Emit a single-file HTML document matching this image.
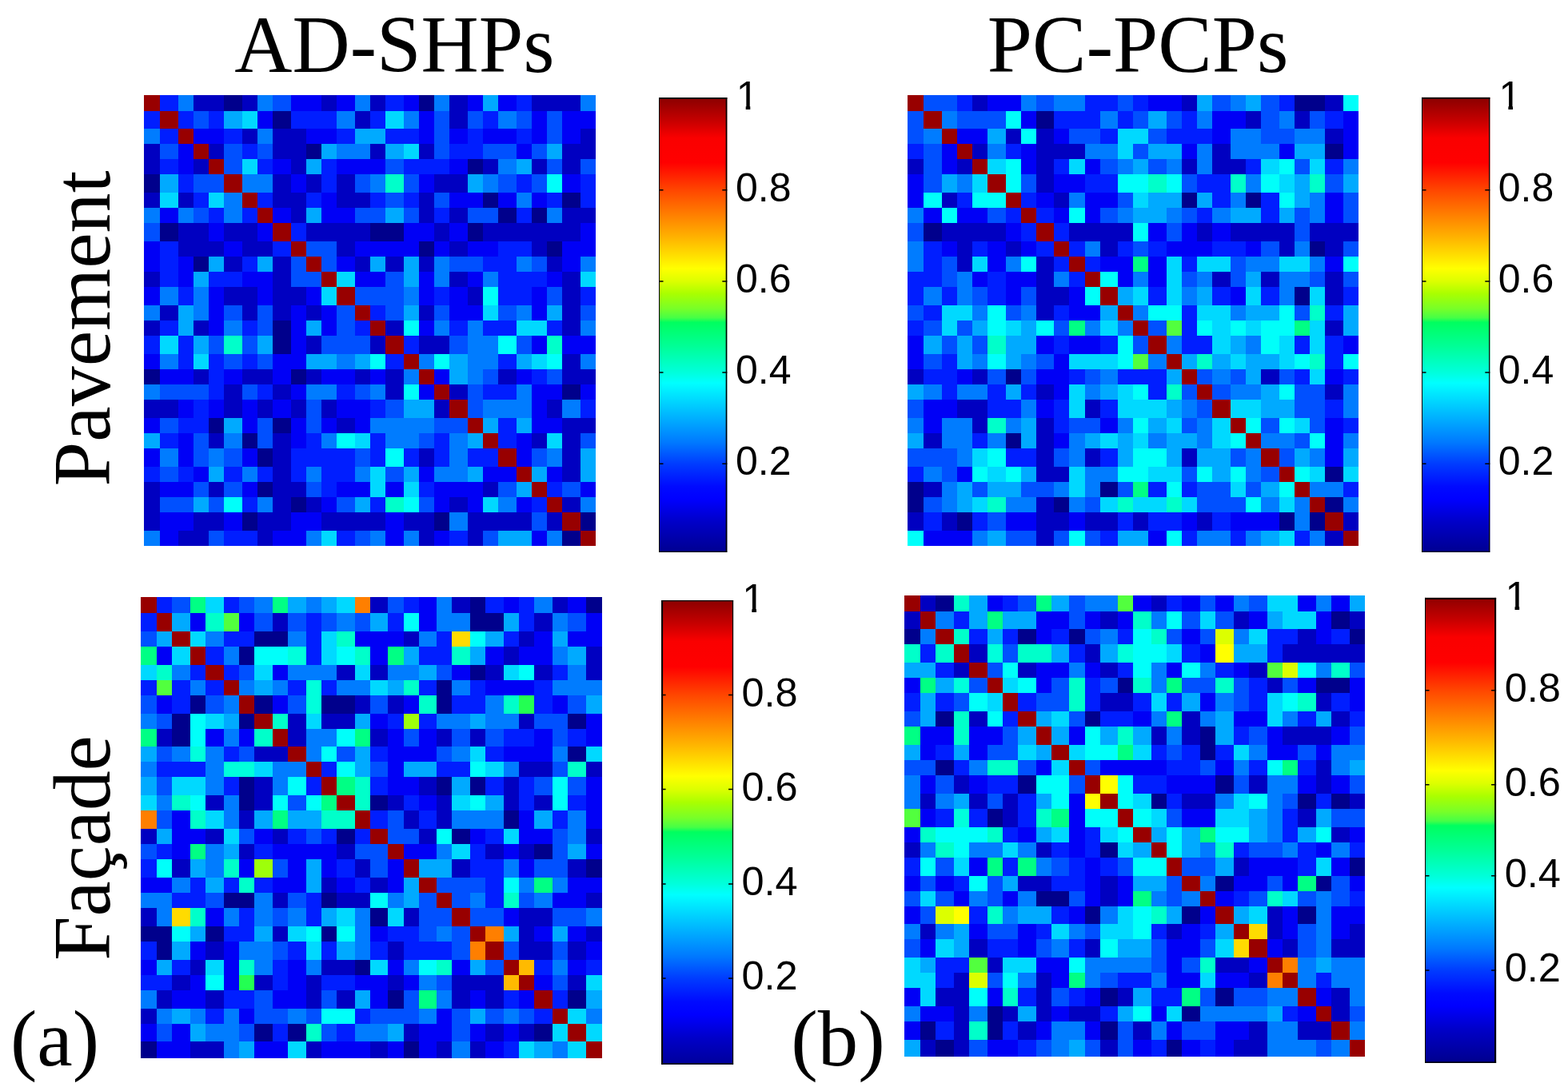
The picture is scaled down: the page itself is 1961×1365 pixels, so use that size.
<!DOCTYPE html>
<html lang="en"><head><meta charset="utf-8"><title>Correlation matrices</title>
<style>html,body{margin:0;padding:0;background:#fff}body{width:1961px;height:1365px;overflow:hidden}svg{display:block}.hm rect{shape-rendering:crispEdges}.t{font-family:"Liberation Serif",serif;fill:#000}.tl{font-family:"Liberation Sans",sans-serif;fill:#000}.tk{stroke:#000;stroke-width:1.5;fill:none}.bk{fill:#000}.k0{fill:#00008c}.k1{fill:#0000c1}.k2{fill:#0000f6}.k3{fill:#001eff}.k4{fill:#0050ff}.k5{fill:#007cff}.k6{fill:#00aaff}.k7{fill:#00d9ff}.k8{fill:#00fffa}.k9{fill:#00ffca}.ka{fill:#00ff84}.kb{fill:#52ff3e}.kc{fill:#dcff00}.kd{fill:#ffff00}.ke{fill:#ffba00}.kg{fill:#ff7f00}.kf{fill:#980000}.kh{fill:#00ffdc}.ki{fill:#9eff0a}.kj{fill:#ffdb00}.kk{fill:#23ff52}</style></head><body>
<svg width="1961" height="1365" viewBox="0 0 1961 1365">
<rect width="1961" height="1365" fill="#fff"/>
<text class="t" transform="translate(493.3 90) scale(0.985 1)" font-size="101.5" text-anchor="middle">AD-SHPs</text>
<text class="t" transform="translate(1423 90) scale(0.996 1)" font-size="101.5" text-anchor="middle">PC-PCPs</text>
<text class="t" transform="translate(136.5 411) rotate(-90) scale(0.987 1)" font-size="101.5" text-anchor="middle">Pavement</text>
<text class="t" transform="translate(136.5 1061) rotate(-90) scale(0.979 1)" font-size="101.5" text-anchor="middle">Façade</text>
<text class="t" transform="translate(68.5 1333) scale(1.005 1)" font-size="99.5" text-anchor="middle">(a)</text>
<text class="t" transform="translate(1048 1333) scale(1.013 1)" font-size="99.5" text-anchor="middle">(b)</text>
<g class="hm">
<rect class="kf" x="180" y="119" width="20.4" height="19.9"/>
<rect class="k3" x="200" y="119" width="23.3" height="19.9"/>
<rect class="k5" x="222.9" y="119" width="19.4" height="19.9"/>
<rect class="k1" x="241.9" y="119" width="38.5" height="19.9"/>
<rect class="k0" x="280" y="119" width="23.3" height="19.9"/>
<rect class="k1" x="302.9" y="119" width="19.4" height="19.9"/>
<rect class="k5" x="321.9" y="119" width="19.4" height="19.9"/>
<rect class="k4" x="340.9" y="119" width="23.3" height="19.9"/>
<rect class="k2" x="363.8" y="119" width="38.5" height="19.9"/>
<rect class="k1" x="401.9" y="119" width="19.4" height="19.9"/>
<rect class="k2" x="420.9" y="119" width="23.3" height="19.9"/>
<rect class="k5" x="443.8" y="119" width="19.4" height="19.9"/>
<rect class="k1" x="462.8" y="119" width="19.4" height="19.9"/>
<rect class="k3" x="481.8" y="119" width="23.3" height="19.9"/>
<rect class="k2" x="504.7" y="119" width="19.4" height="19.9"/>
<rect class="k0" x="523.7" y="119" width="19.5" height="19.9"/>
<rect class="k5" x="542.8" y="119" width="19.4" height="19.9"/>
<rect class="k1" x="561.8" y="119" width="23.2" height="19.9"/>
<rect class="k2" x="584.6" y="119" width="19.5" height="19.9"/>
<rect class="k6" x="603.7" y="119" width="19.4" height="19.9"/>
<rect class="k2" x="622.7" y="119" width="23.3" height="19.9"/>
<rect class="k3" x="645.6" y="119" width="19.4" height="19.9"/>
<rect class="k1" x="664.6" y="119" width="61.3" height="19.9"/>
<rect class="k5" x="725.5" y="119" width="19.5" height="19.9"/>
<rect class="k3" x="180" y="138.5" width="20.4" height="23.2"/>
<rect class="kf" x="200" y="138.5" width="23.3" height="23.2"/>
<rect class="k3" x="222.9" y="138.5" width="19.4" height="23.2"/>
<rect class="k4" x="241.9" y="138.5" width="19.5" height="23.2"/>
<rect class="k3" x="261" y="138.5" width="19.4" height="23.2"/>
<rect class="k6" x="280" y="138.5" width="23.3" height="23.2"/>
<rect class="k7" x="302.9" y="138.5" width="19.4" height="23.2"/>
<rect class="k2" x="321.9" y="138.5" width="19.4" height="23.2"/>
<rect class="k0" x="340.9" y="138.5" width="23.3" height="23.2"/>
<rect class="k3" x="363.8" y="138.5" width="57.5" height="23.2"/>
<rect class="k5" x="420.9" y="138.5" width="23.3" height="23.2"/>
<rect class="k1" x="443.8" y="138.5" width="19.4" height="23.2"/>
<rect class="k3" x="462.8" y="138.5" width="19.4" height="23.2"/>
<rect class="k7" x="481.8" y="138.5" width="23.3" height="23.2"/>
<rect class="k5" x="504.7" y="138.5" width="19.4" height="23.2"/>
<rect class="k2" x="523.7" y="138.5" width="19.5" height="23.2"/>
<rect class="k4" x="542.8" y="138.5" width="19.4" height="23.2"/>
<rect class="k1" x="561.8" y="138.5" width="23.2" height="23.2"/>
<rect class="k4" x="584.6" y="138.5" width="19.5" height="23.2"/>
<rect class="k3" x="603.7" y="138.5" width="19.4" height="23.2"/>
<rect class="k5" x="622.7" y="138.5" width="23.3" height="23.2"/>
<rect class="k4" x="645.6" y="138.5" width="19.4" height="23.2"/>
<rect class="k2" x="664.6" y="138.5" width="19.5" height="23.2"/>
<rect class="k4" x="683.7" y="138.5" width="19.4" height="23.2"/>
<rect class="k2" x="702.7" y="138.5" width="42.3" height="23.2"/>
<rect class="k5" x="180" y="161.3" width="20.4" height="19.5"/>
<rect class="k3" x="200" y="161.3" width="23.3" height="19.5"/>
<rect class="kf" x="222.9" y="161.3" width="19.4" height="19.5"/>
<rect class="k2" x="241.9" y="161.3" width="38.5" height="19.5"/>
<rect class="k3" x="280" y="161.3" width="23.3" height="19.5"/>
<rect class="k1" x="302.9" y="161.3" width="19.4" height="19.5"/>
<rect class="k5" x="321.9" y="161.3" width="19.4" height="19.5"/>
<rect class="k1" x="340.9" y="161.3" width="42.3" height="19.5"/>
<rect class="k2" x="382.8" y="161.3" width="38.5" height="19.5"/>
<rect class="k3" x="420.9" y="161.3" width="23.3" height="19.5"/>
<rect class="k6" x="443.8" y="161.3" width="38.4" height="19.5"/>
<rect class="k3" x="481.8" y="161.3" width="42.3" height="19.5"/>
<rect class="k2" x="523.7" y="161.3" width="19.5" height="19.5"/>
<rect class="k4" x="542.8" y="161.3" width="19.4" height="19.5"/>
<rect class="k2" x="561.8" y="161.3" width="23.2" height="19.5"/>
<rect class="k3" x="584.6" y="161.3" width="19.5" height="19.5"/>
<rect class="k2" x="603.7" y="161.3" width="42.3" height="19.5"/>
<rect class="k3" x="645.6" y="161.3" width="19.4" height="19.5"/>
<rect class="k2" x="664.6" y="161.3" width="19.5" height="19.5"/>
<rect class="k4" x="683.7" y="161.3" width="19.4" height="19.5"/>
<rect class="k2" x="702.7" y="161.3" width="23.2" height="19.5"/>
<rect class="k1" x="725.5" y="161.3" width="19.5" height="19.5"/>
<rect class="k1" x="180" y="180.4" width="20.4" height="19.4"/>
<rect class="k4" x="200" y="180.4" width="23.3" height="19.4"/>
<rect class="k2" x="222.9" y="180.4" width="19.4" height="19.4"/>
<rect class="kf" x="241.9" y="180.4" width="19.5" height="19.4"/>
<rect class="k1" x="261" y="180.4" width="19.4" height="19.4"/>
<rect class="k4" x="280" y="180.4" width="23.3" height="19.4"/>
<rect class="k3" x="302.9" y="180.4" width="19.4" height="19.4"/>
<rect class="k4" x="321.9" y="180.4" width="19.4" height="19.4"/>
<rect class="k1" x="340.9" y="180.4" width="42.3" height="19.4"/>
<rect class="k0" x="382.8" y="180.4" width="19.5" height="19.4"/>
<rect class="k6" x="401.9" y="180.4" width="19.4" height="19.4"/>
<rect class="k5" x="420.9" y="180.4" width="42.3" height="19.4"/>
<rect class="k1" x="462.8" y="180.4" width="19.4" height="19.4"/>
<rect class="k6" x="481.8" y="180.4" width="23.3" height="19.4"/>
<rect class="k7" x="504.7" y="180.4" width="19.4" height="19.4"/>
<rect class="k1" x="523.7" y="180.4" width="19.5" height="19.4"/>
<rect class="k4" x="542.8" y="180.4" width="19.4" height="19.4"/>
<rect class="k3" x="561.8" y="180.4" width="42.3" height="19.4"/>
<rect class="k4" x="603.7" y="180.4" width="42.3" height="19.4"/>
<rect class="k2" x="645.6" y="180.4" width="19.4" height="19.4"/>
<rect class="k4" x="664.6" y="180.4" width="19.5" height="19.4"/>
<rect class="k6" x="683.7" y="180.4" width="19.4" height="19.4"/>
<rect class="k1" x="702.7" y="180.4" width="42.3" height="19.4"/>
<rect class="k1" x="180" y="199.4" width="20.4" height="19.4"/>
<rect class="k3" x="200" y="199.4" width="23.3" height="19.4"/>
<rect class="k2" x="222.9" y="199.4" width="19.4" height="19.4"/>
<rect class="k1" x="241.9" y="199.4" width="19.5" height="19.4"/>
<rect class="kf" x="261" y="199.4" width="19.4" height="19.4"/>
<rect class="k4" x="280" y="199.4" width="23.3" height="19.4"/>
<rect class="k7" x="302.9" y="199.4" width="19.4" height="19.4"/>
<rect class="k3" x="321.9" y="199.4" width="19.4" height="19.4"/>
<rect class="k2" x="340.9" y="199.4" width="23.3" height="19.4"/>
<rect class="k1" x="363.8" y="199.4" width="19.4" height="19.4"/>
<rect class="k6" x="382.8" y="199.4" width="19.5" height="19.4"/>
<rect class="k3" x="401.9" y="199.4" width="19.4" height="19.4"/>
<rect class="k2" x="420.9" y="199.4" width="61.3" height="19.4"/>
<rect class="k4" x="481.8" y="199.4" width="23.3" height="19.4"/>
<rect class="k3" x="504.7" y="199.4" width="57.5" height="19.4"/>
<rect class="k2" x="561.8" y="199.4" width="23.2" height="19.4"/>
<rect class="k0" x="584.6" y="199.4" width="19.5" height="19.4"/>
<rect class="k1" x="603.7" y="199.4" width="19.4" height="19.4"/>
<rect class="k5" x="622.7" y="199.4" width="23.3" height="19.4"/>
<rect class="k6" x="645.6" y="199.4" width="19.4" height="19.4"/>
<rect class="k1" x="664.6" y="199.4" width="19.5" height="19.4"/>
<rect class="k4" x="683.7" y="199.4" width="19.4" height="19.4"/>
<rect class="k1" x="702.7" y="199.4" width="23.2" height="19.4"/>
<rect class="k4" x="725.5" y="199.4" width="19.5" height="19.4"/>
<rect class="k0" x="180" y="218.4" width="20.4" height="23.2"/>
<rect class="k6" x="200" y="218.4" width="23.3" height="23.2"/>
<rect class="k3" x="222.9" y="218.4" width="19.4" height="23.2"/>
<rect class="k4" x="241.9" y="218.4" width="38.5" height="23.2"/>
<rect class="kf" x="280" y="218.4" width="23.3" height="23.2"/>
<rect class="k5" x="302.9" y="218.4" width="38.4" height="23.2"/>
<rect class="k1" x="340.9" y="218.4" width="23.3" height="23.2"/>
<rect class="k2" x="363.8" y="218.4" width="19.4" height="23.2"/>
<rect class="k1" x="382.8" y="218.4" width="19.5" height="23.2"/>
<rect class="k3" x="401.9" y="218.4" width="19.4" height="23.2"/>
<rect class="k1" x="420.9" y="218.4" width="23.3" height="23.2"/>
<rect class="k4" x="443.8" y="218.4" width="19.4" height="23.2"/>
<rect class="k5" x="462.8" y="218.4" width="19.4" height="23.2"/>
<rect class="k9" x="481.8" y="218.4" width="23.3" height="23.2"/>
<rect class="k4" x="504.7" y="218.4" width="19.4" height="23.2"/>
<rect class="k2" x="523.7" y="218.4" width="19.5" height="23.2"/>
<rect class="k1" x="542.8" y="218.4" width="42.2" height="23.2"/>
<rect class="k6" x="584.6" y="218.4" width="19.5" height="23.2"/>
<rect class="k5" x="603.7" y="218.4" width="19.4" height="23.2"/>
<rect class="k4" x="622.7" y="218.4" width="23.3" height="23.2"/>
<rect class="k3" x="645.6" y="218.4" width="19.4" height="23.2"/>
<rect class="k4" x="664.6" y="218.4" width="19.5" height="23.2"/>
<rect class="k8" x="683.7" y="218.4" width="19.4" height="23.2"/>
<rect class="k2" x="702.7" y="218.4" width="23.2" height="23.2"/>
<rect class="k3" x="725.5" y="218.4" width="19.5" height="23.2"/>
<rect class="k1" x="180" y="241.2" width="20.4" height="19.4"/>
<rect class="k7" x="200" y="241.2" width="23.3" height="19.4"/>
<rect class="k1" x="222.9" y="241.2" width="19.4" height="19.4"/>
<rect class="k3" x="241.9" y="241.2" width="19.5" height="19.4"/>
<rect class="k7" x="261" y="241.2" width="19.4" height="19.4"/>
<rect class="k5" x="280" y="241.2" width="23.3" height="19.4"/>
<rect class="kf" x="302.9" y="241.2" width="19.4" height="19.4"/>
<rect class="k3" x="321.9" y="241.2" width="19.4" height="19.4"/>
<rect class="k1" x="340.9" y="241.2" width="42.3" height="19.4"/>
<rect class="k3" x="382.8" y="241.2" width="19.5" height="19.4"/>
<rect class="k2" x="401.9" y="241.2" width="19.4" height="19.4"/>
<rect class="k1" x="420.9" y="241.2" width="42.3" height="19.4"/>
<rect class="k3" x="462.8" y="241.2" width="19.4" height="19.4"/>
<rect class="k4" x="481.8" y="241.2" width="23.3" height="19.4"/>
<rect class="k3" x="504.7" y="241.2" width="19.4" height="19.4"/>
<rect class="k1" x="523.7" y="241.2" width="19.5" height="19.4"/>
<rect class="k4" x="542.8" y="241.2" width="19.4" height="19.4"/>
<rect class="k2" x="561.8" y="241.2" width="42.3" height="19.4"/>
<rect class="k0" x="603.7" y="241.2" width="19.4" height="19.4"/>
<rect class="k2" x="622.7" y="241.2" width="23.3" height="19.4"/>
<rect class="k5" x="645.6" y="241.2" width="19.4" height="19.4"/>
<rect class="k2" x="664.6" y="241.2" width="19.5" height="19.4"/>
<rect class="k3" x="683.7" y="241.2" width="19.4" height="19.4"/>
<rect class="k0" x="702.7" y="241.2" width="23.2" height="19.4"/>
<rect class="k3" x="725.5" y="241.2" width="19.5" height="19.4"/>
<rect class="k5" x="180" y="260.2" width="20.4" height="19.5"/>
<rect class="k2" x="200" y="260.2" width="23.3" height="19.5"/>
<rect class="k5" x="222.9" y="260.2" width="19.4" height="19.5"/>
<rect class="k4" x="241.9" y="260.2" width="19.5" height="19.5"/>
<rect class="k3" x="261" y="260.2" width="19.4" height="19.5"/>
<rect class="k5" x="280" y="260.2" width="23.3" height="19.5"/>
<rect class="k3" x="302.9" y="260.2" width="19.4" height="19.5"/>
<rect class="kf" x="321.9" y="260.2" width="19.4" height="19.5"/>
<rect class="k2" x="340.9" y="260.2" width="23.3" height="19.5"/>
<rect class="k1" x="363.8" y="260.2" width="19.4" height="19.5"/>
<rect class="k6" x="382.8" y="260.2" width="19.5" height="19.5"/>
<rect class="k2" x="401.9" y="260.2" width="42.3" height="19.5"/>
<rect class="k4" x="443.8" y="260.2" width="38.4" height="19.5"/>
<rect class="k6" x="481.8" y="260.2" width="23.3" height="19.5"/>
<rect class="k4" x="504.7" y="260.2" width="19.4" height="19.5"/>
<rect class="k1" x="523.7" y="260.2" width="19.5" height="19.5"/>
<rect class="k3" x="542.8" y="260.2" width="19.4" height="19.5"/>
<rect class="k1" x="561.8" y="260.2" width="23.2" height="19.5"/>
<rect class="k4" x="584.6" y="260.2" width="38.5" height="19.5"/>
<rect class="k0" x="622.7" y="260.2" width="23.3" height="19.5"/>
<rect class="k3" x="645.6" y="260.2" width="19.4" height="19.5"/>
<rect class="k0" x="664.6" y="260.2" width="19.5" height="19.5"/>
<rect class="k5" x="683.7" y="260.2" width="19.4" height="19.5"/>
<rect class="k1" x="702.7" y="260.2" width="42.3" height="19.5"/>
<rect class="k4" x="180" y="279.3" width="20.4" height="23.2"/>
<rect class="k0" x="200" y="279.3" width="23.3" height="23.2"/>
<rect class="k1" x="222.9" y="279.3" width="38.5" height="23.2"/>
<rect class="k2" x="261" y="279.3" width="19.4" height="23.2"/>
<rect class="k1" x="280" y="279.3" width="42.3" height="23.2"/>
<rect class="k2" x="321.9" y="279.3" width="19.4" height="23.2"/>
<rect class="kf" x="340.9" y="279.3" width="23.3" height="23.2"/>
<rect class="k3" x="363.8" y="279.3" width="19.4" height="23.2"/>
<rect class="k1" x="382.8" y="279.3" width="80.4" height="23.2"/>
<rect class="k0" x="462.8" y="279.3" width="42.3" height="23.2"/>
<rect class="k2" x="504.7" y="279.3" width="38.5" height="23.2"/>
<rect class="k1" x="542.8" y="279.3" width="19.4" height="23.2"/>
<rect class="k2" x="561.8" y="279.3" width="23.2" height="23.2"/>
<rect class="k0" x="584.6" y="279.3" width="19.5" height="23.2"/>
<rect class="k1" x="603.7" y="279.3" width="122.2" height="23.2"/>
<rect class="k2" x="725.5" y="279.3" width="19.5" height="23.2"/>
<rect class="k2" x="180" y="302.1" width="20.4" height="19.4"/>
<rect class="k3" x="200" y="302.1" width="23.3" height="19.4"/>
<rect class="k1" x="222.9" y="302.1" width="57.5" height="19.4"/>
<rect class="k2" x="280" y="302.1" width="23.3" height="19.4"/>
<rect class="k1" x="302.9" y="302.1" width="38.4" height="19.4"/>
<rect class="k3" x="340.9" y="302.1" width="23.3" height="19.4"/>
<rect class="kf" x="363.8" y="302.1" width="19.4" height="19.4"/>
<rect class="k4" x="382.8" y="302.1" width="38.5" height="19.4"/>
<rect class="k1" x="420.9" y="302.1" width="23.3" height="19.4"/>
<rect class="k2" x="443.8" y="302.1" width="80.3" height="19.4"/>
<rect class="k0" x="523.7" y="302.1" width="19.5" height="19.4"/>
<rect class="k2" x="542.8" y="302.1" width="19.4" height="19.4"/>
<rect class="k1" x="561.8" y="302.1" width="23.2" height="19.4"/>
<rect class="k2" x="584.6" y="302.1" width="38.5" height="19.4"/>
<rect class="k3" x="622.7" y="302.1" width="42.3" height="19.4"/>
<rect class="k1" x="664.6" y="302.1" width="19.5" height="19.4"/>
<rect class="k0" x="683.7" y="302.1" width="19.4" height="19.4"/>
<rect class="k2" x="702.7" y="302.1" width="42.3" height="19.4"/>
<rect class="k2" x="180" y="321.1" width="20.4" height="19.4"/>
<rect class="k3" x="200" y="321.1" width="23.3" height="19.4"/>
<rect class="k2" x="222.9" y="321.1" width="19.4" height="19.4"/>
<rect class="k0" x="241.9" y="321.1" width="19.5" height="19.4"/>
<rect class="k6" x="261" y="321.1" width="19.4" height="19.4"/>
<rect class="k1" x="280" y="321.1" width="23.3" height="19.4"/>
<rect class="k3" x="302.9" y="321.1" width="19.4" height="19.4"/>
<rect class="k6" x="321.9" y="321.1" width="19.4" height="19.4"/>
<rect class="k1" x="340.9" y="321.1" width="23.3" height="19.4"/>
<rect class="k4" x="363.8" y="321.1" width="19.4" height="19.4"/>
<rect class="kf" x="382.8" y="321.1" width="19.5" height="19.4"/>
<rect class="k4" x="401.9" y="321.1" width="19.4" height="19.4"/>
<rect class="k2" x="420.9" y="321.1" width="23.3" height="19.4"/>
<rect class="k1" x="443.8" y="321.1" width="19.4" height="19.4"/>
<rect class="k6" x="462.8" y="321.1" width="19.4" height="19.4"/>
<rect class="k1" x="481.8" y="321.1" width="23.3" height="19.4"/>
<rect class="k6" x="504.7" y="321.1" width="19.4" height="19.4"/>
<rect class="k1" x="523.7" y="321.1" width="19.5" height="19.4"/>
<rect class="k5" x="542.8" y="321.1" width="19.4" height="19.4"/>
<rect class="k4" x="561.8" y="321.1" width="42.3" height="19.4"/>
<rect class="k3" x="603.7" y="321.1" width="42.3" height="19.4"/>
<rect class="k5" x="645.6" y="321.1" width="19.4" height="19.4"/>
<rect class="k4" x="664.6" y="321.1" width="19.5" height="19.4"/>
<rect class="k1" x="683.7" y="321.1" width="19.4" height="19.4"/>
<rect class="k2" x="702.7" y="321.1" width="23.2" height="19.4"/>
<rect class="k5" x="725.5" y="321.1" width="19.5" height="19.4"/>
<rect class="k1" x="180" y="340.1" width="20.4" height="19.5"/>
<rect class="k3" x="200" y="340.1" width="23.3" height="19.5"/>
<rect class="k2" x="222.9" y="340.1" width="19.4" height="19.5"/>
<rect class="k6" x="241.9" y="340.1" width="19.5" height="19.5"/>
<rect class="k3" x="261" y="340.1" width="42.3" height="19.5"/>
<rect class="k2" x="302.9" y="340.1" width="38.4" height="19.5"/>
<rect class="k1" x="340.9" y="340.1" width="23.3" height="19.5"/>
<rect class="k4" x="363.8" y="340.1" width="38.5" height="19.5"/>
<rect class="kf" x="401.9" y="340.1" width="19.4" height="19.5"/>
<rect class="k7" x="420.9" y="340.1" width="23.3" height="19.5"/>
<rect class="k2" x="443.8" y="340.1" width="38.4" height="19.5"/>
<rect class="k4" x="481.8" y="340.1" width="23.3" height="19.5"/>
<rect class="k6" x="504.7" y="340.1" width="19.4" height="19.5"/>
<rect class="k2" x="523.7" y="340.1" width="19.5" height="19.5"/>
<rect class="k5" x="542.8" y="340.1" width="19.4" height="19.5"/>
<rect class="k1" x="561.8" y="340.1" width="23.2" height="19.5"/>
<rect class="k2" x="584.6" y="340.1" width="19.5" height="19.5"/>
<rect class="k5" x="603.7" y="340.1" width="19.4" height="19.5"/>
<rect class="k3" x="622.7" y="340.1" width="61.4" height="19.5"/>
<rect class="k2" x="683.7" y="340.1" width="19.4" height="19.5"/>
<rect class="k1" x="702.7" y="340.1" width="23.2" height="19.5"/>
<rect class="k7" x="725.5" y="340.1" width="19.5" height="19.5"/>
<rect class="k2" x="180" y="359.2" width="20.4" height="23.2"/>
<rect class="k5" x="200" y="359.2" width="23.3" height="23.2"/>
<rect class="k3" x="222.9" y="359.2" width="19.4" height="23.2"/>
<rect class="k5" x="241.9" y="359.2" width="19.5" height="23.2"/>
<rect class="k2" x="261" y="359.2" width="19.4" height="23.2"/>
<rect class="k1" x="280" y="359.2" width="42.3" height="23.2"/>
<rect class="k2" x="321.9" y="359.2" width="19.4" height="23.2"/>
<rect class="k1" x="340.9" y="359.2" width="42.3" height="23.2"/>
<rect class="k2" x="382.8" y="359.2" width="19.5" height="23.2"/>
<rect class="k7" x="401.9" y="359.2" width="19.4" height="23.2"/>
<rect class="kf" x="420.9" y="359.2" width="23.3" height="23.2"/>
<rect class="k4" x="443.8" y="359.2" width="61.3" height="23.2"/>
<rect class="k5" x="504.7" y="359.2" width="19.4" height="23.2"/>
<rect class="k2" x="523.7" y="359.2" width="19.5" height="23.2"/>
<rect class="k3" x="542.8" y="359.2" width="19.4" height="23.2"/>
<rect class="k2" x="561.8" y="359.2" width="23.2" height="23.2"/>
<rect class="k1" x="584.6" y="359.2" width="19.5" height="23.2"/>
<rect class="k8" x="603.7" y="359.2" width="19.4" height="23.2"/>
<rect class="k3" x="622.7" y="359.2" width="42.3" height="23.2"/>
<rect class="k2" x="664.6" y="359.2" width="19.5" height="23.2"/>
<rect class="k4" x="683.7" y="359.2" width="19.4" height="23.2"/>
<rect class="k1" x="702.7" y="359.2" width="23.2" height="23.2"/>
<rect class="k3" x="725.5" y="359.2" width="19.5" height="23.2"/>
<rect class="k5" x="180" y="382" width="20.4" height="19.4"/>
<rect class="k1" x="200" y="382" width="23.3" height="19.4"/>
<rect class="k6" x="222.9" y="382" width="19.4" height="19.4"/>
<rect class="k5" x="241.9" y="382" width="19.5" height="19.4"/>
<rect class="k2" x="261" y="382" width="19.4" height="19.4"/>
<rect class="k4" x="280" y="382" width="23.3" height="19.4"/>
<rect class="k1" x="302.9" y="382" width="19.4" height="19.4"/>
<rect class="k4" x="321.9" y="382" width="19.4" height="19.4"/>
<rect class="k1" x="340.9" y="382" width="23.3" height="19.4"/>
<rect class="k2" x="363.8" y="382" width="19.4" height="19.4"/>
<rect class="k1" x="382.8" y="382" width="19.5" height="19.4"/>
<rect class="k2" x="401.9" y="382" width="19.4" height="19.4"/>
<rect class="k4" x="420.9" y="382" width="23.3" height="19.4"/>
<rect class="kf" x="443.8" y="382" width="19.4" height="19.4"/>
<rect class="k3" x="462.8" y="382" width="19.4" height="19.4"/>
<rect class="k4" x="481.8" y="382" width="23.3" height="19.4"/>
<rect class="k6" x="504.7" y="382" width="19.4" height="19.4"/>
<rect class="k1" x="523.7" y="382" width="19.5" height="19.4"/>
<rect class="k4" x="542.8" y="382" width="19.4" height="19.4"/>
<rect class="k2" x="561.8" y="382" width="42.3" height="19.4"/>
<rect class="k7" x="603.7" y="382" width="19.4" height="19.4"/>
<rect class="k4" x="622.7" y="382" width="23.3" height="19.4"/>
<rect class="k5" x="645.6" y="382" width="19.4" height="19.4"/>
<rect class="k2" x="664.6" y="382" width="19.5" height="19.4"/>
<rect class="k6" x="683.7" y="382" width="19.4" height="19.4"/>
<rect class="k1" x="702.7" y="382" width="23.2" height="19.4"/>
<rect class="k4" x="725.5" y="382" width="19.5" height="19.4"/>
<rect class="k1" x="180" y="401" width="20.4" height="19.4"/>
<rect class="k3" x="200" y="401" width="23.3" height="19.4"/>
<rect class="k6" x="222.9" y="401" width="19.4" height="19.4"/>
<rect class="k1" x="241.9" y="401" width="19.5" height="19.4"/>
<rect class="k2" x="261" y="401" width="19.4" height="19.4"/>
<rect class="k5" x="280" y="401" width="23.3" height="19.4"/>
<rect class="k3" x="302.9" y="401" width="19.4" height="19.4"/>
<rect class="k4" x="321.9" y="401" width="19.4" height="19.4"/>
<rect class="k0" x="340.9" y="401" width="23.3" height="19.4"/>
<rect class="k2" x="363.8" y="401" width="19.4" height="19.4"/>
<rect class="k6" x="382.8" y="401" width="19.5" height="19.4"/>
<rect class="k2" x="401.9" y="401" width="19.4" height="19.4"/>
<rect class="k4" x="420.9" y="401" width="23.3" height="19.4"/>
<rect class="k3" x="443.8" y="401" width="19.4" height="19.4"/>
<rect class="kf" x="462.8" y="401" width="19.4" height="19.4"/>
<rect class="k1" x="481.8" y="401" width="23.3" height="19.4"/>
<rect class="k8" x="504.7" y="401" width="19.4" height="19.4"/>
<rect class="k2" x="523.7" y="401" width="19.5" height="19.4"/>
<rect class="k5" x="542.8" y="401" width="19.4" height="19.4"/>
<rect class="k3" x="561.8" y="401" width="23.2" height="19.4"/>
<rect class="k5" x="584.6" y="401" width="19.5" height="19.4"/>
<rect class="k3" x="603.7" y="401" width="42.3" height="19.4"/>
<rect class="k7" x="645.6" y="401" width="38.5" height="19.4"/>
<rect class="k3" x="683.7" y="401" width="19.4" height="19.4"/>
<rect class="k1" x="702.7" y="401" width="23.2" height="19.4"/>
<rect class="k5" x="725.5" y="401" width="19.5" height="19.4"/>
<rect class="k3" x="180" y="420" width="20.4" height="23.2"/>
<rect class="k7" x="200" y="420" width="23.3" height="23.2"/>
<rect class="k3" x="222.9" y="420" width="19.4" height="23.2"/>
<rect class="k6" x="241.9" y="420" width="19.5" height="23.2"/>
<rect class="k4" x="261" y="420" width="19.4" height="23.2"/>
<rect class="k9" x="280" y="420" width="23.3" height="23.2"/>
<rect class="k4" x="302.9" y="420" width="19.4" height="23.2"/>
<rect class="k6" x="321.9" y="420" width="19.4" height="23.2"/>
<rect class="k0" x="340.9" y="420" width="23.3" height="23.2"/>
<rect class="k2" x="363.8" y="420" width="19.4" height="23.2"/>
<rect class="k1" x="382.8" y="420" width="19.5" height="23.2"/>
<rect class="k4" x="401.9" y="420" width="61.3" height="23.2"/>
<rect class="k1" x="462.8" y="420" width="19.4" height="23.2"/>
<rect class="kf" x="481.8" y="420" width="23.3" height="23.2"/>
<rect class="k3" x="504.7" y="420" width="19.4" height="23.2"/>
<rect class="k1" x="523.7" y="420" width="38.5" height="23.2"/>
<rect class="k4" x="561.8" y="420" width="23.2" height="23.2"/>
<rect class="k5" x="584.6" y="420" width="38.5" height="23.2"/>
<rect class="k8" x="622.7" y="420" width="23.3" height="23.2"/>
<rect class="k4" x="645.6" y="420" width="19.4" height="23.2"/>
<rect class="k2" x="664.6" y="420" width="19.5" height="23.2"/>
<rect class="k9" x="683.7" y="420" width="19.4" height="23.2"/>
<rect class="k2" x="702.7" y="420" width="42.3" height="23.2"/>
<rect class="k2" x="180" y="442.8" width="20.4" height="19.5"/>
<rect class="k5" x="200" y="442.8" width="23.3" height="19.5"/>
<rect class="k3" x="222.9" y="442.8" width="19.4" height="19.5"/>
<rect class="k7" x="241.9" y="442.8" width="19.5" height="19.5"/>
<rect class="k3" x="261" y="442.8" width="19.4" height="19.5"/>
<rect class="k4" x="280" y="442.8" width="23.3" height="19.5"/>
<rect class="k3" x="302.9" y="442.8" width="19.4" height="19.5"/>
<rect class="k4" x="321.9" y="442.8" width="19.4" height="19.5"/>
<rect class="k2" x="340.9" y="442.8" width="42.3" height="19.5"/>
<rect class="k6" x="382.8" y="442.8" width="38.5" height="19.5"/>
<rect class="k5" x="420.9" y="442.8" width="23.3" height="19.5"/>
<rect class="k6" x="443.8" y="442.8" width="19.4" height="19.5"/>
<rect class="k8" x="462.8" y="442.8" width="19.4" height="19.5"/>
<rect class="k3" x="481.8" y="442.8" width="23.3" height="19.5"/>
<rect class="kf" x="504.7" y="442.8" width="19.4" height="19.5"/>
<rect class="k5" x="523.7" y="442.8" width="19.5" height="19.5"/>
<rect class="k8" x="542.8" y="442.8" width="19.4" height="19.5"/>
<rect class="k6" x="561.8" y="442.8" width="23.2" height="19.5"/>
<rect class="k5" x="584.6" y="442.8" width="38.5" height="19.5"/>
<rect class="k3" x="622.7" y="442.8" width="23.3" height="19.5"/>
<rect class="k6" x="645.6" y="442.8" width="19.4" height="19.5"/>
<rect class="k7" x="664.6" y="442.8" width="19.5" height="19.5"/>
<rect class="k8" x="683.7" y="442.8" width="19.4" height="19.5"/>
<rect class="k1" x="702.7" y="442.8" width="23.2" height="19.5"/>
<rect class="k5" x="725.5" y="442.8" width="19.5" height="19.5"/>
<rect class="k0" x="180" y="461.9" width="20.4" height="19.4"/>
<rect class="k2" x="200" y="461.9" width="42.3" height="19.4"/>
<rect class="k1" x="241.9" y="461.9" width="19.5" height="19.4"/>
<rect class="k3" x="261" y="461.9" width="19.4" height="19.4"/>
<rect class="k2" x="280" y="461.9" width="23.3" height="19.4"/>
<rect class="k1" x="302.9" y="461.9" width="38.4" height="19.4"/>
<rect class="k2" x="340.9" y="461.9" width="23.3" height="19.4"/>
<rect class="k0" x="363.8" y="461.9" width="19.4" height="19.4"/>
<rect class="k1" x="382.8" y="461.9" width="19.5" height="19.4"/>
<rect class="k2" x="401.9" y="461.9" width="42.3" height="19.4"/>
<rect class="k1" x="443.8" y="461.9" width="19.4" height="19.4"/>
<rect class="k2" x="462.8" y="461.9" width="19.4" height="19.4"/>
<rect class="k1" x="481.8" y="461.9" width="23.3" height="19.4"/>
<rect class="k5" x="504.7" y="461.9" width="19.4" height="19.4"/>
<rect class="kf" x="523.7" y="461.9" width="19.5" height="19.4"/>
<rect class="k2" x="542.8" y="461.9" width="19.4" height="19.4"/>
<rect class="k6" x="561.8" y="461.9" width="23.2" height="19.4"/>
<rect class="k5" x="584.6" y="461.9" width="19.5" height="19.4"/>
<rect class="k4" x="603.7" y="461.9" width="19.4" height="19.4"/>
<rect class="k1" x="622.7" y="461.9" width="23.3" height="19.4"/>
<rect class="k2" x="645.6" y="461.9" width="19.4" height="19.4"/>
<rect class="k3" x="664.6" y="461.9" width="19.5" height="19.4"/>
<rect class="k4" x="683.7" y="461.9" width="19.4" height="19.4"/>
<rect class="k1" x="702.7" y="461.9" width="42.3" height="19.4"/>
<rect class="k5" x="180" y="480.9" width="20.4" height="19.4"/>
<rect class="k4" x="200" y="480.9" width="61.4" height="19.4"/>
<rect class="k3" x="261" y="480.9" width="19.4" height="19.4"/>
<rect class="k1" x="280" y="480.9" width="23.3" height="19.4"/>
<rect class="k4" x="302.9" y="480.9" width="19.4" height="19.4"/>
<rect class="k3" x="321.9" y="480.9" width="19.4" height="19.4"/>
<rect class="k1" x="340.9" y="480.9" width="23.3" height="19.4"/>
<rect class="k2" x="363.8" y="480.9" width="19.4" height="19.4"/>
<rect class="k5" x="382.8" y="480.9" width="38.5" height="19.4"/>
<rect class="k3" x="420.9" y="480.9" width="23.3" height="19.4"/>
<rect class="k4" x="443.8" y="480.9" width="19.4" height="19.4"/>
<rect class="k5" x="462.8" y="480.9" width="19.4" height="19.4"/>
<rect class="k1" x="481.8" y="480.9" width="23.3" height="19.4"/>
<rect class="k8" x="504.7" y="480.9" width="19.4" height="19.4"/>
<rect class="k2" x="523.7" y="480.9" width="19.5" height="19.4"/>
<rect class="kf" x="542.8" y="480.9" width="19.4" height="19.4"/>
<rect class="k1" x="561.8" y="480.9" width="23.2" height="19.4"/>
<rect class="k4" x="584.6" y="480.9" width="19.5" height="19.4"/>
<rect class="k3" x="603.7" y="480.9" width="42.3" height="19.4"/>
<rect class="k5" x="645.6" y="480.9" width="19.4" height="19.4"/>
<rect class="k2" x="664.6" y="480.9" width="38.5" height="19.4"/>
<rect class="k0" x="702.7" y="480.9" width="23.2" height="19.4"/>
<rect class="k2" x="725.5" y="480.9" width="19.5" height="19.4"/>
<rect class="k1" x="180" y="499.9" width="43.3" height="23.2"/>
<rect class="k2" x="222.9" y="499.9" width="19.4" height="23.2"/>
<rect class="k3" x="241.9" y="499.9" width="19.5" height="23.2"/>
<rect class="k2" x="261" y="499.9" width="19.4" height="23.2"/>
<rect class="k1" x="280" y="499.9" width="23.3" height="23.2"/>
<rect class="k2" x="302.9" y="499.9" width="19.4" height="23.2"/>
<rect class="k1" x="321.9" y="499.9" width="19.4" height="23.2"/>
<rect class="k2" x="340.9" y="499.9" width="23.3" height="23.2"/>
<rect class="k1" x="363.8" y="499.9" width="19.4" height="23.2"/>
<rect class="k4" x="382.8" y="499.9" width="19.5" height="23.2"/>
<rect class="k1" x="401.9" y="499.9" width="19.4" height="23.2"/>
<rect class="k2" x="420.9" y="499.9" width="42.3" height="23.2"/>
<rect class="k3" x="462.8" y="499.9" width="19.4" height="23.2"/>
<rect class="k4" x="481.8" y="499.9" width="23.3" height="23.2"/>
<rect class="k6" x="504.7" y="499.9" width="38.5" height="23.2"/>
<rect class="k1" x="542.8" y="499.9" width="19.4" height="23.2"/>
<rect class="kf" x="561.8" y="499.9" width="23.2" height="23.2"/>
<rect class="k4" x="584.6" y="499.9" width="19.5" height="23.2"/>
<rect class="k5" x="603.7" y="499.9" width="61.3" height="23.2"/>
<rect class="k2" x="664.6" y="499.9" width="19.5" height="23.2"/>
<rect class="k1" x="683.7" y="499.9" width="19.4" height="23.2"/>
<rect class="k5" x="702.7" y="499.9" width="23.2" height="23.2"/>
<rect class="k3" x="725.5" y="499.9" width="19.5" height="23.2"/>
<rect class="k2" x="180" y="522.7" width="20.4" height="19.4"/>
<rect class="k4" x="200" y="522.7" width="23.3" height="19.4"/>
<rect class="k3" x="222.9" y="522.7" width="38.5" height="19.4"/>
<rect class="k0" x="261" y="522.7" width="19.4" height="19.4"/>
<rect class="k6" x="280" y="522.7" width="23.3" height="19.4"/>
<rect class="k2" x="302.9" y="522.7" width="19.4" height="19.4"/>
<rect class="k4" x="321.9" y="522.7" width="19.4" height="19.4"/>
<rect class="k0" x="340.9" y="522.7" width="23.3" height="19.4"/>
<rect class="k2" x="363.8" y="522.7" width="19.4" height="19.4"/>
<rect class="k4" x="382.8" y="522.7" width="19.5" height="19.4"/>
<rect class="k2" x="401.9" y="522.7" width="19.4" height="19.4"/>
<rect class="k1" x="420.9" y="522.7" width="23.3" height="19.4"/>
<rect class="k2" x="443.8" y="522.7" width="19.4" height="19.4"/>
<rect class="k5" x="462.8" y="522.7" width="80.4" height="19.4"/>
<rect class="k4" x="542.8" y="522.7" width="42.2" height="19.4"/>
<rect class="kf" x="584.6" y="522.7" width="19.5" height="19.4"/>
<rect class="k6" x="603.7" y="522.7" width="19.4" height="19.4"/>
<rect class="k3" x="622.7" y="522.7" width="23.3" height="19.4"/>
<rect class="k6" x="645.6" y="522.7" width="19.4" height="19.4"/>
<rect class="k2" x="664.6" y="522.7" width="38.5" height="19.4"/>
<rect class="k1" x="702.7" y="522.7" width="42.3" height="19.4"/>
<rect class="k6" x="180" y="541.7" width="20.4" height="19.5"/>
<rect class="k3" x="200" y="541.7" width="23.3" height="19.5"/>
<rect class="k2" x="222.9" y="541.7" width="19.4" height="19.5"/>
<rect class="k4" x="241.9" y="541.7" width="19.5" height="19.5"/>
<rect class="k1" x="261" y="541.7" width="19.4" height="19.5"/>
<rect class="k5" x="280" y="541.7" width="23.3" height="19.5"/>
<rect class="k0" x="302.9" y="541.7" width="19.4" height="19.5"/>
<rect class="k4" x="321.9" y="541.7" width="19.4" height="19.5"/>
<rect class="k1" x="340.9" y="541.7" width="23.3" height="19.5"/>
<rect class="k2" x="363.8" y="541.7" width="19.4" height="19.5"/>
<rect class="k3" x="382.8" y="541.7" width="19.5" height="19.5"/>
<rect class="k5" x="401.9" y="541.7" width="19.4" height="19.5"/>
<rect class="k8" x="420.9" y="541.7" width="23.3" height="19.5"/>
<rect class="k7" x="443.8" y="541.7" width="19.4" height="19.5"/>
<rect class="k3" x="462.8" y="541.7" width="19.4" height="19.5"/>
<rect class="k5" x="481.8" y="541.7" width="42.3" height="19.5"/>
<rect class="k4" x="523.7" y="541.7" width="19.5" height="19.5"/>
<rect class="k3" x="542.8" y="541.7" width="19.4" height="19.5"/>
<rect class="k5" x="561.8" y="541.7" width="23.2" height="19.5"/>
<rect class="k6" x="584.6" y="541.7" width="19.5" height="19.5"/>
<rect class="kf" x="603.7" y="541.7" width="19.4" height="19.5"/>
<rect class="k3" x="622.7" y="541.7" width="23.3" height="19.5"/>
<rect class="k2" x="645.6" y="541.7" width="19.4" height="19.5"/>
<rect class="k1" x="664.6" y="541.7" width="19.5" height="19.5"/>
<rect class="k7" x="683.7" y="541.7" width="19.4" height="19.5"/>
<rect class="k1" x="702.7" y="541.7" width="23.2" height="19.5"/>
<rect class="k4" x="725.5" y="541.7" width="19.5" height="19.5"/>
<rect class="k2" x="180" y="560.8" width="20.4" height="23.2"/>
<rect class="k5" x="200" y="560.8" width="23.3" height="23.2"/>
<rect class="k2" x="222.9" y="560.8" width="19.4" height="23.2"/>
<rect class="k4" x="241.9" y="560.8" width="19.5" height="23.2"/>
<rect class="k5" x="261" y="560.8" width="19.4" height="23.2"/>
<rect class="k4" x="280" y="560.8" width="23.3" height="23.2"/>
<rect class="k2" x="302.9" y="560.8" width="19.4" height="23.2"/>
<rect class="k0" x="321.9" y="560.8" width="19.4" height="23.2"/>
<rect class="k1" x="340.9" y="560.8" width="23.3" height="23.2"/>
<rect class="k3" x="363.8" y="560.8" width="80.4" height="23.2"/>
<rect class="k4" x="443.8" y="560.8" width="19.4" height="23.2"/>
<rect class="k3" x="462.8" y="560.8" width="19.4" height="23.2"/>
<rect class="k8" x="481.8" y="560.8" width="23.3" height="23.2"/>
<rect class="k3" x="504.7" y="560.8" width="19.4" height="23.2"/>
<rect class="k1" x="523.7" y="560.8" width="19.5" height="23.2"/>
<rect class="k3" x="542.8" y="560.8" width="19.4" height="23.2"/>
<rect class="k5" x="561.8" y="560.8" width="23.2" height="23.2"/>
<rect class="k3" x="584.6" y="560.8" width="38.5" height="23.2"/>
<rect class="kf" x="622.7" y="560.8" width="23.3" height="23.2"/>
<rect class="k2" x="645.6" y="560.8" width="19.4" height="23.2"/>
<rect class="k4" x="664.6" y="560.8" width="19.5" height="23.2"/>
<rect class="k5" x="683.7" y="560.8" width="19.4" height="23.2"/>
<rect class="k1" x="702.7" y="560.8" width="23.2" height="23.2"/>
<rect class="k6" x="725.5" y="560.8" width="19.5" height="23.2"/>
<rect class="k3" x="180" y="583.6" width="20.4" height="19.4"/>
<rect class="k4" x="200" y="583.6" width="23.3" height="19.4"/>
<rect class="k3" x="222.9" y="583.6" width="19.4" height="19.4"/>
<rect class="k2" x="241.9" y="583.6" width="19.5" height="19.4"/>
<rect class="k6" x="261" y="583.6" width="19.4" height="19.4"/>
<rect class="k3" x="280" y="583.6" width="23.3" height="19.4"/>
<rect class="k5" x="302.9" y="583.6" width="19.4" height="19.4"/>
<rect class="k3" x="321.9" y="583.6" width="19.4" height="19.4"/>
<rect class="k1" x="340.9" y="583.6" width="23.3" height="19.4"/>
<rect class="k3" x="363.8" y="583.6" width="19.4" height="19.4"/>
<rect class="k5" x="382.8" y="583.6" width="19.5" height="19.4"/>
<rect class="k3" x="401.9" y="583.6" width="42.3" height="19.4"/>
<rect class="k5" x="443.8" y="583.6" width="19.4" height="19.4"/>
<rect class="k7" x="462.8" y="583.6" width="19.4" height="19.4"/>
<rect class="k4" x="481.8" y="583.6" width="23.3" height="19.4"/>
<rect class="k6" x="504.7" y="583.6" width="19.4" height="19.4"/>
<rect class="k2" x="523.7" y="583.6" width="19.5" height="19.4"/>
<rect class="k5" x="542.8" y="583.6" width="42.2" height="19.4"/>
<rect class="k6" x="584.6" y="583.6" width="19.5" height="19.4"/>
<rect class="k2" x="603.7" y="583.6" width="42.3" height="19.4"/>
<rect class="kf" x="645.6" y="583.6" width="19.4" height="19.4"/>
<rect class="k6" x="664.6" y="583.6" width="19.5" height="19.4"/>
<rect class="k2" x="683.7" y="583.6" width="19.4" height="19.4"/>
<rect class="k1" x="702.7" y="583.6" width="23.2" height="19.4"/>
<rect class="k6" x="725.5" y="583.6" width="19.5" height="19.4"/>
<rect class="k1" x="180" y="602.6" width="20.4" height="19.4"/>
<rect class="k2" x="200" y="602.6" width="42.3" height="19.4"/>
<rect class="k4" x="241.9" y="602.6" width="19.5" height="19.4"/>
<rect class="k1" x="261" y="602.6" width="19.4" height="19.4"/>
<rect class="k4" x="280" y="602.6" width="23.3" height="19.4"/>
<rect class="k2" x="302.9" y="602.6" width="19.4" height="19.4"/>
<rect class="k0" x="321.9" y="602.6" width="19.4" height="19.4"/>
<rect class="k1" x="340.9" y="602.6" width="42.3" height="19.4"/>
<rect class="k4" x="382.8" y="602.6" width="19.5" height="19.4"/>
<rect class="k3" x="401.9" y="602.6" width="19.4" height="19.4"/>
<rect class="k2" x="420.9" y="602.6" width="42.3" height="19.4"/>
<rect class="k7" x="462.8" y="602.6" width="19.4" height="19.4"/>
<rect class="k2" x="481.8" y="602.6" width="23.3" height="19.4"/>
<rect class="k7" x="504.7" y="602.6" width="19.4" height="19.4"/>
<rect class="k3" x="523.7" y="602.6" width="19.5" height="19.4"/>
<rect class="k2" x="542.8" y="602.6" width="61.3" height="19.4"/>
<rect class="k1" x="603.7" y="602.6" width="19.4" height="19.4"/>
<rect class="k4" x="622.7" y="602.6" width="23.3" height="19.4"/>
<rect class="k6" x="645.6" y="602.6" width="19.4" height="19.4"/>
<rect class="kf" x="664.6" y="602.6" width="19.5" height="19.4"/>
<rect class="k3" x="683.7" y="602.6" width="19.4" height="19.4"/>
<rect class="k4" x="702.7" y="602.6" width="23.2" height="19.4"/>
<rect class="k2" x="725.5" y="602.6" width="19.5" height="19.4"/>
<rect class="k1" x="180" y="621.6" width="20.4" height="19.4"/>
<rect class="k4" x="200" y="621.6" width="42.3" height="19.4"/>
<rect class="k6" x="241.9" y="621.6" width="19.5" height="19.4"/>
<rect class="k4" x="261" y="621.6" width="19.4" height="19.4"/>
<rect class="k8" x="280" y="621.6" width="23.3" height="19.4"/>
<rect class="k3" x="302.9" y="621.6" width="19.4" height="19.4"/>
<rect class="k5" x="321.9" y="621.6" width="19.4" height="19.4"/>
<rect class="k1" x="340.9" y="621.6" width="23.3" height="19.4"/>
<rect class="k0" x="363.8" y="621.6" width="19.4" height="19.4"/>
<rect class="k1" x="382.8" y="621.6" width="19.5" height="19.4"/>
<rect class="k2" x="401.9" y="621.6" width="19.4" height="19.4"/>
<rect class="k4" x="420.9" y="621.6" width="23.3" height="19.4"/>
<rect class="k6" x="443.8" y="621.6" width="19.4" height="19.4"/>
<rect class="k3" x="462.8" y="621.6" width="19.4" height="19.4"/>
<rect class="k9" x="481.8" y="621.6" width="23.3" height="19.4"/>
<rect class="k8" x="504.7" y="621.6" width="19.4" height="19.4"/>
<rect class="k4" x="523.7" y="621.6" width="19.5" height="19.4"/>
<rect class="k2" x="542.8" y="621.6" width="19.4" height="19.4"/>
<rect class="k1" x="561.8" y="621.6" width="23.2" height="19.4"/>
<rect class="k2" x="584.6" y="621.6" width="19.5" height="19.4"/>
<rect class="k7" x="603.7" y="621.6" width="19.4" height="19.4"/>
<rect class="k5" x="622.7" y="621.6" width="23.3" height="19.4"/>
<rect class="k2" x="645.6" y="621.6" width="19.4" height="19.4"/>
<rect class="k3" x="664.6" y="621.6" width="19.5" height="19.4"/>
<rect class="kf" x="683.7" y="621.6" width="19.4" height="19.4"/>
<rect class="k1" x="702.7" y="621.6" width="23.2" height="19.4"/>
<rect class="k5" x="725.5" y="621.6" width="19.5" height="19.4"/>
<rect class="k1" x="180" y="640.6" width="20.4" height="23.3"/>
<rect class="k2" x="200" y="640.6" width="42.3" height="23.3"/>
<rect class="k1" x="241.9" y="640.6" width="38.5" height="23.3"/>
<rect class="k2" x="280" y="640.6" width="23.3" height="23.3"/>
<rect class="k0" x="302.9" y="640.6" width="19.4" height="23.3"/>
<rect class="k1" x="321.9" y="640.6" width="42.3" height="23.3"/>
<rect class="k2" x="363.8" y="640.6" width="38.5" height="23.3"/>
<rect class="k1" x="401.9" y="640.6" width="80.3" height="23.3"/>
<rect class="k2" x="481.8" y="640.6" width="23.3" height="23.3"/>
<rect class="k1" x="504.7" y="640.6" width="38.5" height="23.3"/>
<rect class="k0" x="542.8" y="640.6" width="19.4" height="23.3"/>
<rect class="k5" x="561.8" y="640.6" width="23.2" height="23.3"/>
<rect class="k1" x="584.6" y="640.6" width="80.4" height="23.3"/>
<rect class="k4" x="664.6" y="640.6" width="19.5" height="23.3"/>
<rect class="k1" x="683.7" y="640.6" width="19.4" height="23.3"/>
<rect class="kf" x="702.7" y="640.6" width="23.2" height="23.3"/>
<rect class="k0" x="725.5" y="640.6" width="19.5" height="23.3"/>
<rect class="k5" x="180" y="663.5" width="20.4" height="19.3"/>
<rect class="k2" x="200" y="663.5" width="23.3" height="19.3"/>
<rect class="k1" x="222.9" y="663.5" width="38.5" height="19.3"/>
<rect class="k4" x="261" y="663.5" width="19.4" height="19.3"/>
<rect class="k3" x="280" y="663.5" width="42.3" height="19.3"/>
<rect class="k1" x="321.9" y="663.5" width="19.4" height="19.3"/>
<rect class="k2" x="340.9" y="663.5" width="42.3" height="19.3"/>
<rect class="k5" x="382.8" y="663.5" width="19.5" height="19.3"/>
<rect class="k7" x="401.9" y="663.5" width="19.4" height="19.3"/>
<rect class="k3" x="420.9" y="663.5" width="23.3" height="19.3"/>
<rect class="k4" x="443.8" y="663.5" width="19.4" height="19.3"/>
<rect class="k5" x="462.8" y="663.5" width="19.4" height="19.3"/>
<rect class="k2" x="481.8" y="663.5" width="23.3" height="19.3"/>
<rect class="k5" x="504.7" y="663.5" width="19.4" height="19.3"/>
<rect class="k1" x="523.7" y="663.5" width="19.5" height="19.3"/>
<rect class="k2" x="542.8" y="663.5" width="19.4" height="19.3"/>
<rect class="k3" x="561.8" y="663.5" width="23.2" height="19.3"/>
<rect class="k1" x="584.6" y="663.5" width="19.5" height="19.3"/>
<rect class="k4" x="603.7" y="663.5" width="19.4" height="19.3"/>
<rect class="k6" x="622.7" y="663.5" width="42.3" height="19.3"/>
<rect class="k2" x="664.6" y="663.5" width="19.5" height="19.3"/>
<rect class="k5" x="683.7" y="663.5" width="19.4" height="19.3"/>
<rect class="k0" x="702.7" y="663.5" width="23.2" height="19.3"/>
<rect class="kf" x="725.5" y="663.5" width="19.5" height="19.3"/>
</g>
<g class="hm">
<rect class="kf" x="1135" y="119" width="20" height="19.9"/>
<rect class="k4" x="1154.6" y="119" width="42.3" height="19.9"/>
<rect class="k3" x="1196.5" y="119" width="19.5" height="19.9"/>
<rect class="k1" x="1215.6" y="119" width="19.4" height="19.9"/>
<rect class="k2" x="1234.6" y="119" width="42.3" height="19.9"/>
<rect class="k5" x="1276.5" y="119" width="19.4" height="19.9"/>
<rect class="k4" x="1295.5" y="119" width="23.3" height="19.9"/>
<rect class="k5" x="1318.4" y="119" width="38.5" height="19.9"/>
<rect class="k3" x="1356.5" y="119" width="42.3" height="19.9"/>
<rect class="k4" x="1398.4" y="119" width="19.4" height="19.9"/>
<rect class="k3" x="1417.4" y="119" width="19.4" height="19.9"/>
<rect class="k2" x="1436.4" y="119" width="42.3" height="19.9"/>
<rect class="k1" x="1478.3" y="119" width="19.5" height="19.9"/>
<rect class="k6" x="1497.4" y="119" width="19.4" height="19.9"/>
<rect class="k4" x="1516.4" y="119" width="23.2" height="19.9"/>
<rect class="k5" x="1539.2" y="119" width="19.5" height="19.9"/>
<rect class="k6" x="1558.3" y="119" width="19.4" height="19.9"/>
<rect class="k4" x="1577.3" y="119" width="23.3" height="19.9"/>
<rect class="k3" x="1600.2" y="119" width="19.4" height="19.9"/>
<rect class="k0" x="1619.2" y="119" width="38.5" height="19.9"/>
<rect class="k1" x="1657.3" y="119" width="23.2" height="19.9"/>
<rect class="k8" x="1680.1" y="119" width="18.9" height="19.9"/>
<rect class="k4" x="1135" y="138.5" width="20" height="23.2"/>
<rect class="kf" x="1154.6" y="138.5" width="23.3" height="23.2"/>
<rect class="k5" x="1177.5" y="138.5" width="19.4" height="23.2"/>
<rect class="k4" x="1196.5" y="138.5" width="61.4" height="23.2"/>
<rect class="k8" x="1257.5" y="138.5" width="19.4" height="23.2"/>
<rect class="k2" x="1276.5" y="138.5" width="19.4" height="23.2"/>
<rect class="k0" x="1295.5" y="138.5" width="23.3" height="23.2"/>
<rect class="k3" x="1318.4" y="138.5" width="57.5" height="23.2"/>
<rect class="k5" x="1375.5" y="138.5" width="23.3" height="23.2"/>
<rect class="k3" x="1398.4" y="138.5" width="19.4" height="23.2"/>
<rect class="k4" x="1417.4" y="138.5" width="19.4" height="23.2"/>
<rect class="k6" x="1436.4" y="138.5" width="23.3" height="23.2"/>
<rect class="k4" x="1459.3" y="138.5" width="19.4" height="23.2"/>
<rect class="k3" x="1478.3" y="138.5" width="19.5" height="23.2"/>
<rect class="k5" x="1497.4" y="138.5" width="19.4" height="23.2"/>
<rect class="k2" x="1516.4" y="138.5" width="42.3" height="23.2"/>
<rect class="k1" x="1558.3" y="138.5" width="19.4" height="23.2"/>
<rect class="k4" x="1577.3" y="138.5" width="23.3" height="23.2"/>
<rect class="k5" x="1600.2" y="138.5" width="19.4" height="23.2"/>
<rect class="k1" x="1619.2" y="138.5" width="19.5" height="23.2"/>
<rect class="k4" x="1638.3" y="138.5" width="19.4" height="23.2"/>
<rect class="k3" x="1657.3" y="138.5" width="23.2" height="23.2"/>
<rect class="k2" x="1680.1" y="138.5" width="18.9" height="23.2"/>
<rect class="k4" x="1135" y="161.3" width="20" height="19.5"/>
<rect class="k5" x="1154.6" y="161.3" width="23.3" height="19.5"/>
<rect class="kf" x="1177.5" y="161.3" width="19.4" height="19.5"/>
<rect class="k2" x="1196.5" y="161.3" width="38.5" height="19.5"/>
<rect class="k6" x="1234.6" y="161.3" width="23.3" height="19.5"/>
<rect class="k1" x="1257.5" y="161.3" width="19.4" height="19.5"/>
<rect class="k8" x="1276.5" y="161.3" width="19.4" height="19.5"/>
<rect class="k1" x="1295.5" y="161.3" width="23.3" height="19.5"/>
<rect class="k2" x="1318.4" y="161.3" width="19.4" height="19.5"/>
<rect class="k4" x="1337.4" y="161.3" width="38.5" height="19.5"/>
<rect class="k3" x="1375.5" y="161.3" width="23.3" height="19.5"/>
<rect class="k7" x="1398.4" y="161.3" width="38.4" height="19.5"/>
<rect class="k4" x="1436.4" y="161.3" width="23.3" height="19.5"/>
<rect class="k3" x="1459.3" y="161.3" width="57.5" height="19.5"/>
<rect class="k2" x="1516.4" y="161.3" width="23.2" height="19.5"/>
<rect class="k5" x="1539.2" y="161.3" width="38.5" height="19.5"/>
<rect class="k4" x="1577.3" y="161.3" width="42.3" height="19.5"/>
<rect class="k5" x="1619.2" y="161.3" width="38.5" height="19.5"/>
<rect class="k1" x="1657.3" y="161.3" width="23.2" height="19.5"/>
<rect class="k2" x="1680.1" y="161.3" width="18.9" height="19.5"/>
<rect class="k3" x="1135" y="180.4" width="20" height="19.4"/>
<rect class="k4" x="1154.6" y="180.4" width="23.3" height="19.4"/>
<rect class="k2" x="1177.5" y="180.4" width="19.4" height="19.4"/>
<rect class="kf" x="1196.5" y="180.4" width="19.5" height="19.4"/>
<rect class="k1" x="1215.6" y="180.4" width="19.4" height="19.4"/>
<rect class="k5" x="1234.6" y="180.4" width="23.3" height="19.4"/>
<rect class="k3" x="1257.5" y="180.4" width="19.4" height="19.4"/>
<rect class="k2" x="1276.5" y="180.4" width="19.4" height="19.4"/>
<rect class="k1" x="1295.5" y="180.4" width="61.4" height="19.4"/>
<rect class="k5" x="1356.5" y="180.4" width="42.3" height="19.4"/>
<rect class="k7" x="1398.4" y="180.4" width="19.4" height="19.4"/>
<rect class="k4" x="1417.4" y="180.4" width="19.4" height="19.4"/>
<rect class="k6" x="1436.4" y="180.4" width="42.3" height="19.4"/>
<rect class="k2" x="1478.3" y="180.4" width="19.5" height="19.4"/>
<rect class="k5" x="1497.4" y="180.4" width="19.4" height="19.4"/>
<rect class="k1" x="1516.4" y="180.4" width="23.2" height="19.4"/>
<rect class="k5" x="1539.2" y="180.4" width="61.4" height="19.4"/>
<rect class="k2" x="1600.2" y="180.4" width="19.4" height="19.4"/>
<rect class="k6" x="1619.2" y="180.4" width="38.5" height="19.4"/>
<rect class="k0" x="1657.3" y="180.4" width="23.2" height="19.4"/>
<rect class="k2" x="1680.1" y="180.4" width="18.9" height="19.4"/>
<rect class="k1" x="1135" y="199.4" width="20" height="19.4"/>
<rect class="k4" x="1154.6" y="199.4" width="23.3" height="19.4"/>
<rect class="k2" x="1177.5" y="199.4" width="19.4" height="19.4"/>
<rect class="k1" x="1196.5" y="199.4" width="19.5" height="19.4"/>
<rect class="kf" x="1215.6" y="199.4" width="19.4" height="19.4"/>
<rect class="k7" x="1234.6" y="199.4" width="23.3" height="19.4"/>
<rect class="k8" x="1257.5" y="199.4" width="19.4" height="19.4"/>
<rect class="k2" x="1276.5" y="199.4" width="19.4" height="19.4"/>
<rect class="k1" x="1295.5" y="199.4" width="23.3" height="19.4"/>
<rect class="k3" x="1318.4" y="199.4" width="19.4" height="19.4"/>
<rect class="k7" x="1337.4" y="199.4" width="19.5" height="19.4"/>
<rect class="k2" x="1356.5" y="199.4" width="19.4" height="19.4"/>
<rect class="k4" x="1375.5" y="199.4" width="23.3" height="19.4"/>
<rect class="k5" x="1398.4" y="199.4" width="19.4" height="19.4"/>
<rect class="k6" x="1417.4" y="199.4" width="19.4" height="19.4"/>
<rect class="k4" x="1436.4" y="199.4" width="23.3" height="19.4"/>
<rect class="k5" x="1459.3" y="199.4" width="19.4" height="19.4"/>
<rect class="k1" x="1478.3" y="199.4" width="19.5" height="19.4"/>
<rect class="k5" x="1497.4" y="199.4" width="19.4" height="19.4"/>
<rect class="k1" x="1516.4" y="199.4" width="42.3" height="19.4"/>
<rect class="k3" x="1558.3" y="199.4" width="19.4" height="19.4"/>
<rect class="k7" x="1577.3" y="199.4" width="23.3" height="19.4"/>
<rect class="k8" x="1600.2" y="199.4" width="19.4" height="19.4"/>
<rect class="k4" x="1619.2" y="199.4" width="19.5" height="19.4"/>
<rect class="k7" x="1638.3" y="199.4" width="19.4" height="19.4"/>
<rect class="k3" x="1657.3" y="199.4" width="23.2" height="19.4"/>
<rect class="k5" x="1680.1" y="199.4" width="18.9" height="19.4"/>
<rect class="k2" x="1135" y="218.4" width="20" height="23.2"/>
<rect class="k4" x="1154.6" y="218.4" width="23.3" height="23.2"/>
<rect class="k6" x="1177.5" y="218.4" width="19.4" height="23.2"/>
<rect class="k5" x="1196.5" y="218.4" width="19.5" height="23.2"/>
<rect class="k7" x="1215.6" y="218.4" width="19.4" height="23.2"/>
<rect class="kf" x="1234.6" y="218.4" width="23.3" height="23.2"/>
<rect class="k8" x="1257.5" y="218.4" width="19.4" height="23.2"/>
<rect class="k4" x="1276.5" y="218.4" width="19.4" height="23.2"/>
<rect class="k1" x="1295.5" y="218.4" width="23.3" height="23.2"/>
<rect class="k2" x="1318.4" y="218.4" width="38.5" height="23.2"/>
<rect class="k3" x="1356.5" y="218.4" width="42.3" height="23.2"/>
<rect class="k8" x="1398.4" y="218.4" width="38.4" height="23.2"/>
<rect class="k9" x="1436.4" y="218.4" width="23.3" height="23.2"/>
<rect class="k8" x="1459.3" y="218.4" width="19.4" height="23.2"/>
<rect class="k4" x="1478.3" y="218.4" width="19.5" height="23.2"/>
<rect class="k3" x="1497.4" y="218.4" width="42.2" height="23.2"/>
<rect class="k9" x="1539.2" y="218.4" width="19.5" height="23.2"/>
<rect class="k5" x="1558.3" y="218.4" width="19.4" height="23.2"/>
<rect class="k8" x="1577.3" y="218.4" width="23.3" height="23.2"/>
<rect class="k7" x="1600.2" y="218.4" width="19.4" height="23.2"/>
<rect class="k6" x="1619.2" y="218.4" width="19.5" height="23.2"/>
<rect class="k9" x="1638.3" y="218.4" width="19.4" height="23.2"/>
<rect class="k4" x="1657.3" y="218.4" width="23.2" height="23.2"/>
<rect class="k6" x="1680.1" y="218.4" width="18.9" height="23.2"/>
<rect class="k2" x="1135" y="241.2" width="20" height="19.4"/>
<rect class="k8" x="1154.6" y="241.2" width="23.3" height="19.4"/>
<rect class="k1" x="1177.5" y="241.2" width="19.4" height="19.4"/>
<rect class="k3" x="1196.5" y="241.2" width="19.5" height="19.4"/>
<rect class="k8" x="1215.6" y="241.2" width="42.3" height="19.4"/>
<rect class="kf" x="1257.5" y="241.2" width="19.4" height="19.4"/>
<rect class="k3" x="1276.5" y="241.2" width="19.4" height="19.4"/>
<rect class="k2" x="1295.5" y="241.2" width="23.3" height="19.4"/>
<rect class="k1" x="1318.4" y="241.2" width="19.4" height="19.4"/>
<rect class="k5" x="1337.4" y="241.2" width="19.5" height="19.4"/>
<rect class="k2" x="1356.5" y="241.2" width="42.3" height="19.4"/>
<rect class="k4" x="1398.4" y="241.2" width="19.4" height="19.4"/>
<rect class="k7" x="1417.4" y="241.2" width="19.4" height="19.4"/>
<rect class="k6" x="1436.4" y="241.2" width="42.3" height="19.4"/>
<rect class="k0" x="1478.3" y="241.2" width="19.5" height="19.4"/>
<rect class="k6" x="1497.4" y="241.2" width="19.4" height="19.4"/>
<rect class="k3" x="1516.4" y="241.2" width="23.2" height="19.4"/>
<rect class="k5" x="1539.2" y="241.2" width="19.5" height="19.4"/>
<rect class="k0" x="1558.3" y="241.2" width="19.4" height="19.4"/>
<rect class="k3" x="1577.3" y="241.2" width="23.3" height="19.4"/>
<rect class="k8" x="1600.2" y="241.2" width="19.4" height="19.4"/>
<rect class="k6" x="1619.2" y="241.2" width="19.5" height="19.4"/>
<rect class="k5" x="1638.3" y="241.2" width="19.4" height="19.4"/>
<rect class="k2" x="1657.3" y="241.2" width="23.2" height="19.4"/>
<rect class="k4" x="1680.1" y="241.2" width="18.9" height="19.4"/>
<rect class="k5" x="1135" y="260.2" width="20" height="19.5"/>
<rect class="k2" x="1154.6" y="260.2" width="23.3" height="19.5"/>
<rect class="k8" x="1177.5" y="260.2" width="19.4" height="19.5"/>
<rect class="k2" x="1196.5" y="260.2" width="38.5" height="19.5"/>
<rect class="k4" x="1234.6" y="260.2" width="23.3" height="19.5"/>
<rect class="k3" x="1257.5" y="260.2" width="19.4" height="19.5"/>
<rect class="kf" x="1276.5" y="260.2" width="19.4" height="19.5"/>
<rect class="k3" x="1295.5" y="260.2" width="23.3" height="19.5"/>
<rect class="k2" x="1318.4" y="260.2" width="19.4" height="19.5"/>
<rect class="k8" x="1337.4" y="260.2" width="19.5" height="19.5"/>
<rect class="k2" x="1356.5" y="260.2" width="19.4" height="19.5"/>
<rect class="k4" x="1375.5" y="260.2" width="23.3" height="19.5"/>
<rect class="k5" x="1398.4" y="260.2" width="19.4" height="19.5"/>
<rect class="k6" x="1417.4" y="260.2" width="42.3" height="19.5"/>
<rect class="k5" x="1459.3" y="260.2" width="19.4" height="19.5"/>
<rect class="k4" x="1478.3" y="260.2" width="19.5" height="19.5"/>
<rect class="k3" x="1497.4" y="260.2" width="19.4" height="19.5"/>
<rect class="k5" x="1516.4" y="260.2" width="23.2" height="19.5"/>
<rect class="k6" x="1539.2" y="260.2" width="38.5" height="19.5"/>
<rect class="k3" x="1577.3" y="260.2" width="23.3" height="19.5"/>
<rect class="k6" x="1600.2" y="260.2" width="19.4" height="19.5"/>
<rect class="k4" x="1619.2" y="260.2" width="19.5" height="19.5"/>
<rect class="k5" x="1638.3" y="260.2" width="19.4" height="19.5"/>
<rect class="k2" x="1657.3" y="260.2" width="23.2" height="19.5"/>
<rect class="k4" x="1680.1" y="260.2" width="18.9" height="19.5"/>
<rect class="k4" x="1135" y="279.3" width="20" height="23.2"/>
<rect class="k0" x="1154.6" y="279.3" width="23.3" height="23.2"/>
<rect class="k1" x="1177.5" y="279.3" width="80.4" height="23.2"/>
<rect class="k2" x="1257.5" y="279.3" width="19.4" height="23.2"/>
<rect class="k3" x="1276.5" y="279.3" width="19.4" height="23.2"/>
<rect class="kf" x="1295.5" y="279.3" width="23.3" height="23.2"/>
<rect class="k3" x="1318.4" y="279.3" width="19.4" height="23.2"/>
<rect class="k1" x="1337.4" y="279.3" width="80.4" height="23.2"/>
<rect class="k8" x="1417.4" y="279.3" width="19.4" height="23.2"/>
<rect class="k2" x="1436.4" y="279.3" width="23.3" height="23.2"/>
<rect class="k4" x="1459.3" y="279.3" width="19.4" height="23.2"/>
<rect class="k2" x="1478.3" y="279.3" width="19.5" height="23.2"/>
<rect class="k1" x="1497.4" y="279.3" width="19.4" height="23.2"/>
<rect class="k2" x="1516.4" y="279.3" width="23.2" height="23.2"/>
<rect class="k1" x="1539.2" y="279.3" width="80.4" height="23.2"/>
<rect class="k4" x="1619.2" y="279.3" width="19.5" height="23.2"/>
<rect class="k1" x="1638.3" y="279.3" width="60.7" height="23.2"/>
<rect class="k5" x="1135" y="302.1" width="20" height="19.4"/>
<rect class="k3" x="1154.6" y="302.1" width="23.3" height="19.4"/>
<rect class="k2" x="1177.5" y="302.1" width="19.4" height="19.4"/>
<rect class="k1" x="1196.5" y="302.1" width="19.5" height="19.4"/>
<rect class="k3" x="1215.6" y="302.1" width="19.4" height="19.4"/>
<rect class="k2" x="1234.6" y="302.1" width="23.3" height="19.4"/>
<rect class="k1" x="1257.5" y="302.1" width="19.4" height="19.4"/>
<rect class="k2" x="1276.5" y="302.1" width="19.4" height="19.4"/>
<rect class="k3" x="1295.5" y="302.1" width="23.3" height="19.4"/>
<rect class="kf" x="1318.4" y="302.1" width="19.4" height="19.4"/>
<rect class="k3" x="1337.4" y="302.1" width="19.5" height="19.4"/>
<rect class="k5" x="1356.5" y="302.1" width="19.4" height="19.4"/>
<rect class="k1" x="1375.5" y="302.1" width="23.3" height="19.4"/>
<rect class="k3" x="1398.4" y="302.1" width="19.4" height="19.4"/>
<rect class="k4" x="1417.4" y="302.1" width="19.4" height="19.4"/>
<rect class="k3" x="1436.4" y="302.1" width="23.3" height="19.4"/>
<rect class="k2" x="1459.3" y="302.1" width="57.5" height="19.4"/>
<rect class="k3" x="1516.4" y="302.1" width="42.3" height="19.4"/>
<rect class="k2" x="1558.3" y="302.1" width="19.4" height="19.4"/>
<rect class="k4" x="1577.3" y="302.1" width="23.3" height="19.4"/>
<rect class="k1" x="1600.2" y="302.1" width="19.4" height="19.4"/>
<rect class="k5" x="1619.2" y="302.1" width="19.5" height="19.4"/>
<rect class="k0" x="1638.3" y="302.1" width="19.4" height="19.4"/>
<rect class="k1" x="1657.3" y="302.1" width="23.2" height="19.4"/>
<rect class="k4" x="1680.1" y="302.1" width="18.9" height="19.4"/>
<rect class="k5" x="1135" y="321.1" width="20" height="19.4"/>
<rect class="k3" x="1154.6" y="321.1" width="23.3" height="19.4"/>
<rect class="k4" x="1177.5" y="321.1" width="19.4" height="19.4"/>
<rect class="k1" x="1196.5" y="321.1" width="19.5" height="19.4"/>
<rect class="k7" x="1215.6" y="321.1" width="19.4" height="19.4"/>
<rect class="k2" x="1234.6" y="321.1" width="23.3" height="19.4"/>
<rect class="k5" x="1257.5" y="321.1" width="19.4" height="19.4"/>
<rect class="k8" x="1276.5" y="321.1" width="19.4" height="19.4"/>
<rect class="k1" x="1295.5" y="321.1" width="23.3" height="19.4"/>
<rect class="k3" x="1318.4" y="321.1" width="19.4" height="19.4"/>
<rect class="kf" x="1337.4" y="321.1" width="19.5" height="19.4"/>
<rect class="k3" x="1356.5" y="321.1" width="19.4" height="19.4"/>
<rect class="k2" x="1375.5" y="321.1" width="42.3" height="19.4"/>
<rect class="ka" x="1417.4" y="321.1" width="19.4" height="19.4"/>
<rect class="k2" x="1436.4" y="321.1" width="23.3" height="19.4"/>
<rect class="k7" x="1459.3" y="321.1" width="19.4" height="19.4"/>
<rect class="k3" x="1478.3" y="321.1" width="19.5" height="19.4"/>
<rect class="k7" x="1497.4" y="321.1" width="42.2" height="19.4"/>
<rect class="k4" x="1539.2" y="321.1" width="19.5" height="19.4"/>
<rect class="k5" x="1558.3" y="321.1" width="42.3" height="19.4"/>
<rect class="k7" x="1600.2" y="321.1" width="38.5" height="19.4"/>
<rect class="k5" x="1638.3" y="321.1" width="19.4" height="19.4"/>
<rect class="k2" x="1657.3" y="321.1" width="23.2" height="19.4"/>
<rect class="k8" x="1680.1" y="321.1" width="18.9" height="19.4"/>
<rect class="k3" x="1135" y="340.1" width="42.9" height="19.5"/>
<rect class="k4" x="1177.5" y="340.1" width="19.4" height="19.5"/>
<rect class="k5" x="1196.5" y="340.1" width="19.5" height="19.5"/>
<rect class="k2" x="1215.6" y="340.1" width="19.4" height="19.5"/>
<rect class="k3" x="1234.6" y="340.1" width="23.3" height="19.5"/>
<rect class="k2" x="1257.5" y="340.1" width="38.4" height="19.5"/>
<rect class="k1" x="1295.5" y="340.1" width="23.3" height="19.5"/>
<rect class="k5" x="1318.4" y="340.1" width="19.4" height="19.5"/>
<rect class="k3" x="1337.4" y="340.1" width="19.5" height="19.5"/>
<rect class="kf" x="1356.5" y="340.1" width="19.4" height="19.5"/>
<rect class="k8" x="1375.5" y="340.1" width="23.3" height="19.5"/>
<rect class="k2" x="1398.4" y="340.1" width="19.4" height="19.5"/>
<rect class="k5" x="1417.4" y="340.1" width="19.4" height="19.5"/>
<rect class="k2" x="1436.4" y="340.1" width="23.3" height="19.5"/>
<rect class="k7" x="1459.3" y="340.1" width="19.4" height="19.5"/>
<rect class="k4" x="1478.3" y="340.1" width="19.5" height="19.5"/>
<rect class="k5" x="1497.4" y="340.1" width="19.4" height="19.5"/>
<rect class="k1" x="1516.4" y="340.1" width="23.2" height="19.5"/>
<rect class="k4" x="1539.2" y="340.1" width="19.5" height="19.5"/>
<rect class="k6" x="1558.3" y="340.1" width="19.4" height="19.5"/>
<rect class="k1" x="1577.3" y="340.1" width="23.3" height="19.5"/>
<rect class="k5" x="1600.2" y="340.1" width="38.5" height="19.5"/>
<rect class="k4" x="1638.3" y="340.1" width="19.4" height="19.5"/>
<rect class="k1" x="1657.3" y="340.1" width="23.2" height="19.5"/>
<rect class="k4" x="1680.1" y="340.1" width="18.9" height="19.5"/>
<rect class="k3" x="1135" y="359.2" width="20" height="23.2"/>
<rect class="k5" x="1154.6" y="359.2" width="23.3" height="23.2"/>
<rect class="k3" x="1177.5" y="359.2" width="19.4" height="23.2"/>
<rect class="k5" x="1196.5" y="359.2" width="19.5" height="23.2"/>
<rect class="k4" x="1215.6" y="359.2" width="19.4" height="23.2"/>
<rect class="k3" x="1234.6" y="359.2" width="23.3" height="23.2"/>
<rect class="k2" x="1257.5" y="359.2" width="19.4" height="23.2"/>
<rect class="k4" x="1276.5" y="359.2" width="19.4" height="23.2"/>
<rect class="k1" x="1295.5" y="359.2" width="42.3" height="23.2"/>
<rect class="k2" x="1337.4" y="359.2" width="19.5" height="23.2"/>
<rect class="k8" x="1356.5" y="359.2" width="19.4" height="23.2"/>
<rect class="kf" x="1375.5" y="359.2" width="23.3" height="23.2"/>
<rect class="k6" x="1398.4" y="359.2" width="19.4" height="23.2"/>
<rect class="k7" x="1417.4" y="359.2" width="19.4" height="23.2"/>
<rect class="k3" x="1436.4" y="359.2" width="23.3" height="23.2"/>
<rect class="k7" x="1459.3" y="359.2" width="19.4" height="23.2"/>
<rect class="k5" x="1478.3" y="359.2" width="19.5" height="23.2"/>
<rect class="k6" x="1497.4" y="359.2" width="19.4" height="23.2"/>
<rect class="k3" x="1516.4" y="359.2" width="23.2" height="23.2"/>
<rect class="k2" x="1539.2" y="359.2" width="19.5" height="23.2"/>
<rect class="k7" x="1558.3" y="359.2" width="19.4" height="23.2"/>
<rect class="k3" x="1577.3" y="359.2" width="23.3" height="23.2"/>
<rect class="k5" x="1600.2" y="359.2" width="19.4" height="23.2"/>
<rect class="k0" x="1619.2" y="359.2" width="19.5" height="23.2"/>
<rect class="k7" x="1638.3" y="359.2" width="19.4" height="23.2"/>
<rect class="k1" x="1657.3" y="359.2" width="23.2" height="23.2"/>
<rect class="k3" x="1680.1" y="359.2" width="18.9" height="23.2"/>
<rect class="k4" x="1135" y="382" width="20" height="19.4"/>
<rect class="k3" x="1154.6" y="382" width="23.3" height="19.4"/>
<rect class="k7" x="1177.5" y="382" width="38.5" height="19.4"/>
<rect class="k5" x="1215.6" y="382" width="19.4" height="19.4"/>
<rect class="k8" x="1234.6" y="382" width="23.3" height="19.4"/>
<rect class="k4" x="1257.5" y="382" width="19.4" height="19.4"/>
<rect class="k5" x="1276.5" y="382" width="19.4" height="19.4"/>
<rect class="k1" x="1295.5" y="382" width="23.3" height="19.4"/>
<rect class="k3" x="1318.4" y="382" width="19.4" height="19.4"/>
<rect class="k2" x="1337.4" y="382" width="38.5" height="19.4"/>
<rect class="k6" x="1375.5" y="382" width="23.3" height="19.4"/>
<rect class="kf" x="1398.4" y="382" width="19.4" height="19.4"/>
<rect class="k5" x="1417.4" y="382" width="19.4" height="19.4"/>
<rect class="k8" x="1436.4" y="382" width="42.3" height="19.4"/>
<rect class="k3" x="1478.3" y="382" width="19.5" height="19.4"/>
<rect class="k7" x="1497.4" y="382" width="42.2" height="19.4"/>
<rect class="k5" x="1539.2" y="382" width="19.5" height="19.4"/>
<rect class="k6" x="1558.3" y="382" width="42.3" height="19.4"/>
<rect class="k8" x="1600.2" y="382" width="19.4" height="19.4"/>
<rect class="k4" x="1619.2" y="382" width="19.5" height="19.4"/>
<rect class="k9" x="1638.3" y="382" width="19.4" height="19.4"/>
<rect class="k3" x="1657.3" y="382" width="23.2" height="19.4"/>
<rect class="k6" x="1680.1" y="382" width="18.9" height="19.4"/>
<rect class="k3" x="1135" y="401" width="20" height="19.4"/>
<rect class="k4" x="1154.6" y="401" width="23.3" height="19.4"/>
<rect class="k7" x="1177.5" y="401" width="19.4" height="19.4"/>
<rect class="k4" x="1196.5" y="401" width="19.5" height="19.4"/>
<rect class="k6" x="1215.6" y="401" width="19.4" height="19.4"/>
<rect class="k8" x="1234.6" y="401" width="23.3" height="19.4"/>
<rect class="k7" x="1257.5" y="401" width="19.4" height="19.4"/>
<rect class="k6" x="1276.5" y="401" width="19.4" height="19.4"/>
<rect class="k8" x="1295.5" y="401" width="23.3" height="19.4"/>
<rect class="k4" x="1318.4" y="401" width="19.4" height="19.4"/>
<rect class="ka" x="1337.4" y="401" width="19.5" height="19.4"/>
<rect class="k5" x="1356.5" y="401" width="19.4" height="19.4"/>
<rect class="k7" x="1375.5" y="401" width="23.3" height="19.4"/>
<rect class="k5" x="1398.4" y="401" width="19.4" height="19.4"/>
<rect class="kf" x="1417.4" y="401" width="19.4" height="19.4"/>
<rect class="k4" x="1436.4" y="401" width="23.3" height="19.4"/>
<rect class="kb" x="1459.3" y="401" width="19.4" height="19.4"/>
<rect class="k3" x="1478.3" y="401" width="19.5" height="19.4"/>
<rect class="k8" x="1497.4" y="401" width="19.4" height="19.4"/>
<rect class="k7" x="1516.4" y="401" width="23.2" height="19.4"/>
<rect class="k8" x="1539.2" y="401" width="19.5" height="19.4"/>
<rect class="k7" x="1558.3" y="401" width="19.4" height="19.4"/>
<rect class="k8" x="1577.3" y="401" width="42.3" height="19.4"/>
<rect class="ka" x="1619.2" y="401" width="19.5" height="19.4"/>
<rect class="k7" x="1638.3" y="401" width="19.4" height="19.4"/>
<rect class="k1" x="1657.3" y="401" width="23.2" height="19.4"/>
<rect class="k6" x="1680.1" y="401" width="18.9" height="19.4"/>
<rect class="k2" x="1135" y="420" width="20" height="23.2"/>
<rect class="k6" x="1154.6" y="420" width="23.3" height="23.2"/>
<rect class="k4" x="1177.5" y="420" width="19.4" height="23.2"/>
<rect class="k6" x="1196.5" y="420" width="19.5" height="23.2"/>
<rect class="k4" x="1215.6" y="420" width="19.4" height="23.2"/>
<rect class="k9" x="1234.6" y="420" width="23.3" height="23.2"/>
<rect class="k6" x="1257.5" y="420" width="38.4" height="23.2"/>
<rect class="k2" x="1295.5" y="420" width="23.3" height="23.2"/>
<rect class="k3" x="1318.4" y="420" width="19.4" height="23.2"/>
<rect class="k2" x="1337.4" y="420" width="38.5" height="23.2"/>
<rect class="k3" x="1375.5" y="420" width="23.3" height="23.2"/>
<rect class="k8" x="1398.4" y="420" width="19.4" height="23.2"/>
<rect class="k4" x="1417.4" y="420" width="19.4" height="23.2"/>
<rect class="kf" x="1436.4" y="420" width="23.3" height="23.2"/>
<rect class="k5" x="1459.3" y="420" width="19.4" height="23.2"/>
<rect class="k3" x="1478.3" y="420" width="38.5" height="23.2"/>
<rect class="k7" x="1516.4" y="420" width="23.2" height="23.2"/>
<rect class="k6" x="1539.2" y="420" width="19.5" height="23.2"/>
<rect class="k5" x="1558.3" y="420" width="19.4" height="23.2"/>
<rect class="k8" x="1577.3" y="420" width="23.3" height="23.2"/>
<rect class="k7" x="1600.2" y="420" width="19.4" height="23.2"/>
<rect class="k3" x="1619.2" y="420" width="19.5" height="23.2"/>
<rect class="k7" x="1638.3" y="420" width="19.4" height="23.2"/>
<rect class="k3" x="1657.3" y="420" width="23.2" height="23.2"/>
<rect class="k2" x="1680.1" y="420" width="18.9" height="23.2"/>
<rect class="k2" x="1135" y="442.8" width="20" height="19.5"/>
<rect class="k4" x="1154.6" y="442.8" width="23.3" height="19.5"/>
<rect class="k3" x="1177.5" y="442.8" width="19.4" height="19.5"/>
<rect class="k6" x="1196.5" y="442.8" width="19.5" height="19.5"/>
<rect class="k5" x="1215.6" y="442.8" width="19.4" height="19.5"/>
<rect class="k8" x="1234.6" y="442.8" width="23.3" height="19.5"/>
<rect class="k6" x="1257.5" y="442.8" width="19.4" height="19.5"/>
<rect class="k5" x="1276.5" y="442.8" width="19.4" height="19.5"/>
<rect class="k4" x="1295.5" y="442.8" width="23.3" height="19.5"/>
<rect class="k2" x="1318.4" y="442.8" width="19.4" height="19.5"/>
<rect class="k7" x="1337.4" y="442.8" width="61.4" height="19.5"/>
<rect class="k8" x="1398.4" y="442.8" width="19.4" height="19.5"/>
<rect class="kb" x="1417.4" y="442.8" width="19.4" height="19.5"/>
<rect class="k5" x="1436.4" y="442.8" width="23.3" height="19.5"/>
<rect class="kf" x="1459.3" y="442.8" width="19.4" height="19.5"/>
<rect class="k6" x="1478.3" y="442.8" width="19.5" height="19.5"/>
<rect class="k9" x="1497.4" y="442.8" width="19.4" height="19.5"/>
<rect class="k6" x="1516.4" y="442.8" width="23.2" height="19.5"/>
<rect class="k7" x="1539.2" y="442.8" width="19.5" height="19.5"/>
<rect class="k6" x="1558.3" y="442.8" width="42.3" height="19.5"/>
<rect class="k7" x="1600.2" y="442.8" width="19.4" height="19.5"/>
<rect class="k8" x="1619.2" y="442.8" width="19.5" height="19.5"/>
<rect class="k9" x="1638.3" y="442.8" width="19.4" height="19.5"/>
<rect class="k3" x="1657.3" y="442.8" width="23.2" height="19.5"/>
<rect class="k8" x="1680.1" y="442.8" width="18.9" height="19.5"/>
<rect class="k1" x="1135" y="461.9" width="20" height="19.4"/>
<rect class="k3" x="1154.6" y="461.9" width="42.3" height="19.4"/>
<rect class="k2" x="1196.5" y="461.9" width="19.5" height="19.4"/>
<rect class="k1" x="1215.6" y="461.9" width="19.4" height="19.4"/>
<rect class="k4" x="1234.6" y="461.9" width="23.3" height="19.4"/>
<rect class="k0" x="1257.5" y="461.9" width="19.4" height="19.4"/>
<rect class="k4" x="1276.5" y="461.9" width="19.4" height="19.4"/>
<rect class="k2" x="1295.5" y="461.9" width="42.3" height="19.4"/>
<rect class="k3" x="1337.4" y="461.9" width="19.5" height="19.4"/>
<rect class="k4" x="1356.5" y="461.9" width="19.4" height="19.4"/>
<rect class="k5" x="1375.5" y="461.9" width="23.3" height="19.4"/>
<rect class="k3" x="1398.4" y="461.9" width="61.3" height="19.4"/>
<rect class="k6" x="1459.3" y="461.9" width="19.4" height="19.4"/>
<rect class="kf" x="1478.3" y="461.9" width="19.5" height="19.4"/>
<rect class="k4" x="1497.4" y="461.9" width="19.4" height="19.4"/>
<rect class="k5" x="1516.4" y="461.9" width="23.2" height="19.4"/>
<rect class="k4" x="1539.2" y="461.9" width="19.5" height="19.4"/>
<rect class="k6" x="1558.3" y="461.9" width="19.4" height="19.4"/>
<rect class="k1" x="1577.3" y="461.9" width="23.3" height="19.4"/>
<rect class="k4" x="1600.2" y="461.9" width="19.4" height="19.4"/>
<rect class="k3" x="1619.2" y="461.9" width="19.5" height="19.4"/>
<rect class="k7" x="1638.3" y="461.9" width="19.4" height="19.4"/>
<rect class="k2" x="1657.3" y="461.9" width="23.2" height="19.4"/>
<rect class="k3" x="1680.1" y="461.9" width="18.9" height="19.4"/>
<rect class="k6" x="1135" y="480.9" width="20" height="19.4"/>
<rect class="k5" x="1154.6" y="480.9" width="23.3" height="19.4"/>
<rect class="k3" x="1177.5" y="480.9" width="19.4" height="19.4"/>
<rect class="k5" x="1196.5" y="480.9" width="38.5" height="19.4"/>
<rect class="k3" x="1234.6" y="480.9" width="23.3" height="19.4"/>
<rect class="k6" x="1257.5" y="480.9" width="19.4" height="19.4"/>
<rect class="k3" x="1276.5" y="480.9" width="19.4" height="19.4"/>
<rect class="k1" x="1295.5" y="480.9" width="23.3" height="19.4"/>
<rect class="k2" x="1318.4" y="480.9" width="19.4" height="19.4"/>
<rect class="k7" x="1337.4" y="480.9" width="19.5" height="19.4"/>
<rect class="k5" x="1356.5" y="480.9" width="19.4" height="19.4"/>
<rect class="k6" x="1375.5" y="480.9" width="23.3" height="19.4"/>
<rect class="k7" x="1398.4" y="480.9" width="19.4" height="19.4"/>
<rect class="k8" x="1417.4" y="480.9" width="19.4" height="19.4"/>
<rect class="k3" x="1436.4" y="480.9" width="23.3" height="19.4"/>
<rect class="k9" x="1459.3" y="480.9" width="19.4" height="19.4"/>
<rect class="k4" x="1478.3" y="480.9" width="19.5" height="19.4"/>
<rect class="kf" x="1497.4" y="480.9" width="19.4" height="19.4"/>
<rect class="k4" x="1516.4" y="480.9" width="23.2" height="19.4"/>
<rect class="k5" x="1539.2" y="480.9" width="38.5" height="19.4"/>
<rect class="k6" x="1577.3" y="480.9" width="23.3" height="19.4"/>
<rect class="k8" x="1600.2" y="480.9" width="19.4" height="19.4"/>
<rect class="k4" x="1619.2" y="480.9" width="38.5" height="19.4"/>
<rect class="k1" x="1657.3" y="480.9" width="23.2" height="19.4"/>
<rect class="k5" x="1680.1" y="480.9" width="18.9" height="19.4"/>
<rect class="k4" x="1135" y="499.9" width="20" height="23.2"/>
<rect class="k2" x="1154.6" y="499.9" width="42.3" height="23.2"/>
<rect class="k1" x="1196.5" y="499.9" width="38.5" height="23.2"/>
<rect class="k3" x="1234.6" y="499.9" width="42.3" height="23.2"/>
<rect class="k5" x="1276.5" y="499.9" width="19.4" height="23.2"/>
<rect class="k2" x="1295.5" y="499.9" width="23.3" height="23.2"/>
<rect class="k3" x="1318.4" y="499.9" width="19.4" height="23.2"/>
<rect class="k7" x="1337.4" y="499.9" width="19.5" height="23.2"/>
<rect class="k1" x="1356.5" y="499.9" width="19.4" height="23.2"/>
<rect class="k3" x="1375.5" y="499.9" width="23.3" height="23.2"/>
<rect class="k7" x="1398.4" y="499.9" width="61.3" height="23.2"/>
<rect class="k6" x="1459.3" y="499.9" width="19.4" height="23.2"/>
<rect class="k5" x="1478.3" y="499.9" width="19.5" height="23.2"/>
<rect class="k4" x="1497.4" y="499.9" width="19.4" height="23.2"/>
<rect class="kf" x="1516.4" y="499.9" width="23.2" height="23.2"/>
<rect class="k7" x="1539.2" y="499.9" width="38.5" height="23.2"/>
<rect class="k6" x="1577.3" y="499.9" width="42.3" height="23.2"/>
<rect class="k4" x="1619.2" y="499.9" width="38.5" height="23.2"/>
<rect class="k3" x="1657.3" y="499.9" width="23.2" height="23.2"/>
<rect class="k5" x="1680.1" y="499.9" width="18.9" height="23.2"/>
<rect class="k5" x="1135" y="522.7" width="20" height="19.4"/>
<rect class="k2" x="1154.6" y="522.7" width="23.3" height="19.4"/>
<rect class="k5" x="1177.5" y="522.7" width="38.5" height="19.4"/>
<rect class="k1" x="1215.6" y="522.7" width="19.4" height="19.4"/>
<rect class="k9" x="1234.6" y="522.7" width="23.3" height="19.4"/>
<rect class="k5" x="1257.5" y="522.7" width="19.4" height="19.4"/>
<rect class="k6" x="1276.5" y="522.7" width="19.4" height="19.4"/>
<rect class="k1" x="1295.5" y="522.7" width="23.3" height="19.4"/>
<rect class="k3" x="1318.4" y="522.7" width="19.4" height="19.4"/>
<rect class="k4" x="1337.4" y="522.7" width="38.5" height="19.4"/>
<rect class="k2" x="1375.5" y="522.7" width="23.3" height="19.4"/>
<rect class="k5" x="1398.4" y="522.7" width="19.4" height="19.4"/>
<rect class="k8" x="1417.4" y="522.7" width="19.4" height="19.4"/>
<rect class="k6" x="1436.4" y="522.7" width="23.3" height="19.4"/>
<rect class="k7" x="1459.3" y="522.7" width="19.4" height="19.4"/>
<rect class="k4" x="1478.3" y="522.7" width="19.5" height="19.4"/>
<rect class="k5" x="1497.4" y="522.7" width="19.4" height="19.4"/>
<rect class="k7" x="1516.4" y="522.7" width="23.2" height="19.4"/>
<rect class="kf" x="1539.2" y="522.7" width="19.5" height="19.4"/>
<rect class="k8" x="1558.3" y="522.7" width="19.4" height="19.4"/>
<rect class="k4" x="1577.3" y="522.7" width="23.3" height="19.4"/>
<rect class="k8" x="1600.2" y="522.7" width="19.4" height="19.4"/>
<rect class="k7" x="1619.2" y="522.7" width="19.5" height="19.4"/>
<rect class="k4" x="1638.3" y="522.7" width="19.4" height="19.4"/>
<rect class="k2" x="1657.3" y="522.7" width="23.2" height="19.4"/>
<rect class="k3" x="1680.1" y="522.7" width="18.9" height="19.4"/>
<rect class="k6" x="1135" y="541.7" width="20" height="19.5"/>
<rect class="k1" x="1154.6" y="541.7" width="23.3" height="19.5"/>
<rect class="k5" x="1177.5" y="541.7" width="38.5" height="19.5"/>
<rect class="k3" x="1215.6" y="541.7" width="19.4" height="19.5"/>
<rect class="k5" x="1234.6" y="541.7" width="23.3" height="19.5"/>
<rect class="k0" x="1257.5" y="541.7" width="19.4" height="19.5"/>
<rect class="k6" x="1276.5" y="541.7" width="19.4" height="19.5"/>
<rect class="k1" x="1295.5" y="541.7" width="23.3" height="19.5"/>
<rect class="k2" x="1318.4" y="541.7" width="19.4" height="19.5"/>
<rect class="k5" x="1337.4" y="541.7" width="19.5" height="19.5"/>
<rect class="k6" x="1356.5" y="541.7" width="19.4" height="19.5"/>
<rect class="k7" x="1375.5" y="541.7" width="23.3" height="19.5"/>
<rect class="k6" x="1398.4" y="541.7" width="19.4" height="19.5"/>
<rect class="k7" x="1417.4" y="541.7" width="19.4" height="19.5"/>
<rect class="k5" x="1436.4" y="541.7" width="23.3" height="19.5"/>
<rect class="k6" x="1459.3" y="541.7" width="38.5" height="19.5"/>
<rect class="k5" x="1497.4" y="541.7" width="19.4" height="19.5"/>
<rect class="k7" x="1516.4" y="541.7" width="23.2" height="19.5"/>
<rect class="k8" x="1539.2" y="541.7" width="19.5" height="19.5"/>
<rect class="kf" x="1558.3" y="541.7" width="19.4" height="19.5"/>
<rect class="k5" x="1577.3" y="541.7" width="42.3" height="19.5"/>
<rect class="k4" x="1619.2" y="541.7" width="19.5" height="19.5"/>
<rect class="k8" x="1638.3" y="541.7" width="19.4" height="19.5"/>
<rect class="k2" x="1657.3" y="541.7" width="23.2" height="19.5"/>
<rect class="k5" x="1680.1" y="541.7" width="18.9" height="19.5"/>
<rect class="k4" x="1135" y="560.8" width="61.9" height="23.2"/>
<rect class="k5" x="1196.5" y="560.8" width="19.5" height="23.2"/>
<rect class="k7" x="1215.6" y="560.8" width="19.4" height="23.2"/>
<rect class="k8" x="1234.6" y="560.8" width="23.3" height="23.2"/>
<rect class="k3" x="1257.5" y="560.8" width="38.4" height="23.2"/>
<rect class="k1" x="1295.5" y="560.8" width="23.3" height="23.2"/>
<rect class="k4" x="1318.4" y="560.8" width="19.4" height="23.2"/>
<rect class="k5" x="1337.4" y="560.8" width="19.5" height="23.2"/>
<rect class="k1" x="1356.5" y="560.8" width="19.4" height="23.2"/>
<rect class="k3" x="1375.5" y="560.8" width="23.3" height="23.2"/>
<rect class="k6" x="1398.4" y="560.8" width="19.4" height="23.2"/>
<rect class="k8" x="1417.4" y="560.8" width="42.3" height="23.2"/>
<rect class="k6" x="1459.3" y="560.8" width="19.4" height="23.2"/>
<rect class="k1" x="1478.3" y="560.8" width="19.5" height="23.2"/>
<rect class="k6" x="1497.4" y="560.8" width="42.2" height="23.2"/>
<rect class="k4" x="1539.2" y="560.8" width="19.5" height="23.2"/>
<rect class="k5" x="1558.3" y="560.8" width="19.4" height="23.2"/>
<rect class="kf" x="1577.3" y="560.8" width="23.3" height="23.2"/>
<rect class="k4" x="1600.2" y="560.8" width="19.4" height="23.2"/>
<rect class="k6" x="1619.2" y="560.8" width="19.5" height="23.2"/>
<rect class="k5" x="1638.3" y="560.8" width="19.4" height="23.2"/>
<rect class="k2" x="1657.3" y="560.8" width="23.2" height="23.2"/>
<rect class="k6" x="1680.1" y="560.8" width="18.9" height="23.2"/>
<rect class="k3" x="1135" y="583.6" width="20" height="19.4"/>
<rect class="k5" x="1154.6" y="583.6" width="23.3" height="19.4"/>
<rect class="k4" x="1177.5" y="583.6" width="19.4" height="19.4"/>
<rect class="k2" x="1196.5" y="583.6" width="19.5" height="19.4"/>
<rect class="k8" x="1215.6" y="583.6" width="19.4" height="19.4"/>
<rect class="k7" x="1234.6" y="583.6" width="23.3" height="19.4"/>
<rect class="k8" x="1257.5" y="583.6" width="19.4" height="19.4"/>
<rect class="k6" x="1276.5" y="583.6" width="19.4" height="19.4"/>
<rect class="k1" x="1295.5" y="583.6" width="42.3" height="19.4"/>
<rect class="k7" x="1337.4" y="583.6" width="19.5" height="19.4"/>
<rect class="k5" x="1356.5" y="583.6" width="42.3" height="19.4"/>
<rect class="k8" x="1398.4" y="583.6" width="38.4" height="19.4"/>
<rect class="k7" x="1436.4" y="583.6" width="42.3" height="19.4"/>
<rect class="k4" x="1478.3" y="583.6" width="19.5" height="19.4"/>
<rect class="k8" x="1497.4" y="583.6" width="19.4" height="19.4"/>
<rect class="k6" x="1516.4" y="583.6" width="23.2" height="19.4"/>
<rect class="k8" x="1539.2" y="583.6" width="19.5" height="19.4"/>
<rect class="k5" x="1558.3" y="583.6" width="19.4" height="19.4"/>
<rect class="k4" x="1577.3" y="583.6" width="23.3" height="19.4"/>
<rect class="kf" x="1600.2" y="583.6" width="19.4" height="19.4"/>
<rect class="k8" x="1619.2" y="583.6" width="19.5" height="19.4"/>
<rect class="k7" x="1638.3" y="583.6" width="19.4" height="19.4"/>
<rect class="k0" x="1657.3" y="583.6" width="23.2" height="19.4"/>
<rect class="k7" x="1680.1" y="583.6" width="18.9" height="19.4"/>
<rect class="k0" x="1135" y="602.6" width="20" height="19.4"/>
<rect class="k1" x="1154.6" y="602.6" width="23.3" height="19.4"/>
<rect class="k5" x="1177.5" y="602.6" width="19.4" height="19.4"/>
<rect class="k6" x="1196.5" y="602.6" width="19.5" height="19.4"/>
<rect class="k4" x="1215.6" y="602.6" width="19.4" height="19.4"/>
<rect class="k6" x="1234.6" y="602.6" width="42.3" height="19.4"/>
<rect class="k4" x="1276.5" y="602.6" width="42.3" height="19.4"/>
<rect class="k5" x="1318.4" y="602.6" width="19.4" height="19.4"/>
<rect class="k7" x="1337.4" y="602.6" width="19.5" height="19.4"/>
<rect class="k5" x="1356.5" y="602.6" width="19.4" height="19.4"/>
<rect class="k0" x="1375.5" y="602.6" width="23.3" height="19.4"/>
<rect class="k4" x="1398.4" y="602.6" width="19.4" height="19.4"/>
<rect class="ka" x="1417.4" y="602.6" width="19.4" height="19.4"/>
<rect class="k3" x="1436.4" y="602.6" width="23.3" height="19.4"/>
<rect class="k8" x="1459.3" y="602.6" width="19.4" height="19.4"/>
<rect class="k3" x="1478.3" y="602.6" width="19.5" height="19.4"/>
<rect class="k4" x="1497.4" y="602.6" width="42.2" height="19.4"/>
<rect class="k7" x="1539.2" y="602.6" width="19.5" height="19.4"/>
<rect class="k4" x="1558.3" y="602.6" width="19.4" height="19.4"/>
<rect class="k6" x="1577.3" y="602.6" width="23.3" height="19.4"/>
<rect class="k8" x="1600.2" y="602.6" width="19.4" height="19.4"/>
<rect class="kf" x="1619.2" y="602.6" width="19.5" height="19.4"/>
<rect class="k5" x="1638.3" y="602.6" width="42.2" height="19.4"/>
<rect class="k3" x="1680.1" y="602.6" width="18.9" height="19.4"/>
<rect class="k0" x="1135" y="621.6" width="20" height="19.4"/>
<rect class="k4" x="1154.6" y="621.6" width="23.3" height="19.4"/>
<rect class="k5" x="1177.5" y="621.6" width="19.4" height="19.4"/>
<rect class="k6" x="1196.5" y="621.6" width="19.5" height="19.4"/>
<rect class="k7" x="1215.6" y="621.6" width="19.4" height="19.4"/>
<rect class="k9" x="1234.6" y="621.6" width="23.3" height="19.4"/>
<rect class="k5" x="1257.5" y="621.6" width="38.4" height="19.4"/>
<rect class="k1" x="1295.5" y="621.6" width="23.3" height="19.4"/>
<rect class="k0" x="1318.4" y="621.6" width="19.4" height="19.4"/>
<rect class="k5" x="1337.4" y="621.6" width="19.5" height="19.4"/>
<rect class="k4" x="1356.5" y="621.6" width="19.4" height="19.4"/>
<rect class="k7" x="1375.5" y="621.6" width="23.3" height="19.4"/>
<rect class="k9" x="1398.4" y="621.6" width="19.4" height="19.4"/>
<rect class="k7" x="1417.4" y="621.6" width="42.3" height="19.4"/>
<rect class="k9" x="1459.3" y="621.6" width="19.4" height="19.4"/>
<rect class="k7" x="1478.3" y="621.6" width="19.5" height="19.4"/>
<rect class="k4" x="1497.4" y="621.6" width="61.3" height="19.4"/>
<rect class="k8" x="1558.3" y="621.6" width="19.4" height="19.4"/>
<rect class="k5" x="1577.3" y="621.6" width="23.3" height="19.4"/>
<rect class="k7" x="1600.2" y="621.6" width="19.4" height="19.4"/>
<rect class="k5" x="1619.2" y="621.6" width="19.5" height="19.4"/>
<rect class="kf" x="1638.3" y="621.6" width="19.4" height="19.4"/>
<rect class="k0" x="1657.3" y="621.6" width="23.2" height="19.4"/>
<rect class="k5" x="1680.1" y="621.6" width="18.9" height="19.4"/>
<rect class="k1" x="1135" y="640.6" width="20" height="23.3"/>
<rect class="k3" x="1154.6" y="640.6" width="23.3" height="23.3"/>
<rect class="k1" x="1177.5" y="640.6" width="19.4" height="23.3"/>
<rect class="k0" x="1196.5" y="640.6" width="19.5" height="23.3"/>
<rect class="k3" x="1215.6" y="640.6" width="19.4" height="23.3"/>
<rect class="k4" x="1234.6" y="640.6" width="23.3" height="23.3"/>
<rect class="k2" x="1257.5" y="640.6" width="38.4" height="23.3"/>
<rect class="k1" x="1295.5" y="640.6" width="42.3" height="23.3"/>
<rect class="k2" x="1337.4" y="640.6" width="19.5" height="23.3"/>
<rect class="k1" x="1356.5" y="640.6" width="42.3" height="23.3"/>
<rect class="k3" x="1398.4" y="640.6" width="19.4" height="23.3"/>
<rect class="k1" x="1417.4" y="640.6" width="19.4" height="23.3"/>
<rect class="k3" x="1436.4" y="640.6" width="42.3" height="23.3"/>
<rect class="k2" x="1478.3" y="640.6" width="19.5" height="23.3"/>
<rect class="k1" x="1497.4" y="640.6" width="19.4" height="23.3"/>
<rect class="k3" x="1516.4" y="640.6" width="23.2" height="23.3"/>
<rect class="k2" x="1539.2" y="640.6" width="61.4" height="23.3"/>
<rect class="k0" x="1600.2" y="640.6" width="19.4" height="23.3"/>
<rect class="k5" x="1619.2" y="640.6" width="19.5" height="23.3"/>
<rect class="k0" x="1638.3" y="640.6" width="19.4" height="23.3"/>
<rect class="kf" x="1657.3" y="640.6" width="23.2" height="23.3"/>
<rect class="k1" x="1680.1" y="640.6" width="18.9" height="23.3"/>
<rect class="k8" x="1135" y="663.5" width="20" height="19.3"/>
<rect class="k2" x="1154.6" y="663.5" width="61.4" height="19.3"/>
<rect class="k5" x="1215.6" y="663.5" width="19.4" height="19.3"/>
<rect class="k6" x="1234.6" y="663.5" width="23.3" height="19.3"/>
<rect class="k4" x="1257.5" y="663.5" width="38.4" height="19.3"/>
<rect class="k1" x="1295.5" y="663.5" width="23.3" height="19.3"/>
<rect class="k4" x="1318.4" y="663.5" width="19.4" height="19.3"/>
<rect class="k8" x="1337.4" y="663.5" width="19.5" height="19.3"/>
<rect class="k4" x="1356.5" y="663.5" width="19.4" height="19.3"/>
<rect class="k3" x="1375.5" y="663.5" width="23.3" height="19.3"/>
<rect class="k6" x="1398.4" y="663.5" width="38.4" height="19.3"/>
<rect class="k2" x="1436.4" y="663.5" width="23.3" height="19.3"/>
<rect class="k8" x="1459.3" y="663.5" width="19.4" height="19.3"/>
<rect class="k3" x="1478.3" y="663.5" width="19.5" height="19.3"/>
<rect class="k5" x="1497.4" y="663.5" width="42.2" height="19.3"/>
<rect class="k3" x="1539.2" y="663.5" width="19.5" height="19.3"/>
<rect class="k5" x="1558.3" y="663.5" width="19.4" height="19.3"/>
<rect class="k6" x="1577.3" y="663.5" width="23.3" height="19.3"/>
<rect class="k7" x="1600.2" y="663.5" width="19.4" height="19.3"/>
<rect class="k3" x="1619.2" y="663.5" width="19.5" height="19.3"/>
<rect class="k5" x="1638.3" y="663.5" width="19.4" height="19.3"/>
<rect class="k1" x="1657.3" y="663.5" width="23.2" height="19.3"/>
<rect class="kf" x="1680.1" y="663.5" width="18.9" height="19.3"/>
</g>
<g class="hm">
<rect class="kf" x="176" y="747" width="20.4" height="20.4"/>
<rect class="k3" x="196" y="747" width="19.5" height="20.4"/>
<rect class="k4" x="215.1" y="747" width="23.2" height="20.4"/>
<rect class="ka" x="237.9" y="747" width="19.5" height="20.4"/>
<rect class="k7" x="257" y="747" width="23.2" height="20.4"/>
<rect class="k3" x="279.8" y="747" width="19.5" height="20.4"/>
<rect class="k4" x="298.9" y="747" width="19.4" height="20.4"/>
<rect class="k5" x="317.9" y="747" width="23.2" height="20.4"/>
<rect class="ka" x="340.7" y="747" width="19.5" height="20.4"/>
<rect class="k6" x="359.8" y="747" width="23.2" height="20.4"/>
<rect class="k5" x="382.6" y="747" width="19.5" height="20.4"/>
<rect class="k6" x="401.7" y="747" width="19.4" height="20.4"/>
<rect class="k7" x="420.7" y="747" width="23.3" height="20.4"/>
<rect class="kg" x="443.6" y="747" width="19.4" height="20.4"/>
<rect class="k1" x="462.6" y="747" width="23.2" height="20.4"/>
<rect class="k4" x="485.4" y="747" width="19.5" height="20.4"/>
<rect class="k3" x="504.5" y="747" width="19.4" height="20.4"/>
<rect class="k2" x="523.5" y="747" width="23.3" height="20.4"/>
<rect class="k5" x="546.4" y="747" width="19.4" height="20.4"/>
<rect class="k1" x="565.4" y="747" width="23.3" height="20.4"/>
<rect class="k0" x="588.3" y="747" width="19.4" height="20.4"/>
<rect class="k3" x="607.3" y="747" width="23.3" height="20.4"/>
<rect class="k2" x="630.2" y="747" width="19.4" height="20.4"/>
<rect class="k3" x="649.2" y="747" width="19.4" height="20.4"/>
<rect class="k5" x="668.2" y="747" width="23.3" height="20.4"/>
<rect class="k1" x="691.1" y="747" width="19.4" height="20.4"/>
<rect class="k2" x="710.1" y="747" width="23.3" height="20.4"/>
<rect class="k0" x="733" y="747" width="20" height="20.4"/>
<rect class="k3" x="176" y="767" width="20.4" height="23.2"/>
<rect class="kf" x="196" y="767" width="19.5" height="23.2"/>
<rect class="k6" x="215.1" y="767" width="23.2" height="23.2"/>
<rect class="k2" x="237.9" y="767" width="19.5" height="23.2"/>
<rect class="k9" x="257" y="767" width="23.2" height="23.2"/>
<rect class="kb" x="279.8" y="767" width="19.5" height="23.2"/>
<rect class="k2" x="298.9" y="767" width="19.4" height="23.2"/>
<rect class="k4" x="317.9" y="767" width="23.2" height="23.2"/>
<rect class="k1" x="340.7" y="767" width="19.5" height="23.2"/>
<rect class="k4" x="359.8" y="767" width="23.2" height="23.2"/>
<rect class="k3" x="382.6" y="767" width="19.5" height="23.2"/>
<rect class="k4" x="401.7" y="767" width="19.4" height="23.2"/>
<rect class="k5" x="420.7" y="767" width="23.3" height="23.2"/>
<rect class="k4" x="443.6" y="767" width="19.4" height="23.2"/>
<rect class="k6" x="462.6" y="767" width="23.2" height="23.2"/>
<rect class="k3" x="485.4" y="767" width="19.5" height="23.2"/>
<rect class="k8" x="504.5" y="767" width="19.4" height="23.2"/>
<rect class="k2" x="523.5" y="767" width="23.3" height="23.2"/>
<rect class="k5" x="546.4" y="767" width="42.3" height="23.2"/>
<rect class="k0" x="588.3" y="767" width="42.3" height="23.2"/>
<rect class="k6" x="630.2" y="767" width="19.4" height="23.2"/>
<rect class="k3" x="649.2" y="767" width="19.4" height="23.2"/>
<rect class="k1" x="668.2" y="767" width="23.3" height="23.2"/>
<rect class="k5" x="691.1" y="767" width="19.4" height="23.2"/>
<rect class="k4" x="710.1" y="767" width="23.3" height="23.2"/>
<rect class="k2" x="733" y="767" width="20" height="23.2"/>
<rect class="k4" x="176" y="789.8" width="20.4" height="19.5"/>
<rect class="k6" x="196" y="789.8" width="19.5" height="19.5"/>
<rect class="kf" x="215.1" y="789.8" width="23.2" height="19.5"/>
<rect class="k7" x="237.9" y="789.8" width="19.5" height="19.5"/>
<rect class="k5" x="257" y="789.8" width="23.2" height="19.5"/>
<rect class="k3" x="279.8" y="789.8" width="38.5" height="19.5"/>
<rect class="k0" x="317.9" y="789.8" width="42.3" height="19.5"/>
<rect class="k5" x="359.8" y="789.8" width="23.2" height="19.5"/>
<rect class="k3" x="382.6" y="789.8" width="19.5" height="19.5"/>
<rect class="k7" x="401.7" y="789.8" width="19.4" height="19.5"/>
<rect class="k9" x="420.7" y="789.8" width="23.3" height="19.5"/>
<rect class="k2" x="443.6" y="789.8" width="61.3" height="19.5"/>
<rect class="k1" x="504.5" y="789.8" width="19.4" height="19.5"/>
<rect class="k5" x="523.5" y="789.8" width="23.3" height="19.5"/>
<rect class="k3" x="546.4" y="789.8" width="19.4" height="19.5"/>
<rect class="kj" x="565.4" y="789.8" width="23.3" height="19.5"/>
<rect class="k8" x="588.3" y="789.8" width="19.4" height="19.5"/>
<rect class="k6" x="607.3" y="789.8" width="23.3" height="19.5"/>
<rect class="k3" x="630.2" y="789.8" width="19.4" height="19.5"/>
<rect class="k1" x="649.2" y="789.8" width="19.4" height="19.5"/>
<rect class="k2" x="668.2" y="789.8" width="23.3" height="19.5"/>
<rect class="k6" x="691.1" y="789.8" width="19.4" height="19.5"/>
<rect class="k2" x="710.1" y="789.8" width="42.9" height="19.5"/>
<rect class="ka" x="176" y="808.9" width="20.4" height="23.2"/>
<rect class="k2" x="196" y="808.9" width="19.5" height="23.2"/>
<rect class="k7" x="215.1" y="808.9" width="23.2" height="23.2"/>
<rect class="kf" x="237.9" y="808.9" width="19.5" height="23.2"/>
<rect class="k3" x="257" y="808.9" width="23.2" height="23.2"/>
<rect class="k5" x="279.8" y="808.9" width="19.5" height="23.2"/>
<rect class="k0" x="298.9" y="808.9" width="19.4" height="23.2"/>
<rect class="k8" x="317.9" y="808.9" width="42.3" height="23.2"/>
<rect class="kh" x="359.8" y="808.9" width="23.2" height="23.2"/>
<rect class="k3" x="382.6" y="808.9" width="19.5" height="23.2"/>
<rect class="k7" x="401.7" y="808.9" width="19.4" height="23.2"/>
<rect class="k8" x="420.7" y="808.9" width="23.3" height="23.2"/>
<rect class="k9" x="443.6" y="808.9" width="19.4" height="23.2"/>
<rect class="k2" x="462.6" y="808.9" width="23.2" height="23.2"/>
<rect class="ka" x="485.4" y="808.9" width="19.5" height="23.2"/>
<rect class="k6" x="504.5" y="808.9" width="19.4" height="23.2"/>
<rect class="k3" x="523.5" y="808.9" width="42.3" height="23.2"/>
<rect class="k9" x="565.4" y="808.9" width="23.3" height="23.2"/>
<rect class="k6" x="588.3" y="808.9" width="19.4" height="23.2"/>
<rect class="k2" x="607.3" y="808.9" width="23.3" height="23.2"/>
<rect class="k1" x="630.2" y="808.9" width="19.4" height="23.2"/>
<rect class="k2" x="649.2" y="808.9" width="42.3" height="23.2"/>
<rect class="k5" x="691.1" y="808.9" width="19.4" height="23.2"/>
<rect class="k6" x="710.1" y="808.9" width="23.3" height="23.2"/>
<rect class="k1" x="733" y="808.9" width="20" height="23.2"/>
<rect class="k7" x="176" y="831.7" width="20.4" height="19.4"/>
<rect class="k9" x="196" y="831.7" width="19.5" height="19.4"/>
<rect class="k5" x="215.1" y="831.7" width="23.2" height="19.4"/>
<rect class="k3" x="237.9" y="831.7" width="19.5" height="19.4"/>
<rect class="kf" x="257" y="831.7" width="23.2" height="19.4"/>
<rect class="k3" x="279.8" y="831.7" width="19.5" height="19.4"/>
<rect class="k4" x="298.9" y="831.7" width="19.4" height="19.4"/>
<rect class="k7" x="317.9" y="831.7" width="23.2" height="19.4"/>
<rect class="k2" x="340.7" y="831.7" width="19.5" height="19.4"/>
<rect class="k5" x="359.8" y="831.7" width="61.3" height="19.4"/>
<rect class="k1" x="420.7" y="831.7" width="23.3" height="19.4"/>
<rect class="k7" x="443.6" y="831.7" width="19.4" height="19.4"/>
<rect class="k1" x="462.6" y="831.7" width="23.2" height="19.4"/>
<rect class="k5" x="485.4" y="831.7" width="38.5" height="19.4"/>
<rect class="k6" x="523.5" y="831.7" width="23.3" height="19.4"/>
<rect class="k4" x="546.4" y="831.7" width="19.4" height="19.4"/>
<rect class="k2" x="565.4" y="831.7" width="23.3" height="19.4"/>
<rect class="k0" x="588.3" y="831.7" width="19.4" height="19.4"/>
<rect class="k1" x="607.3" y="831.7" width="23.3" height="19.4"/>
<rect class="k7" x="630.2" y="831.7" width="19.4" height="19.4"/>
<rect class="k8" x="649.2" y="831.7" width="19.4" height="19.4"/>
<rect class="k1" x="668.2" y="831.7" width="23.3" height="19.4"/>
<rect class="k3" x="691.1" y="831.7" width="19.4" height="19.4"/>
<rect class="k5" x="710.1" y="831.7" width="23.3" height="19.4"/>
<rect class="k1" x="733" y="831.7" width="20" height="19.4"/>
<rect class="k3" x="176" y="850.7" width="20.4" height="19.4"/>
<rect class="kb" x="196" y="850.7" width="19.5" height="19.4"/>
<rect class="k3" x="215.1" y="850.7" width="23.2" height="19.4"/>
<rect class="k5" x="237.9" y="850.7" width="19.5" height="19.4"/>
<rect class="k3" x="257" y="850.7" width="23.2" height="19.4"/>
<rect class="kf" x="279.8" y="850.7" width="19.5" height="19.4"/>
<rect class="k5" x="298.9" y="850.7" width="19.4" height="19.4"/>
<rect class="k6" x="317.9" y="850.7" width="23.2" height="19.4"/>
<rect class="k5" x="340.7" y="850.7" width="19.5" height="19.4"/>
<rect class="k3" x="359.8" y="850.7" width="23.2" height="19.4"/>
<rect class="kh" x="382.6" y="850.7" width="19.5" height="19.4"/>
<rect class="k3" x="401.7" y="850.7" width="19.4" height="19.4"/>
<rect class="k5" x="420.7" y="850.7" width="42.3" height="19.4"/>
<rect class="k7" x="462.6" y="850.7" width="23.2" height="19.4"/>
<rect class="k6" x="485.4" y="850.7" width="19.5" height="19.4"/>
<rect class="k9" x="504.5" y="850.7" width="19.4" height="19.4"/>
<rect class="k3" x="523.5" y="850.7" width="23.3" height="19.4"/>
<rect class="k0" x="546.4" y="850.7" width="19.4" height="19.4"/>
<rect class="k5" x="565.4" y="850.7" width="23.3" height="19.4"/>
<rect class="k3" x="588.3" y="850.7" width="19.4" height="19.4"/>
<rect class="k2" x="607.3" y="850.7" width="61.3" height="19.4"/>
<rect class="k3" x="668.2" y="850.7" width="23.3" height="19.4"/>
<rect class="k5" x="691.1" y="850.7" width="61.9" height="19.4"/>
<rect class="k4" x="176" y="869.7" width="20.4" height="23.3"/>
<rect class="k2" x="196" y="869.7" width="19.5" height="23.3"/>
<rect class="k3" x="215.1" y="869.7" width="23.2" height="23.3"/>
<rect class="k0" x="237.9" y="869.7" width="19.5" height="23.3"/>
<rect class="k4" x="257" y="869.7" width="23.2" height="23.3"/>
<rect class="k5" x="279.8" y="869.7" width="19.5" height="23.3"/>
<rect class="kf" x="298.9" y="869.7" width="19.4" height="23.3"/>
<rect class="k0" x="317.9" y="869.7" width="23.2" height="23.3"/>
<rect class="k2" x="340.7" y="869.7" width="19.5" height="23.3"/>
<rect class="k4" x="359.8" y="869.7" width="23.2" height="23.3"/>
<rect class="kh" x="382.6" y="869.7" width="19.5" height="23.3"/>
<rect class="k0" x="401.7" y="869.7" width="42.3" height="23.3"/>
<rect class="k1" x="443.6" y="869.7" width="19.4" height="23.3"/>
<rect class="k4" x="462.6" y="869.7" width="23.2" height="23.3"/>
<rect class="k1" x="485.4" y="869.7" width="19.5" height="23.3"/>
<rect class="k2" x="504.5" y="869.7" width="19.4" height="23.3"/>
<rect class="k9" x="523.5" y="869.7" width="23.3" height="23.3"/>
<rect class="k0" x="546.4" y="869.7" width="19.4" height="23.3"/>
<rect class="k3" x="565.4" y="869.7" width="42.3" height="23.3"/>
<rect class="k5" x="607.3" y="869.7" width="23.3" height="23.3"/>
<rect class="k9" x="630.2" y="869.7" width="19.4" height="23.3"/>
<rect class="kk" x="649.2" y="869.7" width="19.4" height="23.3"/>
<rect class="k3" x="668.2" y="869.7" width="23.3" height="23.3"/>
<rect class="k2" x="691.1" y="869.7" width="19.4" height="23.3"/>
<rect class="k4" x="710.1" y="869.7" width="23.3" height="23.3"/>
<rect class="k6" x="733" y="869.7" width="20" height="23.3"/>
<rect class="k5" x="176" y="892.6" width="20.4" height="19.4"/>
<rect class="k4" x="196" y="892.6" width="19.5" height="19.4"/>
<rect class="k0" x="215.1" y="892.6" width="23.2" height="19.4"/>
<rect class="k8" x="237.9" y="892.6" width="19.5" height="19.4"/>
<rect class="k7" x="257" y="892.6" width="23.2" height="19.4"/>
<rect class="k6" x="279.8" y="892.6" width="19.5" height="19.4"/>
<rect class="k0" x="298.9" y="892.6" width="19.4" height="19.4"/>
<rect class="kf" x="317.9" y="892.6" width="23.2" height="19.4"/>
<rect class="k9" x="340.7" y="892.6" width="19.5" height="19.4"/>
<rect class="k1" x="359.8" y="892.6" width="23.2" height="19.4"/>
<rect class="k7" x="382.6" y="892.6" width="19.5" height="19.4"/>
<rect class="k1" x="401.7" y="892.6" width="42.3" height="19.4"/>
<rect class="k6" x="443.6" y="892.6" width="19.4" height="19.4"/>
<rect class="k2" x="462.6" y="892.6" width="23.2" height="19.4"/>
<rect class="k3" x="485.4" y="892.6" width="19.5" height="19.4"/>
<rect class="ki" x="504.5" y="892.6" width="19.4" height="19.4"/>
<rect class="k3" x="523.5" y="892.6" width="23.3" height="19.4"/>
<rect class="k5" x="546.4" y="892.6" width="42.3" height="19.4"/>
<rect class="k6" x="588.3" y="892.6" width="19.4" height="19.4"/>
<rect class="k5" x="607.3" y="892.6" width="42.3" height="19.4"/>
<rect class="k1" x="649.2" y="892.6" width="19.4" height="19.4"/>
<rect class="k4" x="668.2" y="892.6" width="42.3" height="19.4"/>
<rect class="k0" x="710.1" y="892.6" width="23.3" height="19.4"/>
<rect class="k2" x="733" y="892.6" width="20" height="19.4"/>
<rect class="ka" x="176" y="911.6" width="20.4" height="23.2"/>
<rect class="k1" x="196" y="911.6" width="19.5" height="23.2"/>
<rect class="k0" x="215.1" y="911.6" width="23.2" height="23.2"/>
<rect class="k8" x="237.9" y="911.6" width="19.5" height="23.2"/>
<rect class="k2" x="257" y="911.6" width="23.2" height="23.2"/>
<rect class="k5" x="279.8" y="911.6" width="19.5" height="23.2"/>
<rect class="k2" x="298.9" y="911.6" width="19.4" height="23.2"/>
<rect class="k9" x="317.9" y="911.6" width="23.2" height="23.2"/>
<rect class="kf" x="340.7" y="911.6" width="19.5" height="23.2"/>
<rect class="k1" x="359.8" y="911.6" width="23.2" height="23.2"/>
<rect class="k5" x="382.6" y="911.6" width="38.5" height="23.2"/>
<rect class="k8" x="420.7" y="911.6" width="23.3" height="23.2"/>
<rect class="ka" x="443.6" y="911.6" width="19.4" height="23.2"/>
<rect class="k1" x="462.6" y="911.6" width="23.2" height="23.2"/>
<rect class="k2" x="485.4" y="911.6" width="19.5" height="23.2"/>
<rect class="k4" x="504.5" y="911.6" width="19.4" height="23.2"/>
<rect class="k2" x="523.5" y="911.6" width="23.3" height="23.2"/>
<rect class="k1" x="546.4" y="911.6" width="19.4" height="23.2"/>
<rect class="k4" x="565.4" y="911.6" width="23.3" height="23.2"/>
<rect class="k1" x="588.3" y="911.6" width="19.4" height="23.2"/>
<rect class="k4" x="607.3" y="911.6" width="23.3" height="23.2"/>
<rect class="k3" x="630.2" y="911.6" width="38.4" height="23.2"/>
<rect class="k2" x="668.2" y="911.6" width="23.3" height="23.2"/>
<rect class="k4" x="691.1" y="911.6" width="19.4" height="23.2"/>
<rect class="k3" x="710.1" y="911.6" width="23.3" height="23.2"/>
<rect class="k2" x="733" y="911.6" width="20" height="23.2"/>
<rect class="k6" x="176" y="934.4" width="20.4" height="19.4"/>
<rect class="k4" x="196" y="934.4" width="19.5" height="19.4"/>
<rect class="k5" x="215.1" y="934.4" width="23.2" height="19.4"/>
<rect class="kh" x="237.9" y="934.4" width="19.5" height="19.4"/>
<rect class="k5" x="257" y="934.4" width="23.2" height="19.4"/>
<rect class="k3" x="279.8" y="934.4" width="19.5" height="19.4"/>
<rect class="k4" x="298.9" y="934.4" width="19.4" height="19.4"/>
<rect class="k1" x="317.9" y="934.4" width="42.3" height="19.4"/>
<rect class="kf" x="359.8" y="934.4" width="23.2" height="19.4"/>
<rect class="k5" x="382.6" y="934.4" width="19.5" height="19.4"/>
<rect class="k8" x="401.7" y="934.4" width="19.4" height="19.4"/>
<rect class="k4" x="420.7" y="934.4" width="23.3" height="19.4"/>
<rect class="k6" x="443.6" y="934.4" width="19.4" height="19.4"/>
<rect class="k3" x="462.6" y="934.4" width="23.2" height="19.4"/>
<rect class="k2" x="485.4" y="934.4" width="61.4" height="19.4"/>
<rect class="k4" x="546.4" y="934.4" width="19.4" height="19.4"/>
<rect class="k5" x="565.4" y="934.4" width="23.3" height="19.4"/>
<rect class="k7" x="588.3" y="934.4" width="19.4" height="19.4"/>
<rect class="k3" x="607.3" y="934.4" width="23.3" height="19.4"/>
<rect class="k2" x="630.2" y="934.4" width="61.3" height="19.4"/>
<rect class="k5" x="691.1" y="934.4" width="19.4" height="19.4"/>
<rect class="k0" x="710.1" y="934.4" width="23.3" height="19.4"/>
<rect class="k7" x="733" y="934.4" width="20" height="19.4"/>
<rect class="k5" x="176" y="953.4" width="20.4" height="19.4"/>
<rect class="k3" x="196" y="953.4" width="61.4" height="19.4"/>
<rect class="k5" x="257" y="953.4" width="23.2" height="19.4"/>
<rect class="kh" x="279.8" y="953.4" width="38.5" height="19.4"/>
<rect class="k7" x="317.9" y="953.4" width="23.2" height="19.4"/>
<rect class="k5" x="340.7" y="953.4" width="42.3" height="19.4"/>
<rect class="kf" x="382.6" y="953.4" width="19.5" height="19.4"/>
<rect class="k3" x="401.7" y="953.4" width="19.4" height="19.4"/>
<rect class="k8" x="420.7" y="953.4" width="23.3" height="19.4"/>
<rect class="k6" x="443.6" y="953.4" width="19.4" height="19.4"/>
<rect class="k4" x="462.6" y="953.4" width="23.2" height="19.4"/>
<rect class="k2" x="485.4" y="953.4" width="19.5" height="19.4"/>
<rect class="k6" x="504.5" y="953.4" width="42.3" height="19.4"/>
<rect class="k3" x="546.4" y="953.4" width="42.3" height="19.4"/>
<rect class="k8" x="588.3" y="953.4" width="19.4" height="19.4"/>
<rect class="k7" x="607.3" y="953.4" width="23.3" height="19.4"/>
<rect class="k5" x="630.2" y="953.4" width="19.4" height="19.4"/>
<rect class="k1" x="649.2" y="953.4" width="42.3" height="19.4"/>
<rect class="k4" x="691.1" y="953.4" width="19.4" height="19.4"/>
<rect class="k9" x="710.1" y="953.4" width="23.3" height="19.4"/>
<rect class="k1" x="733" y="953.4" width="20" height="19.4"/>
<rect class="k6" x="176" y="972.4" width="20.4" height="23.3"/>
<rect class="k4" x="196" y="972.4" width="19.5" height="23.3"/>
<rect class="k7" x="215.1" y="972.4" width="42.3" height="23.3"/>
<rect class="k5" x="257" y="972.4" width="23.2" height="23.3"/>
<rect class="k3" x="279.8" y="972.4" width="19.5" height="23.3"/>
<rect class="k0" x="298.9" y="972.4" width="19.4" height="23.3"/>
<rect class="k1" x="317.9" y="972.4" width="23.2" height="23.3"/>
<rect class="k5" x="340.7" y="972.4" width="19.5" height="23.3"/>
<rect class="k8" x="359.8" y="972.4" width="23.2" height="23.3"/>
<rect class="k3" x="382.6" y="972.4" width="19.5" height="23.3"/>
<rect class="kf" x="401.7" y="972.4" width="19.4" height="23.3"/>
<rect class="ka" x="420.7" y="972.4" width="23.3" height="23.3"/>
<rect class="k9" x="443.6" y="972.4" width="19.4" height="23.3"/>
<rect class="k3" x="462.6" y="972.4" width="23.2" height="23.3"/>
<rect class="k2" x="485.4" y="972.4" width="38.5" height="23.3"/>
<rect class="k1" x="523.5" y="972.4" width="23.3" height="23.3"/>
<rect class="k0" x="546.4" y="972.4" width="19.4" height="23.3"/>
<rect class="k6" x="565.4" y="972.4" width="23.3" height="23.3"/>
<rect class="k0" x="588.3" y="972.4" width="19.4" height="23.3"/>
<rect class="k3" x="607.3" y="972.4" width="23.3" height="23.3"/>
<rect class="k1" x="630.2" y="972.4" width="19.4" height="23.3"/>
<rect class="k3" x="649.2" y="972.4" width="19.4" height="23.3"/>
<rect class="k4" x="668.2" y="972.4" width="23.3" height="23.3"/>
<rect class="k8" x="691.1" y="972.4" width="19.4" height="23.3"/>
<rect class="k4" x="710.1" y="972.4" width="23.3" height="23.3"/>
<rect class="k2" x="733" y="972.4" width="20" height="23.3"/>
<rect class="k7" x="176" y="995.3" width="20.4" height="19.4"/>
<rect class="k5" x="196" y="995.3" width="19.5" height="19.4"/>
<rect class="k9" x="215.1" y="995.3" width="23.2" height="19.4"/>
<rect class="k8" x="237.9" y="995.3" width="19.5" height="19.4"/>
<rect class="k1" x="257" y="995.3" width="23.2" height="19.4"/>
<rect class="k5" x="279.8" y="995.3" width="19.5" height="19.4"/>
<rect class="k0" x="298.9" y="995.3" width="19.4" height="19.4"/>
<rect class="k1" x="317.9" y="995.3" width="23.2" height="19.4"/>
<rect class="k8" x="340.7" y="995.3" width="19.5" height="19.4"/>
<rect class="k4" x="359.8" y="995.3" width="23.2" height="19.4"/>
<rect class="k8" x="382.6" y="995.3" width="19.5" height="19.4"/>
<rect class="ka" x="401.7" y="995.3" width="19.4" height="19.4"/>
<rect class="kf" x="420.7" y="995.3" width="23.3" height="19.4"/>
<rect class="k9" x="443.6" y="995.3" width="19.4" height="19.4"/>
<rect class="k0" x="462.6" y="995.3" width="23.2" height="19.4"/>
<rect class="k1" x="485.4" y="995.3" width="19.5" height="19.4"/>
<rect class="k3" x="504.5" y="995.3" width="19.4" height="19.4"/>
<rect class="k2" x="523.5" y="995.3" width="23.3" height="19.4"/>
<rect class="k1" x="546.4" y="995.3" width="19.4" height="19.4"/>
<rect class="k7" x="565.4" y="995.3" width="23.3" height="19.4"/>
<rect class="k8" x="588.3" y="995.3" width="19.4" height="19.4"/>
<rect class="k6" x="607.3" y="995.3" width="23.3" height="19.4"/>
<rect class="k1" x="630.2" y="995.3" width="19.4" height="19.4"/>
<rect class="k3" x="649.2" y="995.3" width="19.4" height="19.4"/>
<rect class="k1" x="668.2" y="995.3" width="23.3" height="19.4"/>
<rect class="k8" x="691.1" y="995.3" width="19.4" height="19.4"/>
<rect class="k3" x="710.1" y="995.3" width="23.3" height="19.4"/>
<rect class="k2" x="733" y="995.3" width="20" height="19.4"/>
<rect class="kg" x="176" y="1014.3" width="20.4" height="23.2"/>
<rect class="k4" x="196" y="1014.3" width="19.5" height="23.2"/>
<rect class="k2" x="215.1" y="1014.3" width="23.2" height="23.2"/>
<rect class="k9" x="237.9" y="1014.3" width="19.5" height="23.2"/>
<rect class="k7" x="257" y="1014.3" width="23.2" height="23.2"/>
<rect class="k5" x="279.8" y="1014.3" width="19.5" height="23.2"/>
<rect class="k1" x="298.9" y="1014.3" width="19.4" height="23.2"/>
<rect class="k6" x="317.9" y="1014.3" width="23.2" height="23.2"/>
<rect class="ka" x="340.7" y="1014.3" width="19.5" height="23.2"/>
<rect class="k6" x="359.8" y="1014.3" width="42.3" height="23.2"/>
<rect class="k9" x="401.7" y="1014.3" width="42.3" height="23.2"/>
<rect class="kf" x="443.6" y="1014.3" width="19.4" height="23.2"/>
<rect class="k3" x="462.6" y="1014.3" width="23.2" height="23.2"/>
<rect class="k4" x="485.4" y="1014.3" width="19.5" height="23.2"/>
<rect class="k1" x="504.5" y="1014.3" width="19.4" height="23.2"/>
<rect class="k3" x="523.5" y="1014.3" width="23.3" height="23.2"/>
<rect class="k1" x="546.4" y="1014.3" width="19.4" height="23.2"/>
<rect class="k5" x="565.4" y="1014.3" width="65.2" height="23.2"/>
<rect class="k0" x="630.2" y="1014.3" width="19.4" height="23.2"/>
<rect class="k2" x="649.2" y="1014.3" width="19.4" height="23.2"/>
<rect class="k6" x="668.2" y="1014.3" width="23.3" height="23.2"/>
<rect class="k3" x="691.1" y="1014.3" width="19.4" height="23.2"/>
<rect class="k5" x="710.1" y="1014.3" width="23.3" height="23.2"/>
<rect class="k2" x="733" y="1014.3" width="20" height="23.2"/>
<rect class="k1" x="176" y="1037.1" width="20.4" height="19.4"/>
<rect class="k6" x="196" y="1037.1" width="19.5" height="19.4"/>
<rect class="k2" x="215.1" y="1037.1" width="42.3" height="19.4"/>
<rect class="k1" x="257" y="1037.1" width="23.2" height="19.4"/>
<rect class="k7" x="279.8" y="1037.1" width="19.5" height="19.4"/>
<rect class="k4" x="298.9" y="1037.1" width="19.4" height="19.4"/>
<rect class="k2" x="317.9" y="1037.1" width="23.2" height="19.4"/>
<rect class="k1" x="340.7" y="1037.1" width="19.5" height="19.4"/>
<rect class="k3" x="359.8" y="1037.1" width="23.2" height="19.4"/>
<rect class="k4" x="382.6" y="1037.1" width="19.5" height="19.4"/>
<rect class="k3" x="401.7" y="1037.1" width="19.4" height="19.4"/>
<rect class="k0" x="420.7" y="1037.1" width="23.3" height="19.4"/>
<rect class="k3" x="443.6" y="1037.1" width="19.4" height="19.4"/>
<rect class="kf" x="462.6" y="1037.1" width="23.2" height="19.4"/>
<rect class="k4" x="485.4" y="1037.1" width="38.5" height="19.4"/>
<rect class="k1" x="523.5" y="1037.1" width="23.3" height="19.4"/>
<rect class="k8" x="546.4" y="1037.1" width="19.4" height="19.4"/>
<rect class="k0" x="565.4" y="1037.1" width="23.3" height="19.4"/>
<rect class="k2" x="588.3" y="1037.1" width="19.4" height="19.4"/>
<rect class="k3" x="607.3" y="1037.1" width="23.3" height="19.4"/>
<rect class="k7" x="630.2" y="1037.1" width="19.4" height="19.4"/>
<rect class="k2" x="649.2" y="1037.1" width="42.3" height="19.4"/>
<rect class="k4" x="691.1" y="1037.1" width="19.4" height="19.4"/>
<rect class="k5" x="710.1" y="1037.1" width="23.3" height="19.4"/>
<rect class="k1" x="733" y="1037.1" width="20" height="19.4"/>
<rect class="k4" x="176" y="1056.1" width="20.4" height="19.4"/>
<rect class="k3" x="196" y="1056.1" width="19.5" height="19.4"/>
<rect class="k2" x="215.1" y="1056.1" width="23.2" height="19.4"/>
<rect class="ka" x="237.9" y="1056.1" width="19.5" height="19.4"/>
<rect class="k5" x="257" y="1056.1" width="23.2" height="19.4"/>
<rect class="k6" x="279.8" y="1056.1" width="19.5" height="19.4"/>
<rect class="k1" x="298.9" y="1056.1" width="19.4" height="19.4"/>
<rect class="k3" x="317.9" y="1056.1" width="23.2" height="19.4"/>
<rect class="k2" x="340.7" y="1056.1" width="80.4" height="19.4"/>
<rect class="k1" x="420.7" y="1056.1" width="23.3" height="19.4"/>
<rect class="k4" x="443.6" y="1056.1" width="42.2" height="19.4"/>
<rect class="kf" x="485.4" y="1056.1" width="19.5" height="19.4"/>
<rect class="k2" x="504.5" y="1056.1" width="42.3" height="19.4"/>
<rect class="k5" x="546.4" y="1056.1" width="19.4" height="19.4"/>
<rect class="k7" x="565.4" y="1056.1" width="23.3" height="19.4"/>
<rect class="k3" x="588.3" y="1056.1" width="19.4" height="19.4"/>
<rect class="k1" x="607.3" y="1056.1" width="23.3" height="19.4"/>
<rect class="k2" x="630.2" y="1056.1" width="19.4" height="19.4"/>
<rect class="k1" x="649.2" y="1056.1" width="19.4" height="19.4"/>
<rect class="k0" x="668.2" y="1056.1" width="23.3" height="19.4"/>
<rect class="k4" x="691.1" y="1056.1" width="19.4" height="19.4"/>
<rect class="k6" x="710.1" y="1056.1" width="23.3" height="19.4"/>
<rect class="k2" x="733" y="1056.1" width="20" height="19.4"/>
<rect class="k3" x="176" y="1075.1" width="20.4" height="23.3"/>
<rect class="k8" x="196" y="1075.1" width="19.5" height="23.3"/>
<rect class="k1" x="215.1" y="1075.1" width="23.2" height="23.3"/>
<rect class="k6" x="237.9" y="1075.1" width="19.5" height="23.3"/>
<rect class="k5" x="257" y="1075.1" width="23.2" height="23.3"/>
<rect class="k9" x="279.8" y="1075.1" width="19.5" height="23.3"/>
<rect class="k2" x="298.9" y="1075.1" width="19.4" height="23.3"/>
<rect class="ki" x="317.9" y="1075.1" width="23.2" height="23.3"/>
<rect class="k4" x="340.7" y="1075.1" width="19.5" height="23.3"/>
<rect class="k2" x="359.8" y="1075.1" width="23.2" height="23.3"/>
<rect class="k6" x="382.6" y="1075.1" width="19.5" height="23.3"/>
<rect class="k2" x="401.7" y="1075.1" width="19.4" height="23.3"/>
<rect class="k3" x="420.7" y="1075.1" width="23.3" height="23.3"/>
<rect class="k1" x="443.6" y="1075.1" width="19.4" height="23.3"/>
<rect class="k4" x="462.6" y="1075.1" width="23.2" height="23.3"/>
<rect class="k2" x="485.4" y="1075.1" width="19.5" height="23.3"/>
<rect class="kf" x="504.5" y="1075.1" width="19.4" height="23.3"/>
<rect class="k6" x="523.5" y="1075.1" width="42.3" height="23.3"/>
<rect class="k1" x="565.4" y="1075.1" width="23.3" height="23.3"/>
<rect class="k3" x="588.3" y="1075.1" width="42.3" height="23.3"/>
<rect class="k5" x="630.2" y="1075.1" width="19.4" height="23.3"/>
<rect class="k2" x="649.2" y="1075.1" width="19.4" height="23.3"/>
<rect class="k4" x="668.2" y="1075.1" width="42.3" height="23.3"/>
<rect class="k1" x="710.1" y="1075.1" width="23.3" height="23.3"/>
<rect class="k0" x="733" y="1075.1" width="20" height="23.3"/>
<rect class="k2" x="176" y="1098" width="39.5" height="19.4"/>
<rect class="k5" x="215.1" y="1098" width="23.2" height="19.4"/>
<rect class="k3" x="237.9" y="1098" width="19.5" height="19.4"/>
<rect class="k6" x="257" y="1098" width="23.2" height="19.4"/>
<rect class="k3" x="279.8" y="1098" width="19.5" height="19.4"/>
<rect class="k9" x="298.9" y="1098" width="19.4" height="19.4"/>
<rect class="k3" x="317.9" y="1098" width="23.2" height="19.4"/>
<rect class="k2" x="340.7" y="1098" width="42.3" height="19.4"/>
<rect class="k6" x="382.6" y="1098" width="19.5" height="19.4"/>
<rect class="k1" x="401.7" y="1098" width="19.4" height="19.4"/>
<rect class="k2" x="420.7" y="1098" width="23.3" height="19.4"/>
<rect class="k3" x="443.6" y="1098" width="19.4" height="19.4"/>
<rect class="k1" x="462.6" y="1098" width="23.2" height="19.4"/>
<rect class="k2" x="485.4" y="1098" width="19.5" height="19.4"/>
<rect class="k6" x="504.5" y="1098" width="19.4" height="19.4"/>
<rect class="kf" x="523.5" y="1098" width="23.3" height="19.4"/>
<rect class="k4" x="546.4" y="1098" width="61.3" height="19.4"/>
<rect class="k3" x="607.3" y="1098" width="23.3" height="19.4"/>
<rect class="k8" x="630.2" y="1098" width="19.4" height="19.4"/>
<rect class="k5" x="649.2" y="1098" width="19.4" height="19.4"/>
<rect class="ka" x="668.2" y="1098" width="23.3" height="19.4"/>
<rect class="k5" x="691.1" y="1098" width="19.4" height="19.4"/>
<rect class="k2" x="710.1" y="1098" width="42.9" height="19.4"/>
<rect class="k5" x="176" y="1117" width="39.5" height="19.4"/>
<rect class="k3" x="215.1" y="1117" width="42.3" height="19.4"/>
<rect class="k4" x="257" y="1117" width="23.2" height="19.4"/>
<rect class="k0" x="279.8" y="1117" width="38.5" height="19.4"/>
<rect class="k5" x="317.9" y="1117" width="23.2" height="19.4"/>
<rect class="k1" x="340.7" y="1117" width="19.5" height="19.4"/>
<rect class="k4" x="359.8" y="1117" width="23.2" height="19.4"/>
<rect class="k3" x="382.6" y="1117" width="19.5" height="19.4"/>
<rect class="k0" x="401.7" y="1117" width="19.4" height="19.4"/>
<rect class="k1" x="420.7" y="1117" width="42.3" height="19.4"/>
<rect class="k8" x="462.6" y="1117" width="23.2" height="19.4"/>
<rect class="k5" x="485.4" y="1117" width="19.5" height="19.4"/>
<rect class="k6" x="504.5" y="1117" width="19.4" height="19.4"/>
<rect class="k4" x="523.5" y="1117" width="23.3" height="19.4"/>
<rect class="kf" x="546.4" y="1117" width="19.4" height="19.4"/>
<rect class="k4" x="565.4" y="1117" width="23.3" height="19.4"/>
<rect class="k5" x="588.3" y="1117" width="19.4" height="19.4"/>
<rect class="k3" x="607.3" y="1117" width="23.3" height="19.4"/>
<rect class="k9" x="630.2" y="1117" width="19.4" height="19.4"/>
<rect class="k4" x="649.2" y="1117" width="19.4" height="19.4"/>
<rect class="k5" x="668.2" y="1117" width="23.3" height="19.4"/>
<rect class="k2" x="691.1" y="1117" width="42.3" height="19.4"/>
<rect class="k1" x="733" y="1117" width="20" height="19.4"/>
<rect class="k1" x="176" y="1136" width="20.4" height="23.2"/>
<rect class="k5" x="196" y="1136" width="19.5" height="23.2"/>
<rect class="kj" x="215.1" y="1136" width="23.2" height="23.2"/>
<rect class="k9" x="237.9" y="1136" width="19.5" height="23.2"/>
<rect class="k2" x="257" y="1136" width="23.2" height="23.2"/>
<rect class="k5" x="279.8" y="1136" width="19.5" height="23.2"/>
<rect class="k3" x="298.9" y="1136" width="19.4" height="23.2"/>
<rect class="k5" x="317.9" y="1136" width="23.2" height="23.2"/>
<rect class="k4" x="340.7" y="1136" width="19.5" height="23.2"/>
<rect class="k5" x="359.8" y="1136" width="23.2" height="23.2"/>
<rect class="k3" x="382.6" y="1136" width="19.5" height="23.2"/>
<rect class="k6" x="401.7" y="1136" width="19.4" height="23.2"/>
<rect class="k7" x="420.7" y="1136" width="23.3" height="23.2"/>
<rect class="k5" x="443.6" y="1136" width="19.4" height="23.2"/>
<rect class="k0" x="462.6" y="1136" width="23.2" height="23.2"/>
<rect class="k7" x="485.4" y="1136" width="19.5" height="23.2"/>
<rect class="k1" x="504.5" y="1136" width="19.4" height="23.2"/>
<rect class="k4" x="523.5" y="1136" width="42.3" height="23.2"/>
<rect class="kf" x="565.4" y="1136" width="23.3" height="23.2"/>
<rect class="k4" x="588.3" y="1136" width="42.3" height="23.2"/>
<rect class="k2" x="630.2" y="1136" width="19.4" height="23.2"/>
<rect class="k1" x="649.2" y="1136" width="42.3" height="23.2"/>
<rect class="k4" x="691.1" y="1136" width="42.3" height="23.2"/>
<rect class="k5" x="733" y="1136" width="20" height="23.2"/>
<rect class="k0" x="176" y="1158.8" width="39.5" height="19.5"/>
<rect class="k8" x="215.1" y="1158.8" width="23.2" height="19.5"/>
<rect class="k6" x="237.9" y="1158.8" width="19.5" height="19.5"/>
<rect class="k0" x="257" y="1158.8" width="23.2" height="19.5"/>
<rect class="k3" x="279.8" y="1158.8" width="38.5" height="19.5"/>
<rect class="k6" x="317.9" y="1158.8" width="23.2" height="19.5"/>
<rect class="k1" x="340.7" y="1158.8" width="19.5" height="19.5"/>
<rect class="k7" x="359.8" y="1158.8" width="23.2" height="19.5"/>
<rect class="k8" x="382.6" y="1158.8" width="19.5" height="19.5"/>
<rect class="k0" x="401.7" y="1158.8" width="19.4" height="19.5"/>
<rect class="k8" x="420.7" y="1158.8" width="23.3" height="19.5"/>
<rect class="k5" x="443.6" y="1158.8" width="19.4" height="19.5"/>
<rect class="k2" x="462.6" y="1158.8" width="23.2" height="19.5"/>
<rect class="k3" x="485.4" y="1158.8" width="38.5" height="19.5"/>
<rect class="k4" x="523.5" y="1158.8" width="23.3" height="19.5"/>
<rect class="k5" x="546.4" y="1158.8" width="19.4" height="19.5"/>
<rect class="k4" x="565.4" y="1158.8" width="23.3" height="19.5"/>
<rect class="kf" x="588.3" y="1158.8" width="19.4" height="19.5"/>
<rect class="kg" x="607.3" y="1158.8" width="23.3" height="19.5"/>
<rect class="k6" x="630.2" y="1158.8" width="19.4" height="19.5"/>
<rect class="k1" x="649.2" y="1158.8" width="19.4" height="19.5"/>
<rect class="k2" x="668.2" y="1158.8" width="23.3" height="19.5"/>
<rect class="k6" x="691.1" y="1158.8" width="19.4" height="19.5"/>
<rect class="k2" x="710.1" y="1158.8" width="23.3" height="19.5"/>
<rect class="k1" x="733" y="1158.8" width="20" height="19.5"/>
<rect class="k3" x="176" y="1177.9" width="20.4" height="23.2"/>
<rect class="k0" x="196" y="1177.9" width="19.5" height="23.2"/>
<rect class="k6" x="215.1" y="1177.9" width="23.2" height="23.2"/>
<rect class="k2" x="237.9" y="1177.9" width="19.5" height="23.2"/>
<rect class="k1" x="257" y="1177.9" width="23.2" height="23.2"/>
<rect class="k2" x="279.8" y="1177.9" width="19.5" height="23.2"/>
<rect class="k5" x="298.9" y="1177.9" width="42.2" height="23.2"/>
<rect class="k4" x="340.7" y="1177.9" width="19.5" height="23.2"/>
<rect class="k3" x="359.8" y="1177.9" width="23.2" height="23.2"/>
<rect class="k7" x="382.6" y="1177.9" width="19.5" height="23.2"/>
<rect class="k3" x="401.7" y="1177.9" width="19.4" height="23.2"/>
<rect class="k6" x="420.7" y="1177.9" width="23.3" height="23.2"/>
<rect class="k5" x="443.6" y="1177.9" width="19.4" height="23.2"/>
<rect class="k3" x="462.6" y="1177.9" width="23.2" height="23.2"/>
<rect class="k1" x="485.4" y="1177.9" width="19.5" height="23.2"/>
<rect class="k3" x="504.5" y="1177.9" width="61.3" height="23.2"/>
<rect class="k4" x="565.4" y="1177.9" width="23.3" height="23.2"/>
<rect class="kg" x="588.3" y="1177.9" width="19.4" height="23.2"/>
<rect class="kf" x="607.3" y="1177.9" width="23.3" height="23.2"/>
<rect class="k4" x="630.2" y="1177.9" width="19.4" height="23.2"/>
<rect class="k1" x="649.2" y="1177.9" width="42.3" height="23.2"/>
<rect class="k4" x="691.1" y="1177.9" width="19.4" height="23.2"/>
<rect class="k1" x="710.1" y="1177.9" width="23.3" height="23.2"/>
<rect class="k2" x="733" y="1177.9" width="20" height="23.2"/>
<rect class="k2" x="176" y="1200.7" width="20.4" height="19.4"/>
<rect class="k6" x="196" y="1200.7" width="19.5" height="19.4"/>
<rect class="k3" x="215.1" y="1200.7" width="23.2" height="19.4"/>
<rect class="k1" x="237.9" y="1200.7" width="19.5" height="19.4"/>
<rect class="k7" x="257" y="1200.7" width="23.2" height="19.4"/>
<rect class="k2" x="279.8" y="1200.7" width="19.5" height="19.4"/>
<rect class="k9" x="298.9" y="1200.7" width="19.4" height="19.4"/>
<rect class="k5" x="317.9" y="1200.7" width="23.2" height="19.4"/>
<rect class="k3" x="340.7" y="1200.7" width="19.5" height="19.4"/>
<rect class="k2" x="359.8" y="1200.7" width="23.2" height="19.4"/>
<rect class="k5" x="382.6" y="1200.7" width="19.5" height="19.4"/>
<rect class="k1" x="401.7" y="1200.7" width="42.3" height="19.4"/>
<rect class="k0" x="443.6" y="1200.7" width="19.4" height="19.4"/>
<rect class="k7" x="462.6" y="1200.7" width="23.2" height="19.4"/>
<rect class="k2" x="485.4" y="1200.7" width="19.5" height="19.4"/>
<rect class="k5" x="504.5" y="1200.7" width="19.4" height="19.4"/>
<rect class="k8" x="523.5" y="1200.7" width="23.3" height="19.4"/>
<rect class="k9" x="546.4" y="1200.7" width="19.4" height="19.4"/>
<rect class="k2" x="565.4" y="1200.7" width="23.3" height="19.4"/>
<rect class="k6" x="588.3" y="1200.7" width="19.4" height="19.4"/>
<rect class="k4" x="607.3" y="1200.7" width="23.3" height="19.4"/>
<rect class="kf" x="630.2" y="1200.7" width="19.4" height="19.4"/>
<rect class="ke" x="649.2" y="1200.7" width="19.4" height="19.4"/>
<rect class="k3" x="668.2" y="1200.7" width="23.3" height="19.4"/>
<rect class="k5" x="691.1" y="1200.7" width="19.4" height="19.4"/>
<rect class="k2" x="710.1" y="1200.7" width="23.3" height="19.4"/>
<rect class="k3" x="733" y="1200.7" width="20" height="19.4"/>
<rect class="k3" x="176" y="1219.7" width="39.5" height="19.4"/>
<rect class="k1" x="215.1" y="1219.7" width="23.2" height="19.4"/>
<rect class="k2" x="237.9" y="1219.7" width="19.5" height="19.4"/>
<rect class="k8" x="257" y="1219.7" width="23.2" height="19.4"/>
<rect class="k2" x="279.8" y="1219.7" width="19.5" height="19.4"/>
<rect class="kk" x="298.9" y="1219.7" width="19.4" height="19.4"/>
<rect class="k1" x="317.9" y="1219.7" width="23.2" height="19.4"/>
<rect class="k3" x="340.7" y="1219.7" width="19.5" height="19.4"/>
<rect class="k2" x="359.8" y="1219.7" width="23.2" height="19.4"/>
<rect class="k1" x="382.6" y="1219.7" width="19.5" height="19.4"/>
<rect class="k3" x="401.7" y="1219.7" width="42.3" height="19.4"/>
<rect class="k2" x="443.6" y="1219.7" width="42.2" height="19.4"/>
<rect class="k1" x="485.4" y="1219.7" width="19.5" height="19.4"/>
<rect class="k2" x="504.5" y="1219.7" width="19.4" height="19.4"/>
<rect class="k5" x="523.5" y="1219.7" width="23.3" height="19.4"/>
<rect class="k4" x="546.4" y="1219.7" width="19.4" height="19.4"/>
<rect class="k1" x="565.4" y="1219.7" width="65.2" height="19.4"/>
<rect class="ke" x="630.2" y="1219.7" width="19.4" height="19.4"/>
<rect class="kf" x="649.2" y="1219.7" width="19.4" height="19.4"/>
<rect class="k2" x="668.2" y="1219.7" width="23.3" height="19.4"/>
<rect class="k4" x="691.1" y="1219.7" width="19.4" height="19.4"/>
<rect class="k1" x="710.1" y="1219.7" width="23.3" height="19.4"/>
<rect class="k7" x="733" y="1219.7" width="20" height="19.4"/>
<rect class="k5" x="176" y="1238.7" width="20.4" height="23.2"/>
<rect class="k1" x="196" y="1238.7" width="19.5" height="23.2"/>
<rect class="k2" x="215.1" y="1238.7" width="42.3" height="23.2"/>
<rect class="k1" x="257" y="1238.7" width="23.2" height="23.2"/>
<rect class="k3" x="279.8" y="1238.7" width="38.5" height="23.2"/>
<rect class="k4" x="317.9" y="1238.7" width="23.2" height="23.2"/>
<rect class="k2" x="340.7" y="1238.7" width="42.3" height="23.2"/>
<rect class="k1" x="382.6" y="1238.7" width="19.5" height="23.2"/>
<rect class="k4" x="401.7" y="1238.7" width="19.4" height="23.2"/>
<rect class="k1" x="420.7" y="1238.7" width="23.3" height="23.2"/>
<rect class="k6" x="443.6" y="1238.7" width="19.4" height="23.2"/>
<rect class="k2" x="462.6" y="1238.7" width="23.2" height="23.2"/>
<rect class="k0" x="485.4" y="1238.7" width="19.5" height="23.2"/>
<rect class="k4" x="504.5" y="1238.7" width="19.4" height="23.2"/>
<rect class="ka" x="523.5" y="1238.7" width="23.3" height="23.2"/>
<rect class="k5" x="546.4" y="1238.7" width="19.4" height="23.2"/>
<rect class="k1" x="565.4" y="1238.7" width="23.3" height="23.2"/>
<rect class="k2" x="588.3" y="1238.7" width="19.4" height="23.2"/>
<rect class="k1" x="607.3" y="1238.7" width="23.3" height="23.2"/>
<rect class="k3" x="630.2" y="1238.7" width="19.4" height="23.2"/>
<rect class="k2" x="649.2" y="1238.7" width="19.4" height="23.2"/>
<rect class="kf" x="668.2" y="1238.7" width="23.3" height="23.2"/>
<rect class="k3" x="691.1" y="1238.7" width="19.4" height="23.2"/>
<rect class="k0" x="710.1" y="1238.7" width="23.3" height="23.2"/>
<rect class="k6" x="733" y="1238.7" width="20" height="23.2"/>
<rect class="k1" x="176" y="1261.5" width="20.4" height="19.5"/>
<rect class="k5" x="196" y="1261.5" width="19.5" height="19.5"/>
<rect class="k6" x="215.1" y="1261.5" width="23.2" height="19.5"/>
<rect class="k5" x="237.9" y="1261.5" width="19.5" height="19.5"/>
<rect class="k3" x="257" y="1261.5" width="23.2" height="19.5"/>
<rect class="k5" x="279.8" y="1261.5" width="19.5" height="19.5"/>
<rect class="k2" x="298.9" y="1261.5" width="19.4" height="19.5"/>
<rect class="k4" x="317.9" y="1261.5" width="42.3" height="19.5"/>
<rect class="k5" x="359.8" y="1261.5" width="23.2" height="19.5"/>
<rect class="k4" x="382.6" y="1261.5" width="19.5" height="19.5"/>
<rect class="k8" x="401.7" y="1261.5" width="42.3" height="19.5"/>
<rect class="k3" x="443.6" y="1261.5" width="19.4" height="19.5"/>
<rect class="k4" x="462.6" y="1261.5" width="61.3" height="19.5"/>
<rect class="k5" x="523.5" y="1261.5" width="23.3" height="19.5"/>
<rect class="k2" x="546.4" y="1261.5" width="19.4" height="19.5"/>
<rect class="k4" x="565.4" y="1261.5" width="23.3" height="19.5"/>
<rect class="k6" x="588.3" y="1261.5" width="19.4" height="19.5"/>
<rect class="k4" x="607.3" y="1261.5" width="23.3" height="19.5"/>
<rect class="k5" x="630.2" y="1261.5" width="19.4" height="19.5"/>
<rect class="k4" x="649.2" y="1261.5" width="19.4" height="19.5"/>
<rect class="k3" x="668.2" y="1261.5" width="23.3" height="19.5"/>
<rect class="kf" x="691.1" y="1261.5" width="19.4" height="19.5"/>
<rect class="k7" x="710.1" y="1261.5" width="23.3" height="19.5"/>
<rect class="k5" x="733" y="1261.5" width="20" height="19.5"/>
<rect class="k2" x="176" y="1280.6" width="20.4" height="23.2"/>
<rect class="k4" x="196" y="1280.6" width="19.5" height="23.2"/>
<rect class="k2" x="215.1" y="1280.6" width="23.2" height="23.2"/>
<rect class="k6" x="237.9" y="1280.6" width="19.5" height="23.2"/>
<rect class="k5" x="257" y="1280.6" width="42.3" height="23.2"/>
<rect class="k4" x="298.9" y="1280.6" width="19.4" height="23.2"/>
<rect class="k0" x="317.9" y="1280.6" width="23.2" height="23.2"/>
<rect class="k3" x="340.7" y="1280.6" width="19.5" height="23.2"/>
<rect class="k0" x="359.8" y="1280.6" width="23.2" height="23.2"/>
<rect class="k9" x="382.6" y="1280.6" width="19.5" height="23.2"/>
<rect class="k4" x="401.7" y="1280.6" width="19.4" height="23.2"/>
<rect class="k3" x="420.7" y="1280.6" width="23.3" height="23.2"/>
<rect class="k5" x="443.6" y="1280.6" width="42.2" height="23.2"/>
<rect class="k6" x="485.4" y="1280.6" width="19.5" height="23.2"/>
<rect class="k1" x="504.5" y="1280.6" width="19.4" height="23.2"/>
<rect class="k2" x="523.5" y="1280.6" width="42.3" height="23.2"/>
<rect class="k4" x="565.4" y="1280.6" width="23.3" height="23.2"/>
<rect class="k2" x="588.3" y="1280.6" width="19.4" height="23.2"/>
<rect class="k1" x="607.3" y="1280.6" width="23.3" height="23.2"/>
<rect class="k2" x="630.2" y="1280.6" width="19.4" height="23.2"/>
<rect class="k1" x="649.2" y="1280.6" width="19.4" height="23.2"/>
<rect class="k0" x="668.2" y="1280.6" width="23.3" height="23.2"/>
<rect class="k7" x="691.1" y="1280.6" width="19.4" height="23.2"/>
<rect class="kf" x="710.1" y="1280.6" width="23.3" height="23.2"/>
<rect class="k7" x="733" y="1280.6" width="20" height="23.2"/>
<rect class="k0" x="176" y="1303.4" width="20.4" height="20.3"/>
<rect class="k2" x="196" y="1303.4" width="42.3" height="20.3"/>
<rect class="k1" x="237.9" y="1303.4" width="42.3" height="20.3"/>
<rect class="k5" x="279.8" y="1303.4" width="19.5" height="20.3"/>
<rect class="k6" x="298.9" y="1303.4" width="19.4" height="20.3"/>
<rect class="k2" x="317.9" y="1303.4" width="42.3" height="20.3"/>
<rect class="k7" x="359.8" y="1303.4" width="23.2" height="20.3"/>
<rect class="k1" x="382.6" y="1303.4" width="19.5" height="20.3"/>
<rect class="k2" x="401.7" y="1303.4" width="61.3" height="20.3"/>
<rect class="k1" x="462.6" y="1303.4" width="23.2" height="20.3"/>
<rect class="k2" x="485.4" y="1303.4" width="19.5" height="20.3"/>
<rect class="k0" x="504.5" y="1303.4" width="19.4" height="20.3"/>
<rect class="k2" x="523.5" y="1303.4" width="23.3" height="20.3"/>
<rect class="k1" x="546.4" y="1303.4" width="19.4" height="20.3"/>
<rect class="k5" x="565.4" y="1303.4" width="23.3" height="20.3"/>
<rect class="k1" x="588.3" y="1303.4" width="19.4" height="20.3"/>
<rect class="k2" x="607.3" y="1303.4" width="23.3" height="20.3"/>
<rect class="k3" x="630.2" y="1303.4" width="19.4" height="20.3"/>
<rect class="k7" x="649.2" y="1303.4" width="19.4" height="20.3"/>
<rect class="k6" x="668.2" y="1303.4" width="23.3" height="20.3"/>
<rect class="k5" x="691.1" y="1303.4" width="19.4" height="20.3"/>
<rect class="k7" x="710.1" y="1303.4" width="23.3" height="20.3"/>
<rect class="kf" x="733" y="1303.4" width="20" height="20.3"/>
</g>
<g class="hm">
<rect class="kf" x="1131" y="745" width="20.2" height="19.9"/>
<rect class="k1" x="1150.8" y="745" width="19.5" height="19.9"/>
<rect class="k0" x="1169.9" y="745" width="23.2" height="19.9"/>
<rect class="k9" x="1192.7" y="745" width="19.5" height="19.9"/>
<rect class="k6" x="1211.8" y="745" width="23.2" height="19.9"/>
<rect class="k2" x="1234.6" y="745" width="19.5" height="19.9"/>
<rect class="k3" x="1253.7" y="745" width="19.4" height="19.9"/>
<rect class="k4" x="1272.7" y="745" width="23.2" height="19.9"/>
<rect class="ka" x="1295.5" y="745" width="19.5" height="19.9"/>
<rect class="k6" x="1314.6" y="745" width="23.2" height="19.9"/>
<rect class="k4" x="1337.4" y="745" width="19.5" height="19.9"/>
<rect class="k5" x="1356.5" y="745" width="42.3" height="19.9"/>
<rect class="kb" x="1398.4" y="745" width="19.4" height="19.9"/>
<rect class="k2" x="1417.4" y="745" width="23.2" height="19.9"/>
<rect class="k1" x="1440.2" y="745" width="19.5" height="19.9"/>
<rect class="k3" x="1459.3" y="745" width="19.4" height="19.9"/>
<rect class="k2" x="1478.3" y="745" width="23.3" height="19.9"/>
<rect class="k4" x="1501.2" y="745" width="19.4" height="19.9"/>
<rect class="k2" x="1520.2" y="745" width="23.3" height="19.9"/>
<rect class="k5" x="1543.1" y="745" width="19.4" height="19.9"/>
<rect class="k4" x="1562.1" y="745" width="23.3" height="19.9"/>
<rect class="k7" x="1585" y="745" width="38.4" height="19.9"/>
<rect class="k2" x="1623" y="745" width="23.3" height="19.9"/>
<rect class="k5" x="1645.9" y="745" width="19.4" height="19.9"/>
<rect class="k2" x="1664.9" y="745" width="23.3" height="19.9"/>
<rect class="k6" x="1687.8" y="745" width="19.3" height="19.9"/>
<rect class="k1" x="1131" y="764.5" width="20.2" height="23.2"/>
<rect class="kf" x="1150.8" y="764.5" width="19.5" height="23.2"/>
<rect class="k5" x="1169.9" y="764.5" width="23.2" height="23.2"/>
<rect class="k3" x="1192.7" y="764.5" width="19.5" height="23.2"/>
<rect class="k6" x="1211.8" y="764.5" width="23.2" height="23.2"/>
<rect class="ka" x="1234.6" y="764.5" width="19.5" height="23.2"/>
<rect class="k6" x="1253.7" y="764.5" width="42.2" height="23.2"/>
<rect class="k2" x="1295.5" y="764.5" width="42.3" height="23.2"/>
<rect class="k4" x="1337.4" y="764.5" width="19.5" height="23.2"/>
<rect class="k2" x="1356.5" y="764.5" width="19.4" height="23.2"/>
<rect class="k1" x="1375.5" y="764.5" width="23.3" height="23.2"/>
<rect class="k2" x="1398.4" y="764.5" width="19.4" height="23.2"/>
<rect class="k9" x="1417.4" y="764.5" width="23.2" height="23.2"/>
<rect class="k5" x="1440.2" y="764.5" width="19.5" height="23.2"/>
<rect class="k8" x="1459.3" y="764.5" width="19.4" height="23.2"/>
<rect class="k4" x="1478.3" y="764.5" width="23.3" height="23.2"/>
<rect class="k7" x="1501.2" y="764.5" width="19.4" height="23.2"/>
<rect class="k4" x="1520.2" y="764.5" width="23.3" height="23.2"/>
<rect class="k1" x="1543.1" y="764.5" width="19.4" height="23.2"/>
<rect class="k2" x="1562.1" y="764.5" width="23.3" height="23.2"/>
<rect class="k6" x="1585" y="764.5" width="19.4" height="23.2"/>
<rect class="k7" x="1604" y="764.5" width="42.3" height="23.2"/>
<rect class="k2" x="1645.9" y="764.5" width="19.4" height="23.2"/>
<rect class="k0" x="1664.9" y="764.5" width="23.3" height="23.2"/>
<rect class="k1" x="1687.8" y="764.5" width="19.3" height="23.2"/>
<rect class="k0" x="1131" y="787.3" width="20.2" height="19.5"/>
<rect class="k5" x="1150.8" y="787.3" width="19.5" height="19.5"/>
<rect class="kf" x="1169.9" y="787.3" width="23.2" height="19.5"/>
<rect class="k9" x="1192.7" y="787.3" width="19.5" height="19.5"/>
<rect class="k3" x="1211.8" y="787.3" width="23.2" height="19.5"/>
<rect class="k6" x="1234.6" y="787.3" width="19.5" height="19.5"/>
<rect class="k3" x="1253.7" y="787.3" width="19.4" height="19.5"/>
<rect class="k0" x="1272.7" y="787.3" width="23.2" height="19.5"/>
<rect class="k2" x="1295.5" y="787.3" width="19.5" height="19.5"/>
<rect class="k3" x="1314.6" y="787.3" width="23.2" height="19.5"/>
<rect class="k0" x="1337.4" y="787.3" width="19.5" height="19.5"/>
<rect class="k4" x="1356.5" y="787.3" width="19.4" height="19.5"/>
<rect class="k5" x="1375.5" y="787.3" width="23.3" height="19.5"/>
<rect class="k3" x="1398.4" y="787.3" width="19.4" height="19.5"/>
<rect class="k8" x="1417.4" y="787.3" width="23.2" height="19.5"/>
<rect class="k9" x="1440.2" y="787.3" width="19.5" height="19.5"/>
<rect class="k4" x="1459.3" y="787.3" width="19.4" height="19.5"/>
<rect class="k2" x="1478.3" y="787.3" width="23.3" height="19.5"/>
<rect class="k4" x="1501.2" y="787.3" width="19.4" height="19.5"/>
<rect class="kc" x="1520.2" y="787.3" width="23.3" height="19.5"/>
<rect class="k5" x="1543.1" y="787.3" width="19.4" height="19.5"/>
<rect class="k7" x="1562.1" y="787.3" width="23.3" height="19.5"/>
<rect class="k3" x="1585" y="787.3" width="38.4" height="19.5"/>
<rect class="k1" x="1623" y="787.3" width="23.3" height="19.5"/>
<rect class="k2" x="1645.9" y="787.3" width="19.4" height="19.5"/>
<rect class="k3" x="1664.9" y="787.3" width="23.3" height="19.5"/>
<rect class="k0" x="1687.8" y="787.3" width="19.3" height="19.5"/>
<rect class="k9" x="1131" y="806.4" width="20.2" height="23.2"/>
<rect class="k3" x="1150.8" y="806.4" width="19.5" height="23.2"/>
<rect class="k9" x="1169.9" y="806.4" width="23.2" height="23.2"/>
<rect class="kf" x="1192.7" y="806.4" width="19.5" height="23.2"/>
<rect class="k1" x="1211.8" y="806.4" width="23.2" height="23.2"/>
<rect class="kh" x="1234.6" y="806.4" width="19.5" height="23.2"/>
<rect class="k4" x="1253.7" y="806.4" width="19.4" height="23.2"/>
<rect class="k9" x="1272.7" y="806.4" width="42.3" height="23.2"/>
<rect class="k6" x="1314.6" y="806.4" width="23.2" height="23.2"/>
<rect class="k3" x="1337.4" y="806.4" width="19.5" height="23.2"/>
<rect class="k1" x="1356.5" y="806.4" width="19.4" height="23.2"/>
<rect class="k6" x="1375.5" y="806.4" width="23.3" height="23.2"/>
<rect class="kh" x="1398.4" y="806.4" width="19.4" height="23.2"/>
<rect class="k8" x="1417.4" y="806.4" width="42.3" height="23.2"/>
<rect class="k7" x="1459.3" y="806.4" width="19.4" height="23.2"/>
<rect class="k3" x="1478.3" y="806.4" width="23.3" height="23.2"/>
<rect class="k2" x="1501.2" y="806.4" width="19.4" height="23.2"/>
<rect class="kd" x="1520.2" y="806.4" width="23.3" height="23.2"/>
<rect class="k6" x="1543.1" y="806.4" width="42.3" height="23.2"/>
<rect class="k3" x="1585" y="806.4" width="19.4" height="23.2"/>
<rect class="k1" x="1604" y="806.4" width="103.1" height="23.2"/>
<rect class="k6" x="1131" y="829.2" width="39.3" height="19.4"/>
<rect class="k3" x="1169.9" y="829.2" width="23.2" height="19.4"/>
<rect class="k1" x="1192.7" y="829.2" width="19.5" height="19.4"/>
<rect class="kf" x="1211.8" y="829.2" width="23.2" height="19.4"/>
<rect class="k4" x="1234.6" y="829.2" width="19.5" height="19.4"/>
<rect class="k8" x="1253.7" y="829.2" width="19.4" height="19.4"/>
<rect class="k1" x="1272.7" y="829.2" width="23.2" height="19.4"/>
<rect class="k2" x="1295.5" y="829.2" width="42.3" height="19.4"/>
<rect class="k5" x="1337.4" y="829.2" width="19.5" height="19.4"/>
<rect class="k2" x="1356.5" y="829.2" width="19.4" height="19.4"/>
<rect class="k1" x="1375.5" y="829.2" width="23.3" height="19.4"/>
<rect class="k3" x="1398.4" y="829.2" width="19.4" height="19.4"/>
<rect class="k8" x="1417.4" y="829.2" width="23.2" height="19.4"/>
<rect class="k5" x="1440.2" y="829.2" width="19.5" height="19.4"/>
<rect class="k2" x="1459.3" y="829.2" width="19.4" height="19.4"/>
<rect class="k8" x="1478.3" y="829.2" width="23.3" height="19.4"/>
<rect class="k5" x="1501.2" y="829.2" width="19.4" height="19.4"/>
<rect class="k3" x="1520.2" y="829.2" width="23.3" height="19.4"/>
<rect class="k2" x="1543.1" y="829.2" width="19.4" height="19.4"/>
<rect class="k1" x="1562.1" y="829.2" width="23.3" height="19.4"/>
<rect class="kb" x="1585" y="829.2" width="19.4" height="19.4"/>
<rect class="kc" x="1604" y="829.2" width="19.4" height="19.4"/>
<rect class="k8" x="1623" y="829.2" width="23.3" height="19.4"/>
<rect class="k5" x="1645.9" y="829.2" width="19.4" height="19.4"/>
<rect class="k9" x="1664.9" y="829.2" width="23.3" height="19.4"/>
<rect class="k4" x="1687.8" y="829.2" width="19.3" height="19.4"/>
<rect class="k2" x="1131" y="848.2" width="20.2" height="19.4"/>
<rect class="ka" x="1150.8" y="848.2" width="19.5" height="19.4"/>
<rect class="k6" x="1169.9" y="848.2" width="23.2" height="19.4"/>
<rect class="kh" x="1192.7" y="848.2" width="19.5" height="19.4"/>
<rect class="k4" x="1211.8" y="848.2" width="23.2" height="19.4"/>
<rect class="kf" x="1234.6" y="848.2" width="19.5" height="19.4"/>
<rect class="k7" x="1253.7" y="848.2" width="19.4" height="19.4"/>
<rect class="k8" x="1272.7" y="848.2" width="23.2" height="19.4"/>
<rect class="k2" x="1295.5" y="848.2" width="19.5" height="19.4"/>
<rect class="k4" x="1314.6" y="848.2" width="23.2" height="19.4"/>
<rect class="k9" x="1337.4" y="848.2" width="19.5" height="19.4"/>
<rect class="k3" x="1356.5" y="848.2" width="19.4" height="19.4"/>
<rect class="k4" x="1375.5" y="848.2" width="23.3" height="19.4"/>
<rect class="k0" x="1398.4" y="848.2" width="19.4" height="19.4"/>
<rect class="k9" x="1417.4" y="848.2" width="23.2" height="19.4"/>
<rect class="k5" x="1440.2" y="848.2" width="19.5" height="19.4"/>
<rect class="ka" x="1459.3" y="848.2" width="19.4" height="19.4"/>
<rect class="k4" x="1478.3" y="848.2" width="42.3" height="19.4"/>
<rect class="k9" x="1520.2" y="848.2" width="23.3" height="19.4"/>
<rect class="k4" x="1543.1" y="848.2" width="19.4" height="19.4"/>
<rect class="k3" x="1562.1" y="848.2" width="23.3" height="19.4"/>
<rect class="k1" x="1585" y="848.2" width="19.4" height="19.4"/>
<rect class="k4" x="1604" y="848.2" width="19.4" height="19.4"/>
<rect class="k2" x="1623" y="848.2" width="23.3" height="19.4"/>
<rect class="k0" x="1645.9" y="848.2" width="42.3" height="19.4"/>
<rect class="k2" x="1687.8" y="848.2" width="19.3" height="19.4"/>
<rect class="k3" x="1131" y="867.2" width="20.2" height="23.3"/>
<rect class="k6" x="1150.8" y="867.2" width="19.5" height="23.3"/>
<rect class="k3" x="1169.9" y="867.2" width="23.2" height="23.3"/>
<rect class="k4" x="1192.7" y="867.2" width="19.5" height="23.3"/>
<rect class="k8" x="1211.8" y="867.2" width="23.2" height="23.3"/>
<rect class="k7" x="1234.6" y="867.2" width="19.5" height="23.3"/>
<rect class="kf" x="1253.7" y="867.2" width="19.4" height="23.3"/>
<rect class="k3" x="1272.7" y="867.2" width="23.2" height="23.3"/>
<rect class="k4" x="1295.5" y="867.2" width="42.3" height="23.3"/>
<rect class="k9" x="1337.4" y="867.2" width="19.5" height="23.3"/>
<rect class="k3" x="1356.5" y="867.2" width="19.4" height="23.3"/>
<rect class="k1" x="1375.5" y="867.2" width="42.3" height="23.3"/>
<rect class="k3" x="1417.4" y="867.2" width="23.2" height="23.3"/>
<rect class="k7" x="1440.2" y="867.2" width="19.5" height="23.3"/>
<rect class="k3" x="1459.3" y="867.2" width="19.4" height="23.3"/>
<rect class="k6" x="1478.3" y="867.2" width="23.3" height="23.3"/>
<rect class="k2" x="1501.2" y="867.2" width="19.4" height="23.3"/>
<rect class="k5" x="1520.2" y="867.2" width="23.3" height="23.3"/>
<rect class="k4" x="1543.1" y="867.2" width="19.4" height="23.3"/>
<rect class="k3" x="1562.1" y="867.2" width="23.3" height="23.3"/>
<rect class="k7" x="1585" y="867.2" width="19.4" height="23.3"/>
<rect class="k8" x="1604" y="867.2" width="19.4" height="23.3"/>
<rect class="k9" x="1623" y="867.2" width="23.3" height="23.3"/>
<rect class="k1" x="1645.9" y="867.2" width="19.4" height="23.3"/>
<rect class="k3" x="1664.9" y="867.2" width="23.3" height="23.3"/>
<rect class="k2" x="1687.8" y="867.2" width="19.3" height="23.3"/>
<rect class="k4" x="1131" y="890.1" width="20.2" height="19.4"/>
<rect class="k6" x="1150.8" y="890.1" width="19.5" height="19.4"/>
<rect class="k0" x="1169.9" y="890.1" width="23.2" height="19.4"/>
<rect class="k9" x="1192.7" y="890.1" width="19.5" height="19.4"/>
<rect class="k1" x="1211.8" y="890.1" width="23.2" height="19.4"/>
<rect class="k8" x="1234.6" y="890.1" width="19.5" height="19.4"/>
<rect class="k3" x="1253.7" y="890.1" width="19.4" height="19.4"/>
<rect class="kf" x="1272.7" y="890.1" width="23.2" height="19.4"/>
<rect class="k6" x="1295.5" y="890.1" width="19.5" height="19.4"/>
<rect class="k7" x="1314.6" y="890.1" width="23.2" height="19.4"/>
<rect class="k4" x="1337.4" y="890.1" width="19.5" height="19.4"/>
<rect class="k0" x="1356.5" y="890.1" width="19.4" height="19.4"/>
<rect class="k3" x="1375.5" y="890.1" width="42.3" height="19.4"/>
<rect class="k2" x="1417.4" y="890.1" width="23.2" height="19.4"/>
<rect class="k5" x="1440.2" y="890.1" width="19.5" height="19.4"/>
<rect class="ka" x="1459.3" y="890.1" width="19.4" height="19.4"/>
<rect class="k1" x="1478.3" y="890.1" width="23.3" height="19.4"/>
<rect class="k5" x="1501.2" y="890.1" width="19.4" height="19.4"/>
<rect class="k6" x="1520.2" y="890.1" width="23.3" height="19.4"/>
<rect class="k2" x="1543.1" y="890.1" width="42.3" height="19.4"/>
<rect class="k7" x="1585" y="890.1" width="19.4" height="19.4"/>
<rect class="k5" x="1604" y="890.1" width="19.4" height="19.4"/>
<rect class="k3" x="1623" y="890.1" width="23.3" height="19.4"/>
<rect class="k6" x="1645.9" y="890.1" width="19.4" height="19.4"/>
<rect class="k1" x="1664.9" y="890.1" width="23.3" height="19.4"/>
<rect class="k3" x="1687.8" y="890.1" width="19.3" height="19.4"/>
<rect class="ka" x="1131" y="909.1" width="20.2" height="23.2"/>
<rect class="k2" x="1150.8" y="909.1" width="42.3" height="23.2"/>
<rect class="k9" x="1192.7" y="909.1" width="19.5" height="23.2"/>
<rect class="k2" x="1211.8" y="909.1" width="42.3" height="23.2"/>
<rect class="k4" x="1253.7" y="909.1" width="19.4" height="23.2"/>
<rect class="k6" x="1272.7" y="909.1" width="23.2" height="23.2"/>
<rect class="kf" x="1295.5" y="909.1" width="19.5" height="23.2"/>
<rect class="k6" x="1314.6" y="909.1" width="23.2" height="23.2"/>
<rect class="k2" x="1337.4" y="909.1" width="19.5" height="23.2"/>
<rect class="k8" x="1356.5" y="909.1" width="19.4" height="23.2"/>
<rect class="k6" x="1375.5" y="909.1" width="23.3" height="23.2"/>
<rect class="k9" x="1398.4" y="909.1" width="19.4" height="23.2"/>
<rect class="k6" x="1417.4" y="909.1" width="23.2" height="23.2"/>
<rect class="k1" x="1440.2" y="909.1" width="19.5" height="23.2"/>
<rect class="k5" x="1459.3" y="909.1" width="19.4" height="23.2"/>
<rect class="k1" x="1478.3" y="909.1" width="23.3" height="23.2"/>
<rect class="k0" x="1501.2" y="909.1" width="19.4" height="23.2"/>
<rect class="k6" x="1520.2" y="909.1" width="23.3" height="23.2"/>
<rect class="k3" x="1543.1" y="909.1" width="19.4" height="23.2"/>
<rect class="k4" x="1562.1" y="909.1" width="23.3" height="23.2"/>
<rect class="k2" x="1585" y="909.1" width="19.4" height="23.2"/>
<rect class="k1" x="1604" y="909.1" width="61.3" height="23.2"/>
<rect class="k2" x="1664.9" y="909.1" width="23.3" height="23.2"/>
<rect class="k4" x="1687.8" y="909.1" width="19.3" height="23.2"/>
<rect class="k6" x="1131" y="931.9" width="20.2" height="19.4"/>
<rect class="k2" x="1150.8" y="931.9" width="19.5" height="19.4"/>
<rect class="k3" x="1169.9" y="931.9" width="23.2" height="19.4"/>
<rect class="k6" x="1192.7" y="931.9" width="19.5" height="19.4"/>
<rect class="k2" x="1211.8" y="931.9" width="23.2" height="19.4"/>
<rect class="k4" x="1234.6" y="931.9" width="38.5" height="19.4"/>
<rect class="k7" x="1272.7" y="931.9" width="23.2" height="19.4"/>
<rect class="k6" x="1295.5" y="931.9" width="19.5" height="19.4"/>
<rect class="kf" x="1314.6" y="931.9" width="23.2" height="19.4"/>
<rect class="k7" x="1337.4" y="931.9" width="19.5" height="19.4"/>
<rect class="k8" x="1356.5" y="931.9" width="42.3" height="19.4"/>
<rect class="ka" x="1398.4" y="931.9" width="19.4" height="19.4"/>
<rect class="k7" x="1417.4" y="931.9" width="23.2" height="19.4"/>
<rect class="k3" x="1440.2" y="931.9" width="19.5" height="19.4"/>
<rect class="k4" x="1459.3" y="931.9" width="19.4" height="19.4"/>
<rect class="k3" x="1478.3" y="931.9" width="23.3" height="19.4"/>
<rect class="k0" x="1501.2" y="931.9" width="19.4" height="19.4"/>
<rect class="k3" x="1520.2" y="931.9" width="23.3" height="19.4"/>
<rect class="k7" x="1543.1" y="931.9" width="19.4" height="19.4"/>
<rect class="k5" x="1562.1" y="931.9" width="23.3" height="19.4"/>
<rect class="k2" x="1585" y="931.9" width="38.4" height="19.4"/>
<rect class="k4" x="1623" y="931.9" width="23.3" height="19.4"/>
<rect class="k2" x="1645.9" y="931.9" width="19.4" height="19.4"/>
<rect class="k5" x="1664.9" y="931.9" width="42.2" height="19.4"/>
<rect class="k4" x="1131" y="950.9" width="39.3" height="19.4"/>
<rect class="k0" x="1169.9" y="950.9" width="23.2" height="19.4"/>
<rect class="k3" x="1192.7" y="950.9" width="19.5" height="19.4"/>
<rect class="k5" x="1211.8" y="950.9" width="23.2" height="19.4"/>
<rect class="k9" x="1234.6" y="950.9" width="38.5" height="19.4"/>
<rect class="k4" x="1272.7" y="950.9" width="23.2" height="19.4"/>
<rect class="k2" x="1295.5" y="950.9" width="19.5" height="19.4"/>
<rect class="k7" x="1314.6" y="950.9" width="23.2" height="19.4"/>
<rect class="kf" x="1337.4" y="950.9" width="19.5" height="19.4"/>
<rect class="k4" x="1356.5" y="950.9" width="19.4" height="19.4"/>
<rect class="k2" x="1375.5" y="950.9" width="84.2" height="19.4"/>
<rect class="k3" x="1459.3" y="950.9" width="42.3" height="19.4"/>
<rect class="k4" x="1501.2" y="950.9" width="19.4" height="19.4"/>
<rect class="k2" x="1520.2" y="950.9" width="23.3" height="19.4"/>
<rect class="k5" x="1543.1" y="950.9" width="19.4" height="19.4"/>
<rect class="k3" x="1562.1" y="950.9" width="23.3" height="19.4"/>
<rect class="k8" x="1585" y="950.9" width="19.4" height="19.4"/>
<rect class="ka" x="1604" y="950.9" width="19.4" height="19.4"/>
<rect class="k3" x="1623" y="950.9" width="23.3" height="19.4"/>
<rect class="k1" x="1645.9" y="950.9" width="19.4" height="19.4"/>
<rect class="k5" x="1664.9" y="950.9" width="23.3" height="19.4"/>
<rect class="k6" x="1687.8" y="950.9" width="19.3" height="19.4"/>
<rect class="k5" x="1131" y="969.9" width="20.2" height="23.3"/>
<rect class="k2" x="1150.8" y="969.9" width="19.5" height="23.3"/>
<rect class="k4" x="1169.9" y="969.9" width="23.2" height="23.3"/>
<rect class="k1" x="1192.7" y="969.9" width="19.5" height="23.3"/>
<rect class="k2" x="1211.8" y="969.9" width="23.2" height="23.3"/>
<rect class="k3" x="1234.6" y="969.9" width="38.5" height="23.3"/>
<rect class="k0" x="1272.7" y="969.9" width="23.2" height="23.3"/>
<rect class="k8" x="1295.5" y="969.9" width="42.3" height="23.3"/>
<rect class="k4" x="1337.4" y="969.9" width="19.5" height="23.3"/>
<rect class="kf" x="1356.5" y="969.9" width="19.4" height="23.3"/>
<rect class="kd" x="1375.5" y="969.9" width="23.3" height="23.3"/>
<rect class="k8" x="1398.4" y="969.9" width="19.4" height="23.3"/>
<rect class="k3" x="1417.4" y="969.9" width="42.3" height="23.3"/>
<rect class="k2" x="1459.3" y="969.9" width="61.3" height="23.3"/>
<rect class="k0" x="1520.2" y="969.9" width="23.3" height="23.3"/>
<rect class="k4" x="1543.1" y="969.9" width="19.4" height="23.3"/>
<rect class="k1" x="1562.1" y="969.9" width="23.3" height="23.3"/>
<rect class="k5" x="1585" y="969.9" width="38.4" height="23.3"/>
<rect class="k2" x="1623" y="969.9" width="23.3" height="23.3"/>
<rect class="k1" x="1645.9" y="969.9" width="19.4" height="23.3"/>
<rect class="k2" x="1664.9" y="969.9" width="23.3" height="23.3"/>
<rect class="k4" x="1687.8" y="969.9" width="19.3" height="23.3"/>
<rect class="k5" x="1131" y="992.8" width="20.2" height="19.4"/>
<rect class="k1" x="1150.8" y="992.8" width="19.5" height="19.4"/>
<rect class="k5" x="1169.9" y="992.8" width="23.2" height="19.4"/>
<rect class="k6" x="1192.7" y="992.8" width="19.5" height="19.4"/>
<rect class="k1" x="1211.8" y="992.8" width="23.2" height="19.4"/>
<rect class="k4" x="1234.6" y="992.8" width="19.5" height="19.4"/>
<rect class="k1" x="1253.7" y="992.8" width="19.4" height="19.4"/>
<rect class="k3" x="1272.7" y="992.8" width="23.2" height="19.4"/>
<rect class="k6" x="1295.5" y="992.8" width="19.5" height="19.4"/>
<rect class="k8" x="1314.6" y="992.8" width="23.2" height="19.4"/>
<rect class="k2" x="1337.4" y="992.8" width="19.5" height="19.4"/>
<rect class="kd" x="1356.5" y="992.8" width="19.4" height="19.4"/>
<rect class="kf" x="1375.5" y="992.8" width="23.3" height="19.4"/>
<rect class="k8" x="1398.4" y="992.8" width="19.4" height="19.4"/>
<rect class="k7" x="1417.4" y="992.8" width="23.2" height="19.4"/>
<rect class="k0" x="1440.2" y="992.8" width="19.5" height="19.4"/>
<rect class="k3" x="1459.3" y="992.8" width="19.4" height="19.4"/>
<rect class="k1" x="1478.3" y="992.8" width="42.3" height="19.4"/>
<rect class="k5" x="1520.2" y="992.8" width="23.3" height="19.4"/>
<rect class="k7" x="1543.1" y="992.8" width="19.4" height="19.4"/>
<rect class="k8" x="1562.1" y="992.8" width="23.3" height="19.4"/>
<rect class="k5" x="1585" y="992.8" width="19.4" height="19.4"/>
<rect class="k4" x="1604" y="992.8" width="19.4" height="19.4"/>
<rect class="k0" x="1623" y="992.8" width="23.3" height="19.4"/>
<rect class="k3" x="1645.9" y="992.8" width="19.4" height="19.4"/>
<rect class="k0" x="1664.9" y="992.8" width="23.3" height="19.4"/>
<rect class="k1" x="1687.8" y="992.8" width="19.3" height="19.4"/>
<rect class="kb" x="1131" y="1011.8" width="20.2" height="23.2"/>
<rect class="k2" x="1150.8" y="1011.8" width="19.5" height="23.2"/>
<rect class="k3" x="1169.9" y="1011.8" width="23.2" height="23.2"/>
<rect class="kh" x="1192.7" y="1011.8" width="19.5" height="23.2"/>
<rect class="k3" x="1211.8" y="1011.8" width="23.2" height="23.2"/>
<rect class="k0" x="1234.6" y="1011.8" width="19.5" height="23.2"/>
<rect class="k1" x="1253.7" y="1011.8" width="19.4" height="23.2"/>
<rect class="k3" x="1272.7" y="1011.8" width="23.2" height="23.2"/>
<rect class="k9" x="1295.5" y="1011.8" width="19.5" height="23.2"/>
<rect class="ka" x="1314.6" y="1011.8" width="23.2" height="23.2"/>
<rect class="k2" x="1337.4" y="1011.8" width="19.5" height="23.2"/>
<rect class="k8" x="1356.5" y="1011.8" width="42.3" height="23.2"/>
<rect class="kf" x="1398.4" y="1011.8" width="19.4" height="23.2"/>
<rect class="k8" x="1417.4" y="1011.8" width="23.2" height="23.2"/>
<rect class="k7" x="1440.2" y="1011.8" width="19.5" height="23.2"/>
<rect class="k4" x="1459.3" y="1011.8" width="19.4" height="23.2"/>
<rect class="k2" x="1478.3" y="1011.8" width="42.3" height="23.2"/>
<rect class="k7" x="1520.2" y="1011.8" width="42.3" height="23.2"/>
<rect class="k6" x="1562.1" y="1011.8" width="23.3" height="23.2"/>
<rect class="k5" x="1585" y="1011.8" width="19.4" height="23.2"/>
<rect class="k3" x="1604" y="1011.8" width="19.4" height="23.2"/>
<rect class="k1" x="1623" y="1011.8" width="23.3" height="23.2"/>
<rect class="k6" x="1645.9" y="1011.8" width="19.4" height="23.2"/>
<rect class="k4" x="1664.9" y="1011.8" width="42.2" height="23.2"/>
<rect class="k2" x="1131" y="1034.6" width="20.2" height="19.4"/>
<rect class="k9" x="1150.8" y="1034.6" width="19.5" height="19.4"/>
<rect class="k8" x="1169.9" y="1034.6" width="65.1" height="19.4"/>
<rect class="k9" x="1234.6" y="1034.6" width="19.5" height="19.4"/>
<rect class="k3" x="1253.7" y="1034.6" width="19.4" height="19.4"/>
<rect class="k2" x="1272.7" y="1034.6" width="23.2" height="19.4"/>
<rect class="k6" x="1295.5" y="1034.6" width="19.5" height="19.4"/>
<rect class="k7" x="1314.6" y="1034.6" width="23.2" height="19.4"/>
<rect class="k2" x="1337.4" y="1034.6" width="19.5" height="19.4"/>
<rect class="k3" x="1356.5" y="1034.6" width="19.4" height="19.4"/>
<rect class="k7" x="1375.5" y="1034.6" width="23.3" height="19.4"/>
<rect class="k8" x="1398.4" y="1034.6" width="19.4" height="19.4"/>
<rect class="kf" x="1417.4" y="1034.6" width="23.2" height="19.4"/>
<rect class="k6" x="1440.2" y="1034.6" width="19.5" height="19.4"/>
<rect class="k8" x="1459.3" y="1034.6" width="19.4" height="19.4"/>
<rect class="k6" x="1478.3" y="1034.6" width="23.3" height="19.4"/>
<rect class="ka" x="1501.2" y="1034.6" width="19.4" height="19.4"/>
<rect class="k8" x="1520.2" y="1034.6" width="42.3" height="19.4"/>
<rect class="k6" x="1562.1" y="1034.6" width="23.3" height="19.4"/>
<rect class="k5" x="1585" y="1034.6" width="19.4" height="19.4"/>
<rect class="k3" x="1604" y="1034.6" width="19.4" height="19.4"/>
<rect class="k6" x="1623" y="1034.6" width="23.3" height="19.4"/>
<rect class="k8" x="1645.9" y="1034.6" width="19.4" height="19.4"/>
<rect class="k1" x="1664.9" y="1034.6" width="23.3" height="19.4"/>
<rect class="k2" x="1687.8" y="1034.6" width="19.3" height="19.4"/>
<rect class="k1" x="1131" y="1053.6" width="20.2" height="19.4"/>
<rect class="k5" x="1150.8" y="1053.6" width="19.5" height="19.4"/>
<rect class="k9" x="1169.9" y="1053.6" width="23.2" height="19.4"/>
<rect class="k8" x="1192.7" y="1053.6" width="19.5" height="19.4"/>
<rect class="k5" x="1211.8" y="1053.6" width="42.3" height="19.4"/>
<rect class="k7" x="1253.7" y="1053.6" width="19.4" height="19.4"/>
<rect class="k5" x="1272.7" y="1053.6" width="23.2" height="19.4"/>
<rect class="k1" x="1295.5" y="1053.6" width="19.5" height="19.4"/>
<rect class="k3" x="1314.6" y="1053.6" width="23.2" height="19.4"/>
<rect class="k2" x="1337.4" y="1053.6" width="19.5" height="19.4"/>
<rect class="k3" x="1356.5" y="1053.6" width="19.4" height="19.4"/>
<rect class="k0" x="1375.5" y="1053.6" width="23.3" height="19.4"/>
<rect class="k7" x="1398.4" y="1053.6" width="19.4" height="19.4"/>
<rect class="k6" x="1417.4" y="1053.6" width="23.2" height="19.4"/>
<rect class="kf" x="1440.2" y="1053.6" width="19.5" height="19.4"/>
<rect class="k8" x="1459.3" y="1053.6" width="19.4" height="19.4"/>
<rect class="k6" x="1478.3" y="1053.6" width="23.3" height="19.4"/>
<rect class="k5" x="1501.2" y="1053.6" width="19.4" height="19.4"/>
<rect class="k9" x="1520.2" y="1053.6" width="23.3" height="19.4"/>
<rect class="k3" x="1543.1" y="1053.6" width="19.4" height="19.4"/>
<rect class="k4" x="1562.1" y="1053.6" width="42.3" height="19.4"/>
<rect class="k5" x="1604" y="1053.6" width="19.4" height="19.4"/>
<rect class="k3" x="1623" y="1053.6" width="23.3" height="19.4"/>
<rect class="k2" x="1645.9" y="1053.6" width="19.4" height="19.4"/>
<rect class="k5" x="1664.9" y="1053.6" width="23.3" height="19.4"/>
<rect class="k3" x="1687.8" y="1053.6" width="19.3" height="19.4"/>
<rect class="k3" x="1131" y="1072.6" width="20.2" height="23.3"/>
<rect class="k8" x="1150.8" y="1072.6" width="19.5" height="23.3"/>
<rect class="k4" x="1169.9" y="1072.6" width="23.2" height="23.3"/>
<rect class="k7" x="1192.7" y="1072.6" width="19.5" height="23.3"/>
<rect class="k2" x="1211.8" y="1072.6" width="23.2" height="23.3"/>
<rect class="ka" x="1234.6" y="1072.6" width="19.5" height="23.3"/>
<rect class="k3" x="1253.7" y="1072.6" width="19.4" height="23.3"/>
<rect class="ka" x="1272.7" y="1072.6" width="23.2" height="23.3"/>
<rect class="k5" x="1295.5" y="1072.6" width="19.5" height="23.3"/>
<rect class="k4" x="1314.6" y="1072.6" width="23.2" height="23.3"/>
<rect class="k3" x="1337.4" y="1072.6" width="19.5" height="23.3"/>
<rect class="k2" x="1356.5" y="1072.6" width="19.4" height="23.3"/>
<rect class="k3" x="1375.5" y="1072.6" width="23.3" height="23.3"/>
<rect class="k4" x="1398.4" y="1072.6" width="19.4" height="23.3"/>
<rect class="k8" x="1417.4" y="1072.6" width="42.3" height="23.3"/>
<rect class="kf" x="1459.3" y="1072.6" width="19.4" height="23.3"/>
<rect class="k4" x="1478.3" y="1072.6" width="42.3" height="23.3"/>
<rect class="k6" x="1520.2" y="1072.6" width="23.3" height="23.3"/>
<rect class="k1" x="1543.1" y="1072.6" width="19.4" height="23.3"/>
<rect class="k2" x="1562.1" y="1072.6" width="61.3" height="23.3"/>
<rect class="k3" x="1623" y="1072.6" width="23.3" height="23.3"/>
<rect class="k7" x="1645.9" y="1072.6" width="19.4" height="23.3"/>
<rect class="k2" x="1664.9" y="1072.6" width="23.3" height="23.3"/>
<rect class="k0" x="1687.8" y="1072.6" width="19.3" height="23.3"/>
<rect class="k2" x="1131" y="1095.5" width="20.2" height="19.4"/>
<rect class="k4" x="1150.8" y="1095.5" width="19.5" height="19.4"/>
<rect class="k2" x="1169.9" y="1095.5" width="23.2" height="19.4"/>
<rect class="k3" x="1192.7" y="1095.5" width="19.5" height="19.4"/>
<rect class="k8" x="1211.8" y="1095.5" width="23.2" height="19.4"/>
<rect class="k4" x="1234.6" y="1095.5" width="19.5" height="19.4"/>
<rect class="k6" x="1253.7" y="1095.5" width="19.4" height="19.4"/>
<rect class="k1" x="1272.7" y="1095.5" width="42.3" height="19.4"/>
<rect class="k3" x="1314.6" y="1095.5" width="42.3" height="19.4"/>
<rect class="k2" x="1356.5" y="1095.5" width="19.4" height="19.4"/>
<rect class="k1" x="1375.5" y="1095.5" width="23.3" height="19.4"/>
<rect class="k2" x="1398.4" y="1095.5" width="19.4" height="19.4"/>
<rect class="k6" x="1417.4" y="1095.5" width="42.3" height="19.4"/>
<rect class="k4" x="1459.3" y="1095.5" width="19.4" height="19.4"/>
<rect class="kf" x="1478.3" y="1095.5" width="23.3" height="19.4"/>
<rect class="k5" x="1501.2" y="1095.5" width="19.4" height="19.4"/>
<rect class="k0" x="1520.2" y="1095.5" width="23.3" height="19.4"/>
<rect class="k2" x="1543.1" y="1095.5" width="42.3" height="19.4"/>
<rect class="k4" x="1585" y="1095.5" width="19.4" height="19.4"/>
<rect class="k2" x="1604" y="1095.5" width="19.4" height="19.4"/>
<rect class="ka" x="1623" y="1095.5" width="23.3" height="19.4"/>
<rect class="k0" x="1645.9" y="1095.5" width="19.4" height="19.4"/>
<rect class="k4" x="1664.9" y="1095.5" width="23.3" height="19.4"/>
<rect class="k2" x="1687.8" y="1095.5" width="19.3" height="19.4"/>
<rect class="k4" x="1131" y="1114.5" width="20.2" height="19.4"/>
<rect class="k7" x="1150.8" y="1114.5" width="19.5" height="19.4"/>
<rect class="k4" x="1169.9" y="1114.5" width="23.2" height="19.4"/>
<rect class="k2" x="1192.7" y="1114.5" width="19.5" height="19.4"/>
<rect class="k5" x="1211.8" y="1114.5" width="23.2" height="19.4"/>
<rect class="k4" x="1234.6" y="1114.5" width="19.5" height="19.4"/>
<rect class="k2" x="1253.7" y="1114.5" width="19.4" height="19.4"/>
<rect class="k5" x="1272.7" y="1114.5" width="23.2" height="19.4"/>
<rect class="k0" x="1295.5" y="1114.5" width="42.3" height="19.4"/>
<rect class="k4" x="1337.4" y="1114.5" width="19.5" height="19.4"/>
<rect class="k2" x="1356.5" y="1114.5" width="19.4" height="19.4"/>
<rect class="k1" x="1375.5" y="1114.5" width="23.3" height="19.4"/>
<rect class="k2" x="1398.4" y="1114.5" width="19.4" height="19.4"/>
<rect class="ka" x="1417.4" y="1114.5" width="23.2" height="19.4"/>
<rect class="k5" x="1440.2" y="1114.5" width="19.5" height="19.4"/>
<rect class="k4" x="1459.3" y="1114.5" width="19.4" height="19.4"/>
<rect class="k5" x="1478.3" y="1114.5" width="23.3" height="19.4"/>
<rect class="kf" x="1501.2" y="1114.5" width="19.4" height="19.4"/>
<rect class="k2" x="1520.2" y="1114.5" width="23.3" height="19.4"/>
<rect class="k3" x="1543.1" y="1114.5" width="19.4" height="19.4"/>
<rect class="k4" x="1562.1" y="1114.5" width="23.3" height="19.4"/>
<rect class="k9" x="1585" y="1114.5" width="19.4" height="19.4"/>
<rect class="k7" x="1604" y="1114.5" width="19.4" height="19.4"/>
<rect class="k4" x="1623" y="1114.5" width="23.3" height="19.4"/>
<rect class="k5" x="1645.9" y="1114.5" width="19.4" height="19.4"/>
<rect class="k4" x="1664.9" y="1114.5" width="23.3" height="19.4"/>
<rect class="k3" x="1687.8" y="1114.5" width="19.3" height="19.4"/>
<rect class="k2" x="1131" y="1133.5" width="20.2" height="23.2"/>
<rect class="k4" x="1150.8" y="1133.5" width="19.5" height="23.2"/>
<rect class="kc" x="1169.9" y="1133.5" width="23.2" height="23.2"/>
<rect class="kd" x="1192.7" y="1133.5" width="19.5" height="23.2"/>
<rect class="k3" x="1211.8" y="1133.5" width="23.2" height="23.2"/>
<rect class="k9" x="1234.6" y="1133.5" width="19.5" height="23.2"/>
<rect class="k5" x="1253.7" y="1133.5" width="19.4" height="23.2"/>
<rect class="k6" x="1272.7" y="1133.5" width="42.3" height="23.2"/>
<rect class="k3" x="1314.6" y="1133.5" width="23.2" height="23.2"/>
<rect class="k2" x="1337.4" y="1133.5" width="19.5" height="23.2"/>
<rect class="k0" x="1356.5" y="1133.5" width="19.4" height="23.2"/>
<rect class="k5" x="1375.5" y="1133.5" width="23.3" height="23.2"/>
<rect class="k7" x="1398.4" y="1133.5" width="19.4" height="23.2"/>
<rect class="k8" x="1417.4" y="1133.5" width="23.2" height="23.2"/>
<rect class="k9" x="1440.2" y="1133.5" width="19.5" height="23.2"/>
<rect class="k6" x="1459.3" y="1133.5" width="19.4" height="23.2"/>
<rect class="k0" x="1478.3" y="1133.5" width="23.3" height="23.2"/>
<rect class="k2" x="1501.2" y="1133.5" width="19.4" height="23.2"/>
<rect class="kf" x="1520.2" y="1133.5" width="23.3" height="23.2"/>
<rect class="k6" x="1543.1" y="1133.5" width="19.4" height="23.2"/>
<rect class="k7" x="1562.1" y="1133.5" width="23.3" height="23.2"/>
<rect class="k1" x="1585" y="1133.5" width="19.4" height="23.2"/>
<rect class="k2" x="1604" y="1133.5" width="19.4" height="23.2"/>
<rect class="k0" x="1623" y="1133.5" width="23.3" height="23.2"/>
<rect class="k5" x="1645.9" y="1133.5" width="19.4" height="23.2"/>
<rect class="k2" x="1664.9" y="1133.5" width="42.2" height="23.2"/>
<rect class="k5" x="1131" y="1156.3" width="20.2" height="19.5"/>
<rect class="k1" x="1150.8" y="1156.3" width="19.5" height="19.5"/>
<rect class="k5" x="1169.9" y="1156.3" width="23.2" height="19.5"/>
<rect class="k6" x="1192.7" y="1156.3" width="19.5" height="19.5"/>
<rect class="k2" x="1211.8" y="1156.3" width="23.2" height="19.5"/>
<rect class="k4" x="1234.6" y="1156.3" width="38.5" height="19.5"/>
<rect class="k2" x="1272.7" y="1156.3" width="23.2" height="19.5"/>
<rect class="k3" x="1295.5" y="1156.3" width="19.5" height="19.5"/>
<rect class="k7" x="1314.6" y="1156.3" width="23.2" height="19.5"/>
<rect class="k5" x="1337.4" y="1156.3" width="19.5" height="19.5"/>
<rect class="k4" x="1356.5" y="1156.3" width="19.4" height="19.5"/>
<rect class="k7" x="1375.5" y="1156.3" width="42.3" height="19.5"/>
<rect class="k8" x="1417.4" y="1156.3" width="23.2" height="19.5"/>
<rect class="k3" x="1440.2" y="1156.3" width="19.5" height="19.5"/>
<rect class="k1" x="1459.3" y="1156.3" width="19.4" height="19.5"/>
<rect class="k2" x="1478.3" y="1156.3" width="23.3" height="19.5"/>
<rect class="k3" x="1501.2" y="1156.3" width="19.4" height="19.5"/>
<rect class="k6" x="1520.2" y="1156.3" width="23.3" height="19.5"/>
<rect class="kf" x="1543.1" y="1156.3" width="19.4" height="19.5"/>
<rect class="kj" x="1562.1" y="1156.3" width="23.3" height="19.5"/>
<rect class="k1" x="1585" y="1156.3" width="19.4" height="19.5"/>
<rect class="k2" x="1604" y="1156.3" width="19.4" height="19.5"/>
<rect class="k4" x="1623" y="1156.3" width="23.3" height="19.5"/>
<rect class="k5" x="1645.9" y="1156.3" width="19.4" height="19.5"/>
<rect class="k2" x="1664.9" y="1156.3" width="23.3" height="19.5"/>
<rect class="k1" x="1687.8" y="1156.3" width="19.3" height="19.5"/>
<rect class="k4" x="1131" y="1175.4" width="20.2" height="23.2"/>
<rect class="k2" x="1150.8" y="1175.4" width="19.5" height="23.2"/>
<rect class="k7" x="1169.9" y="1175.4" width="23.2" height="23.2"/>
<rect class="k6" x="1192.7" y="1175.4" width="19.5" height="23.2"/>
<rect class="k1" x="1211.8" y="1175.4" width="23.2" height="23.2"/>
<rect class="k3" x="1234.6" y="1175.4" width="38.5" height="23.2"/>
<rect class="k2" x="1272.7" y="1175.4" width="23.2" height="23.2"/>
<rect class="k4" x="1295.5" y="1175.4" width="19.5" height="23.2"/>
<rect class="k5" x="1314.6" y="1175.4" width="23.2" height="23.2"/>
<rect class="k3" x="1337.4" y="1175.4" width="19.5" height="23.2"/>
<rect class="k1" x="1356.5" y="1175.4" width="19.4" height="23.2"/>
<rect class="k8" x="1375.5" y="1175.4" width="23.3" height="23.2"/>
<rect class="k6" x="1398.4" y="1175.4" width="42.2" height="23.2"/>
<rect class="k4" x="1440.2" y="1175.4" width="19.5" height="23.2"/>
<rect class="k2" x="1459.3" y="1175.4" width="42.3" height="23.2"/>
<rect class="k4" x="1501.2" y="1175.4" width="19.4" height="23.2"/>
<rect class="k7" x="1520.2" y="1175.4" width="23.3" height="23.2"/>
<rect class="kj" x="1543.1" y="1175.4" width="19.4" height="23.2"/>
<rect class="kf" x="1562.1" y="1175.4" width="23.3" height="23.2"/>
<rect class="k2" x="1585" y="1175.4" width="19.4" height="23.2"/>
<rect class="k1" x="1604" y="1175.4" width="19.4" height="23.2"/>
<rect class="k4" x="1623" y="1175.4" width="23.3" height="23.2"/>
<rect class="k5" x="1645.9" y="1175.4" width="19.4" height="23.2"/>
<rect class="k1" x="1664.9" y="1175.4" width="42.2" height="23.2"/>
<rect class="k7" x="1131" y="1198.2" width="20.2" height="19.4"/>
<rect class="k6" x="1150.8" y="1198.2" width="19.5" height="19.4"/>
<rect class="k3" x="1169.9" y="1198.2" width="42.3" height="19.4"/>
<rect class="kb" x="1211.8" y="1198.2" width="23.2" height="19.4"/>
<rect class="k1" x="1234.6" y="1198.2" width="19.5" height="19.4"/>
<rect class="k7" x="1253.7" y="1198.2" width="42.2" height="19.4"/>
<rect class="k2" x="1295.5" y="1198.2" width="42.3" height="19.4"/>
<rect class="k8" x="1337.4" y="1198.2" width="19.5" height="19.4"/>
<rect class="k5" x="1356.5" y="1198.2" width="84.1" height="19.4"/>
<rect class="k4" x="1440.2" y="1198.2" width="19.5" height="19.4"/>
<rect class="k2" x="1459.3" y="1198.2" width="19.4" height="19.4"/>
<rect class="k4" x="1478.3" y="1198.2" width="23.3" height="19.4"/>
<rect class="k9" x="1501.2" y="1198.2" width="19.4" height="19.4"/>
<rect class="k1" x="1520.2" y="1198.2" width="42.3" height="19.4"/>
<rect class="k2" x="1562.1" y="1198.2" width="23.3" height="19.4"/>
<rect class="kf" x="1585" y="1198.2" width="19.4" height="19.4"/>
<rect class="kg" x="1604" y="1198.2" width="19.4" height="19.4"/>
<rect class="k5" x="1623" y="1198.2" width="23.3" height="19.4"/>
<rect class="k6" x="1645.9" y="1198.2" width="19.4" height="19.4"/>
<rect class="k5" x="1664.9" y="1198.2" width="42.2" height="19.4"/>
<rect class="k7" x="1131" y="1217.2" width="39.3" height="19.4"/>
<rect class="k3" x="1169.9" y="1217.2" width="23.2" height="19.4"/>
<rect class="k1" x="1192.7" y="1217.2" width="19.5" height="19.4"/>
<rect class="kc" x="1211.8" y="1217.2" width="23.2" height="19.4"/>
<rect class="k4" x="1234.6" y="1217.2" width="19.5" height="19.4"/>
<rect class="k8" x="1253.7" y="1217.2" width="19.4" height="19.4"/>
<rect class="k5" x="1272.7" y="1217.2" width="23.2" height="19.4"/>
<rect class="k1" x="1295.5" y="1217.2" width="19.5" height="19.4"/>
<rect class="k2" x="1314.6" y="1217.2" width="23.2" height="19.4"/>
<rect class="ka" x="1337.4" y="1217.2" width="19.5" height="19.4"/>
<rect class="k5" x="1356.5" y="1217.2" width="19.4" height="19.4"/>
<rect class="k4" x="1375.5" y="1217.2" width="23.3" height="19.4"/>
<rect class="k3" x="1398.4" y="1217.2" width="42.2" height="19.4"/>
<rect class="k5" x="1440.2" y="1217.2" width="19.5" height="19.4"/>
<rect class="k2" x="1459.3" y="1217.2" width="42.3" height="19.4"/>
<rect class="k7" x="1501.2" y="1217.2" width="19.4" height="19.4"/>
<rect class="k2" x="1520.2" y="1217.2" width="42.3" height="19.4"/>
<rect class="k1" x="1562.1" y="1217.2" width="23.3" height="19.4"/>
<rect class="kg" x="1585" y="1217.2" width="19.4" height="19.4"/>
<rect class="kf" x="1604" y="1217.2" width="19.4" height="19.4"/>
<rect class="k5" x="1623" y="1217.2" width="23.3" height="19.4"/>
<rect class="k3" x="1645.9" y="1217.2" width="19.4" height="19.4"/>
<rect class="k5" x="1664.9" y="1217.2" width="42.2" height="19.4"/>
<rect class="k2" x="1131" y="1236.2" width="20.2" height="23.2"/>
<rect class="k7" x="1150.8" y="1236.2" width="19.5" height="23.2"/>
<rect class="k1" x="1169.9" y="1236.2" width="42.3" height="23.2"/>
<rect class="k8" x="1211.8" y="1236.2" width="23.2" height="23.2"/>
<rect class="k2" x="1234.6" y="1236.2" width="19.5" height="23.2"/>
<rect class="k9" x="1253.7" y="1236.2" width="19.4" height="23.2"/>
<rect class="k3" x="1272.7" y="1236.2" width="23.2" height="23.2"/>
<rect class="k1" x="1295.5" y="1236.2" width="19.5" height="23.2"/>
<rect class="k4" x="1314.6" y="1236.2" width="23.2" height="23.2"/>
<rect class="k3" x="1337.4" y="1236.2" width="19.5" height="23.2"/>
<rect class="k2" x="1356.5" y="1236.2" width="19.4" height="23.2"/>
<rect class="k0" x="1375.5" y="1236.2" width="23.3" height="23.2"/>
<rect class="k1" x="1398.4" y="1236.2" width="19.4" height="23.2"/>
<rect class="k6" x="1417.4" y="1236.2" width="23.2" height="23.2"/>
<rect class="k3" x="1440.2" y="1236.2" width="38.5" height="23.2"/>
<rect class="ka" x="1478.3" y="1236.2" width="23.3" height="23.2"/>
<rect class="k4" x="1501.2" y="1236.2" width="19.4" height="23.2"/>
<rect class="k0" x="1520.2" y="1236.2" width="23.3" height="23.2"/>
<rect class="k4" x="1543.1" y="1236.2" width="42.3" height="23.2"/>
<rect class="k5" x="1585" y="1236.2" width="38.4" height="23.2"/>
<rect class="kf" x="1623" y="1236.2" width="23.3" height="23.2"/>
<rect class="k2" x="1645.9" y="1236.2" width="19.4" height="23.2"/>
<rect class="k1" x="1664.9" y="1236.2" width="23.3" height="23.2"/>
<rect class="k5" x="1687.8" y="1236.2" width="19.3" height="23.2"/>
<rect class="k5" x="1131" y="1259" width="20.2" height="19.5"/>
<rect class="k2" x="1150.8" y="1259" width="42.3" height="19.5"/>
<rect class="k1" x="1192.7" y="1259" width="19.5" height="19.5"/>
<rect class="k5" x="1211.8" y="1259" width="23.2" height="19.5"/>
<rect class="k0" x="1234.6" y="1259" width="19.5" height="19.5"/>
<rect class="k1" x="1253.7" y="1259" width="19.4" height="19.5"/>
<rect class="k6" x="1272.7" y="1259" width="23.2" height="19.5"/>
<rect class="k1" x="1295.5" y="1259" width="19.5" height="19.5"/>
<rect class="k2" x="1314.6" y="1259" width="23.2" height="19.5"/>
<rect class="k1" x="1337.4" y="1259" width="38.5" height="19.5"/>
<rect class="k3" x="1375.5" y="1259" width="23.3" height="19.5"/>
<rect class="k6" x="1398.4" y="1259" width="19.4" height="19.5"/>
<rect class="k8" x="1417.4" y="1259" width="23.2" height="19.5"/>
<rect class="k2" x="1440.2" y="1259" width="19.5" height="19.5"/>
<rect class="k7" x="1459.3" y="1259" width="19.4" height="19.5"/>
<rect class="k0" x="1478.3" y="1259" width="23.3" height="19.5"/>
<rect class="k5" x="1501.2" y="1259" width="84.2" height="19.5"/>
<rect class="k6" x="1585" y="1259" width="19.4" height="19.5"/>
<rect class="k3" x="1604" y="1259" width="19.4" height="19.5"/>
<rect class="k2" x="1623" y="1259" width="23.3" height="19.5"/>
<rect class="kf" x="1645.9" y="1259" width="19.4" height="19.5"/>
<rect class="k1" x="1664.9" y="1259" width="23.3" height="19.5"/>
<rect class="k4" x="1687.8" y="1259" width="19.3" height="19.5"/>
<rect class="k2" x="1131" y="1278.1" width="20.2" height="23.2"/>
<rect class="k0" x="1150.8" y="1278.1" width="19.5" height="23.2"/>
<rect class="k3" x="1169.9" y="1278.1" width="23.2" height="23.2"/>
<rect class="k1" x="1192.7" y="1278.1" width="19.5" height="23.2"/>
<rect class="k9" x="1211.8" y="1278.1" width="23.2" height="23.2"/>
<rect class="k0" x="1234.6" y="1278.1" width="19.5" height="23.2"/>
<rect class="k3" x="1253.7" y="1278.1" width="19.4" height="23.2"/>
<rect class="k1" x="1272.7" y="1278.1" width="23.2" height="23.2"/>
<rect class="k2" x="1295.5" y="1278.1" width="19.5" height="23.2"/>
<rect class="k5" x="1314.6" y="1278.1" width="42.3" height="23.2"/>
<rect class="k2" x="1356.5" y="1278.1" width="19.4" height="23.2"/>
<rect class="k0" x="1375.5" y="1278.1" width="23.3" height="23.2"/>
<rect class="k4" x="1398.4" y="1278.1" width="19.4" height="23.2"/>
<rect class="k1" x="1417.4" y="1278.1" width="23.2" height="23.2"/>
<rect class="k5" x="1440.2" y="1278.1" width="19.5" height="23.2"/>
<rect class="k2" x="1459.3" y="1278.1" width="19.4" height="23.2"/>
<rect class="k4" x="1478.3" y="1278.1" width="42.3" height="23.2"/>
<rect class="k2" x="1520.2" y="1278.1" width="42.3" height="23.2"/>
<rect class="k1" x="1562.1" y="1278.1" width="23.3" height="23.2"/>
<rect class="k5" x="1585" y="1278.1" width="38.4" height="23.2"/>
<rect class="k1" x="1623" y="1278.1" width="42.3" height="23.2"/>
<rect class="kf" x="1664.9" y="1278.1" width="23.3" height="23.2"/>
<rect class="k5" x="1687.8" y="1278.1" width="19.3" height="23.2"/>
<rect class="k6" x="1131" y="1300.9" width="20.2" height="21.1"/>
<rect class="k1" x="1150.8" y="1300.9" width="19.5" height="21.1"/>
<rect class="k0" x="1169.9" y="1300.9" width="23.2" height="21.1"/>
<rect class="k1" x="1192.7" y="1300.9" width="19.5" height="21.1"/>
<rect class="k4" x="1211.8" y="1300.9" width="23.2" height="21.1"/>
<rect class="k2" x="1234.6" y="1300.9" width="38.5" height="21.1"/>
<rect class="k3" x="1272.7" y="1300.9" width="23.2" height="21.1"/>
<rect class="k4" x="1295.5" y="1300.9" width="19.5" height="21.1"/>
<rect class="k5" x="1314.6" y="1300.9" width="23.2" height="21.1"/>
<rect class="k6" x="1337.4" y="1300.9" width="19.5" height="21.1"/>
<rect class="k4" x="1356.5" y="1300.9" width="19.4" height="21.1"/>
<rect class="k1" x="1375.5" y="1300.9" width="23.3" height="21.1"/>
<rect class="k4" x="1398.4" y="1300.9" width="19.4" height="21.1"/>
<rect class="k2" x="1417.4" y="1300.9" width="23.2" height="21.1"/>
<rect class="k3" x="1440.2" y="1300.9" width="19.5" height="21.1"/>
<rect class="k0" x="1459.3" y="1300.9" width="19.4" height="21.1"/>
<rect class="k2" x="1478.3" y="1300.9" width="23.3" height="21.1"/>
<rect class="k3" x="1501.2" y="1300.9" width="19.4" height="21.1"/>
<rect class="k2" x="1520.2" y="1300.9" width="23.3" height="21.1"/>
<rect class="k1" x="1543.1" y="1300.9" width="42.3" height="21.1"/>
<rect class="k5" x="1585" y="1300.9" width="61.3" height="21.1"/>
<rect class="k4" x="1645.9" y="1300.9" width="19.4" height="21.1"/>
<rect class="k5" x="1664.9" y="1300.9" width="23.3" height="21.1"/>
<rect class="kf" x="1687.8" y="1300.9" width="19.3" height="21.1"/>
</g>
<defs><linearGradient id="jet1" gradientUnits="userSpaceOnUse" x1="0" y1="123.5" x2="0" y2="694.5"><stop offset="0" stop-color="#8c0000"/><stop offset="0.05" stop-color="#c80000"/><stop offset="0.086" stop-color="#fa0000"/><stop offset="0.14" stop-color="#ff0000"/><stop offset="0.2" stop-color="#ff4600"/><stop offset="0.267" stop-color="#ff8c00"/><stop offset="0.305" stop-color="#ffb400"/><stop offset="0.372" stop-color="#ffff00"/><stop offset="0.4" stop-color="#dcff00"/><stop offset="0.427" stop-color="#aaff00"/><stop offset="0.46" stop-color="#78ff28"/><stop offset="0.48" stop-color="#46ff46"/><stop offset="0.49" stop-color="#00ff5f"/><stop offset="0.542" stop-color="#00ff96"/><stop offset="0.6" stop-color="#00ffdc"/><stop offset="0.623" stop-color="#00ffff"/><stop offset="0.657" stop-color="#00dcff"/><stop offset="0.715" stop-color="#00a0ff"/><stop offset="0.754" stop-color="#0078ff"/><stop offset="0.8" stop-color="#003cff"/><stop offset="0.85" stop-color="#000aff"/><stop offset="0.877" stop-color="#0000ff"/><stop offset="0.927" stop-color="#0000c8"/><stop offset="1" stop-color="#00008c"/></linearGradient></defs>
<rect x="824" y="122" width="85.3" height="568.8" fill="url(#jet1)"/>
<rect class="bk" x="824" y="122" width="85.3" height="1.8"/>
<rect class="bk" x="824" y="689.6" width="85.3" height="1.2"/>
<rect class="bk" x="824" y="122" width="1" height="568.8"/>
<rect class="bk" x="907.7" y="122" width="1.6" height="568.8"/>
<path class="tk" d="M824 237.7h5.5M909.3 237.7h-6"/>
<path class="tk" d="M824 351.9h5.5M909.3 351.9h-6"/>
<path class="tk" d="M824 466.1h5.5M909.3 466.1h-6"/>
<path class="tk" d="M824 580.3h5.5M909.3 580.3h-6"/>
<clipPath id="one1"><rect x="916.8" y="87" width="50" height="45.6"/><rect x="932.7" y="131" width="5.6" height="7"/></clipPath>
<text class="tl" clip-path="url(#one1)" x="920.8" y="137" font-size="50">1</text>
<text class="tl" x="920" y="251.8" font-size="50">0.8</text>
<text class="tl" x="920" y="366" font-size="50">0.6</text>
<text class="tl" x="920" y="480.2" font-size="50">0.4</text>
<text class="tl" x="920" y="594.4" font-size="50">0.2</text>
<defs><linearGradient id="jet2" gradientUnits="userSpaceOnUse" x1="0" y1="123.5" x2="0" y2="694.5"><stop offset="0" stop-color="#8c0000"/><stop offset="0.05" stop-color="#c80000"/><stop offset="0.086" stop-color="#fa0000"/><stop offset="0.14" stop-color="#ff0000"/><stop offset="0.2" stop-color="#ff4600"/><stop offset="0.267" stop-color="#ff8c00"/><stop offset="0.305" stop-color="#ffb400"/><stop offset="0.372" stop-color="#ffff00"/><stop offset="0.4" stop-color="#dcff00"/><stop offset="0.427" stop-color="#aaff00"/><stop offset="0.46" stop-color="#78ff28"/><stop offset="0.48" stop-color="#46ff46"/><stop offset="0.49" stop-color="#00ff5f"/><stop offset="0.542" stop-color="#00ff96"/><stop offset="0.6" stop-color="#00ffdc"/><stop offset="0.623" stop-color="#00ffff"/><stop offset="0.657" stop-color="#00dcff"/><stop offset="0.715" stop-color="#00a0ff"/><stop offset="0.754" stop-color="#0078ff"/><stop offset="0.8" stop-color="#003cff"/><stop offset="0.85" stop-color="#000aff"/><stop offset="0.877" stop-color="#0000ff"/><stop offset="0.927" stop-color="#0000c8"/><stop offset="1" stop-color="#00008c"/></linearGradient></defs>
<rect x="1778" y="121.9" width="85.3" height="568.8" fill="url(#jet2)"/>
<rect class="bk" x="1778" y="121.9" width="85.3" height="1.7"/>
<rect class="bk" x="1778" y="689.6" width="85.3" height="1.1"/>
<rect class="bk" x="1778" y="121.9" width="1" height="568.8"/>
<rect class="bk" x="1862.1" y="121.9" width="1.2" height="568.8"/>
<path class="tk" d="M1778 237.7h5.5M1863.3 237.7h-6"/>
<path class="tk" d="M1778 351.9h5.5M1863.3 351.9h-6"/>
<path class="tk" d="M1778 466.1h5.5M1863.3 466.1h-6"/>
<path class="tk" d="M1778 580.3h5.5M1863.3 580.3h-6"/>
<clipPath id="one2"><rect x="1870.5" y="87.1" width="50" height="45.6"/><rect x="1886.4" y="131.1" width="5.6" height="7"/></clipPath>
<text class="tl" clip-path="url(#one2)" x="1874.5" y="137.1" font-size="50">1</text>
<text class="tl" x="1873.7" y="251.8" font-size="50">0.8</text>
<text class="tl" x="1873.7" y="366" font-size="50">0.6</text>
<text class="tl" x="1873.7" y="480.2" font-size="50">0.4</text>
<text class="tl" x="1873.7" y="594.4" font-size="50">0.2</text>
<defs><linearGradient id="jet3" gradientUnits="userSpaceOnUse" x1="0" y1="751.467" x2="0" y2="1342.13"><stop offset="0" stop-color="#8c0000"/><stop offset="0.05" stop-color="#c80000"/><stop offset="0.086" stop-color="#fa0000"/><stop offset="0.14" stop-color="#ff0000"/><stop offset="0.2" stop-color="#ff4600"/><stop offset="0.267" stop-color="#ff8c00"/><stop offset="0.305" stop-color="#ffb400"/><stop offset="0.372" stop-color="#ffff00"/><stop offset="0.4" stop-color="#dcff00"/><stop offset="0.427" stop-color="#aaff00"/><stop offset="0.46" stop-color="#78ff28"/><stop offset="0.48" stop-color="#46ff46"/><stop offset="0.49" stop-color="#00ff5f"/><stop offset="0.542" stop-color="#00ff96"/><stop offset="0.6" stop-color="#00ffdc"/><stop offset="0.623" stop-color="#00ffff"/><stop offset="0.657" stop-color="#00dcff"/><stop offset="0.715" stop-color="#00a0ff"/><stop offset="0.754" stop-color="#0078ff"/><stop offset="0.8" stop-color="#003cff"/><stop offset="0.85" stop-color="#000aff"/><stop offset="0.877" stop-color="#0000ff"/><stop offset="0.927" stop-color="#0000c8"/><stop offset="1" stop-color="#00008c"/></linearGradient></defs>
<rect x="827.1" y="751.1" width="90" height="580.6" fill="url(#jet3)"/>
<rect class="bk" x="827.1" y="751.1" width="90" height="1.2"/>
<rect class="bk" x="827.1" y="1330.2" width="90" height="1.5"/>
<rect class="bk" x="827.1" y="751.1" width="2" height="580.6"/>
<rect class="bk" x="915.9" y="751.1" width="1.2" height="580.6"/>
<path class="tk" d="M827.1 869.6h5.5M917.1 869.6h-6"/>
<path class="tk" d="M827.1 987.6h5.5M917.1 987.6h-6"/>
<path class="tk" d="M827.1 1106h5.5M917.1 1106h-6"/>
<path class="tk" d="M827.1 1224h5.5M917.1 1224h-6"/>
<clipPath id="one3"><rect x="924.3" y="715.2" width="50.5" height="46.06"/><rect x="940.32" y="759.64" width="5.66" height="7.06"/></clipPath>
<text class="tl" clip-path="url(#one3)" x="928.3" y="765.7" font-size="50.5">1</text>
<text class="tl" x="927.5" y="883.7" font-size="50.5">0.8</text>
<text class="tl" x="927.5" y="1001.7" font-size="50.5">0.6</text>
<text class="tl" x="927.5" y="1120.1" font-size="50.5">0.4</text>
<text class="tl" x="927.5" y="1238.1" font-size="50.5">0.2</text>
<defs><linearGradient id="jet4" gradientUnits="userSpaceOnUse" x1="0" y1="746.967" x2="0" y2="1330.63"><stop offset="0" stop-color="#8c0000"/><stop offset="0.05" stop-color="#c80000"/><stop offset="0.086" stop-color="#fa0000"/><stop offset="0.14" stop-color="#ff0000"/><stop offset="0.2" stop-color="#ff4600"/><stop offset="0.267" stop-color="#ff8c00"/><stop offset="0.305" stop-color="#ffb400"/><stop offset="0.372" stop-color="#ffff00"/><stop offset="0.4" stop-color="#dcff00"/><stop offset="0.427" stop-color="#aaff00"/><stop offset="0.46" stop-color="#78ff28"/><stop offset="0.48" stop-color="#46ff46"/><stop offset="0.49" stop-color="#00ff5f"/><stop offset="0.542" stop-color="#00ff96"/><stop offset="0.6" stop-color="#00ffdc"/><stop offset="0.623" stop-color="#00ffff"/><stop offset="0.657" stop-color="#00dcff"/><stop offset="0.715" stop-color="#00a0ff"/><stop offset="0.754" stop-color="#0078ff"/><stop offset="0.8" stop-color="#003cff"/><stop offset="0.85" stop-color="#000aff"/><stop offset="0.877" stop-color="#0000ff"/><stop offset="0.927" stop-color="#0000c8"/><stop offset="1" stop-color="#00008c"/></linearGradient></defs>
<rect x="1782" y="747.9" width="89.1" height="582" fill="url(#jet4)"/>
<rect class="bk" x="1782" y="747.9" width="89.1" height="2"/>
<rect class="bk" x="1782" y="1328.4" width="89.1" height="1.5"/>
<rect class="bk" x="1782" y="747.9" width="1" height="582"/>
<rect class="bk" x="1869.1" y="747.9" width="2" height="582"/>
<path class="tk" d="M1782 863.7h5.5M1871.1 863.7h-6"/>
<path class="tk" d="M1782 981.7h5.5M1871.1 981.7h-6"/>
<path class="tk" d="M1782 1095.8h5.5M1871.1 1095.8h-6"/>
<path class="tk" d="M1782 1213.9h5.5M1871.1 1213.9h-6"/>
<clipPath id="one4"><rect x="1878.5" y="712.7" width="50.5" height="46.06"/><rect x="1894.52" y="757.14" width="5.66" height="7.06"/></clipPath>
<text class="tl" clip-path="url(#one4)" x="1882.5" y="763.2" font-size="50.5">1</text>
<text class="tl" x="1881.7" y="877.8" font-size="50.5">0.8</text>
<text class="tl" x="1881.7" y="995.8" font-size="50.5">0.6</text>
<text class="tl" x="1881.7" y="1109.9" font-size="50.5">0.4</text>
<text class="tl" x="1881.7" y="1228" font-size="50.5">0.2</text>
</svg></body></html>
